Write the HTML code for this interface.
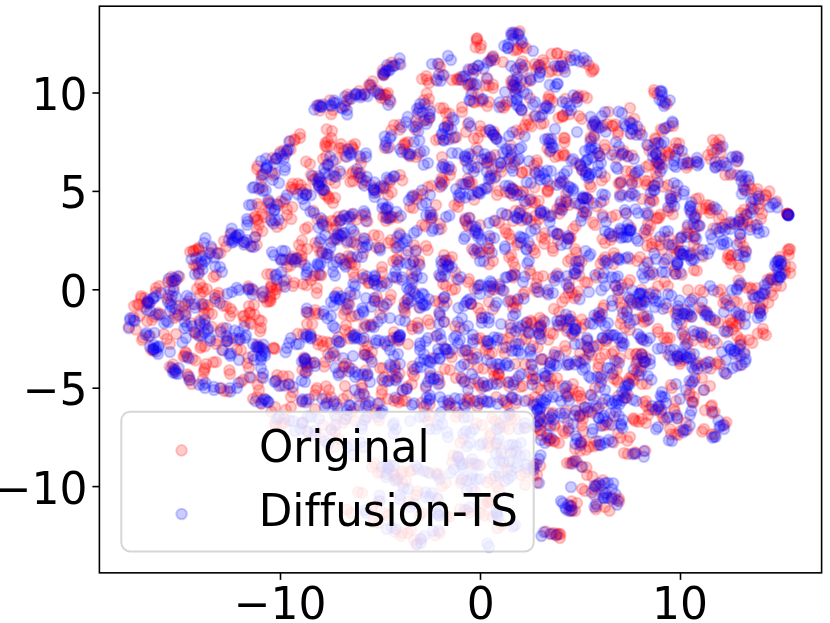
<!DOCTYPE html><html><head><meta charset="utf-8"><style>text{font-variant-ligatures:none}html,body{margin:0;padding:0;background:#fff;overflow:hidden}svg{display:block}</style></head><body><svg width="830" height="623" viewBox="0 0 830 623"><rect width="830" height="623" fill="#fff"/><g fill="#f00" fill-opacity="0.2" stroke="#f00" stroke-opacity="0.2" stroke-width="2"><circle cx="318.5" cy="105.3" r="5.3"/><circle cx="319.6" cy="104.9" r="5.3"/><circle cx="319.8" cy="110.6" r="5.3"/><circle cx="329.9" cy="100.2" r="5.3"/><circle cx="333.0" cy="110.0" r="5.3"/><circle cx="331.2" cy="114.2" r="5.3"/><circle cx="349.8" cy="97.1" r="5.3"/><circle cx="349.3" cy="99.0" r="5.3"/><circle cx="347.5" cy="94.5" r="5.3"/><circle cx="344.0" cy="105.9" r="5.3"/><circle cx="345.1" cy="106.6" r="5.3"/><circle cx="300.0" cy="134.0" r="5.3"/><circle cx="300.1" cy="137.9" r="5.3"/><circle cx="332.0" cy="131.0" r="5.3"/><circle cx="326.7" cy="129.3" r="5.3"/><circle cx="327.8" cy="141.0" r="5.3"/><circle cx="325.7" cy="142.8" r="5.3"/><circle cx="331.4" cy="138.1" r="5.3"/><circle cx="341.0" cy="144.0" r="5.3"/><circle cx="341.4" cy="148.2" r="5.3"/><circle cx="355.0" cy="144.0" r="5.3"/><circle cx="351.7" cy="145.8" r="5.3"/><circle cx="290.3" cy="141.2" r="5.3"/><circle cx="294.5" cy="140.4" r="5.3"/><circle cx="294.7" cy="139.2" r="5.3"/><circle cx="383.8" cy="74.4" r="5.3"/><circle cx="383.2" cy="74.9" r="5.3"/><circle cx="384.4" cy="73.8" r="5.3"/><circle cx="389.2" cy="66.7" r="5.3"/><circle cx="391.6" cy="62.6" r="5.3"/><circle cx="382.9" cy="69.9" r="5.3"/><circle cx="392.4" cy="65.8" r="5.3"/><circle cx="398.9" cy="63.5" r="5.3"/><circle cx="476.7" cy="38.7" r="5.3"/><circle cx="476.7" cy="40.7" r="5.3"/><circle cx="477.1" cy="38.4" r="5.3"/><circle cx="475.6" cy="47.3" r="5.3"/><circle cx="481.0" cy="45.0" r="5.3"/><circle cx="480.4" cy="48.3" r="5.3"/><circle cx="439.0" cy="64.0" r="5.3"/><circle cx="440.1" cy="67.0" r="5.3"/><circle cx="442.4" cy="74.8" r="5.3"/><circle cx="435.9" cy="79.4" r="5.3"/><circle cx="422.0" cy="79.0" r="5.3"/><circle cx="426.4" cy="76.0" r="5.3"/><circle cx="429.0" cy="83.0" r="5.3"/><circle cx="426.9" cy="79.9" r="5.3"/><circle cx="452.0" cy="80.0" r="5.3"/><circle cx="456.7" cy="79.1" r="5.3"/><circle cx="457.7" cy="79.9" r="5.3"/><circle cx="460.3" cy="77.0" r="5.3"/><circle cx="459.4" cy="79.4" r="5.3"/><circle cx="473.0" cy="68.6" r="5.3"/><circle cx="469.5" cy="70.6" r="5.3"/><circle cx="476.3" cy="70.1" r="5.3"/><circle cx="472.4" cy="83.3" r="5.3"/><circle cx="468.4" cy="84.5" r="5.3"/><circle cx="471.0" cy="83.4" r="5.3"/><circle cx="467.9" cy="85.1" r="5.3"/><circle cx="478.0" cy="94.0" r="5.3"/><circle cx="472.6" cy="91.9" r="5.3"/><circle cx="473.3" cy="101.6" r="5.3"/><circle cx="479.5" cy="101.2" r="5.3"/><circle cx="482.4" cy="101.3" r="5.3"/><circle cx="474.1" cy="102.5" r="5.3"/><circle cx="361.2" cy="95.3" r="5.3"/><circle cx="364.2" cy="94.3" r="5.3"/><circle cx="358.9" cy="91.0" r="5.3"/><circle cx="369.0" cy="84.8" r="5.3"/><circle cx="369.8" cy="85.9" r="5.3"/><circle cx="372.6" cy="81.2" r="5.3"/><circle cx="377.6" cy="90.5" r="5.3"/><circle cx="380.3" cy="94.6" r="5.3"/><circle cx="371.5" cy="88.0" r="5.3"/><circle cx="383.1" cy="94.7" r="5.3"/><circle cx="380.9" cy="97.7" r="5.3"/><circle cx="385.1" cy="94.5" r="5.3"/><circle cx="385.0" cy="99.2" r="5.3"/><circle cx="390.6" cy="102.1" r="5.3"/><circle cx="388.0" cy="93.0" r="5.3"/><circle cx="386.5" cy="95.1" r="5.3"/><circle cx="423.8" cy="100.0" r="5.3"/><circle cx="428.2" cy="105.3" r="5.3"/><circle cx="429.0" cy="99.0" r="5.3"/><circle cx="426.7" cy="93.5" r="5.3"/><circle cx="419.2" cy="110.4" r="5.3"/><circle cx="428.4" cy="120.1" r="5.3"/><circle cx="429.1" cy="117.5" r="5.3"/><circle cx="425.4" cy="120.0" r="5.3"/><circle cx="440.0" cy="108.0" r="5.3"/><circle cx="443.4" cy="108.1" r="5.3"/><circle cx="446.0" cy="113.0" r="5.3"/><circle cx="449.5" cy="113.5" r="5.3"/><circle cx="462.0" cy="112.0" r="5.3"/><circle cx="462.0" cy="107.2" r="5.3"/><circle cx="394.0" cy="125.0" r="5.3"/><circle cx="391.3" cy="130.3" r="5.3"/><circle cx="399.7" cy="129.6" r="5.3"/><circle cx="399.5" cy="124.7" r="5.3"/><circle cx="415.6" cy="129.8" r="5.3"/><circle cx="418.0" cy="124.0" r="5.3"/><circle cx="416.2" cy="120.2" r="5.3"/><circle cx="448.0" cy="125.3" r="5.3"/><circle cx="447.8" cy="126.3" r="5.3"/><circle cx="447.6" cy="122.1" r="5.3"/><circle cx="445.8" cy="138.7" r="5.3"/><circle cx="453.2" cy="138.2" r="5.3"/><circle cx="456.4" cy="137.0" r="5.3"/><circle cx="467.9" cy="124.1" r="5.3"/><circle cx="466.0" cy="132.0" r="5.3"/><circle cx="480.0" cy="126.0" r="5.3"/><circle cx="480.7" cy="131.6" r="5.3"/><circle cx="478.0" cy="138.0" r="5.3"/><circle cx="473.9" cy="138.2" r="5.3"/><circle cx="404.9" cy="143.1" r="5.3"/><circle cx="408.1" cy="142.0" r="5.3"/><circle cx="403.4" cy="145.1" r="5.3"/><circle cx="405.6" cy="144.6" r="5.3"/><circle cx="436.0" cy="140.0" r="5.3"/><circle cx="439.1" cy="138.7" r="5.3"/><circle cx="519.7" cy="31.2" r="5.3"/><circle cx="516.2" cy="33.4" r="5.3"/><circle cx="512.7" cy="34.4" r="5.3"/><circle cx="518.0" cy="48.6" r="5.3"/><circle cx="516.9" cy="50.1" r="5.3"/><circle cx="520.9" cy="44.7" r="5.3"/><circle cx="513.6" cy="50.1" r="5.3"/><circle cx="523.0" cy="47.0" r="5.3"/><circle cx="526.2" cy="48.3" r="5.3"/><circle cx="557.3" cy="53.2" r="5.3"/><circle cx="557.0" cy="53.6" r="5.3"/><circle cx="551.5" cy="53.9" r="5.3"/><circle cx="565.0" cy="56.0" r="5.3"/><circle cx="569.9" cy="57.0" r="5.3"/><circle cx="584.0" cy="62.8" r="5.3"/><circle cx="593.7" cy="68.7" r="5.3"/><circle cx="591.4" cy="71.6" r="5.3"/><circle cx="588.8" cy="65.2" r="5.3"/><circle cx="593.3" cy="70.4" r="5.3"/><circle cx="557.5" cy="66.4" r="5.3"/><circle cx="557.8" cy="70.5" r="5.3"/><circle cx="562.1" cy="62.2" r="5.3"/><circle cx="564.1" cy="68.4" r="5.3"/><circle cx="549.0" cy="72.0" r="5.3"/><circle cx="551.9" cy="70.5" r="5.3"/><circle cx="535.9" cy="69.7" r="5.3"/><circle cx="541.1" cy="67.6" r="5.3"/><circle cx="540.4" cy="65.0" r="5.3"/><circle cx="543.0" cy="60.0" r="5.3"/><circle cx="544.3" cy="63.0" r="5.3"/><circle cx="535.0" cy="64.0" r="5.3"/><circle cx="537.3" cy="67.1" r="5.3"/><circle cx="489.5" cy="60.6" r="5.3"/><circle cx="494.8" cy="59.9" r="5.3"/><circle cx="503.0" cy="62.0" r="5.3"/><circle cx="493.0" cy="56.0" r="5.3"/><circle cx="491.5" cy="58.7" r="5.3"/><circle cx="522.3" cy="61.3" r="5.3"/><circle cx="517.0" cy="68.1" r="5.3"/><circle cx="523.0" cy="70.0" r="5.3"/><circle cx="525.0" cy="65.2" r="5.3"/><circle cx="516.3" cy="79.4" r="5.3"/><circle cx="511.2" cy="80.9" r="5.3"/><circle cx="526.3" cy="81.7" r="5.3"/><circle cx="530.3" cy="80.5" r="5.3"/><circle cx="488.7" cy="85.8" r="5.3"/><circle cx="486.7" cy="77.7" r="5.3"/><circle cx="485.4" cy="85.4" r="5.3"/><circle cx="493.0" cy="88.0" r="5.3"/><circle cx="493.1" cy="84.6" r="5.3"/><circle cx="513.1" cy="87.3" r="5.3"/><circle cx="519.7" cy="87.4" r="5.3"/><circle cx="514.3" cy="85.4" r="5.3"/><circle cx="515.4" cy="91.9" r="5.3"/><circle cx="511.5" cy="84.7" r="5.3"/><circle cx="530.0" cy="98.3" r="5.3"/><circle cx="549.0" cy="96.0" r="5.3"/><circle cx="548.2" cy="98.8" r="5.3"/><circle cx="521.5" cy="109.8" r="5.3"/><circle cx="507.0" cy="102.0" r="5.3"/><circle cx="505.8" cy="105.0" r="5.3"/><circle cx="501.7" cy="106.3" r="5.3"/><circle cx="503.6" cy="107.7" r="5.3"/><circle cx="489.0" cy="102.0" r="5.3"/><circle cx="487.3" cy="106.1" r="5.3"/><circle cx="543.6" cy="108.4" r="5.3"/><circle cx="553.0" cy="102.0" r="5.3"/><circle cx="550.3" cy="99.4" r="5.3"/><circle cx="534.5" cy="116.3" r="5.3"/><circle cx="563.1" cy="116.5" r="5.3"/><circle cx="558.5" cy="118.1" r="5.3"/><circle cx="562.4" cy="116.3" r="5.3"/><circle cx="562.9" cy="115.4" r="5.3"/><circle cx="565.3" cy="98.9" r="5.3"/><circle cx="576.1" cy="98.8" r="5.3"/><circle cx="577.0" cy="97.3" r="5.3"/><circle cx="578.5" cy="95.5" r="5.3"/><circle cx="587.0" cy="98.0" r="5.3"/><circle cx="583.5" cy="96.0" r="5.3"/><circle cx="569.4" cy="114.2" r="5.3"/><circle cx="579.0" cy="116.0" r="5.3"/><circle cx="581.8" cy="118.9" r="5.3"/><circle cx="525.2" cy="124.7" r="5.3"/><circle cx="529.2" cy="124.6" r="5.3"/><circle cx="531.4" cy="126.5" r="5.3"/><circle cx="527.7" cy="119.8" r="5.3"/><circle cx="541.0" cy="124.0" r="5.3"/><circle cx="543.8" cy="123.1" r="5.3"/><circle cx="522.7" cy="129.1" r="5.3"/><circle cx="592.3" cy="126.2" r="5.3"/><circle cx="594.5" cy="122.4" r="5.3"/><circle cx="596.1" cy="126.9" r="5.3"/><circle cx="603.2" cy="125.7" r="5.3"/><circle cx="608.3" cy="111.8" r="5.3"/><circle cx="607.0" cy="124.0" r="5.3"/><circle cx="612.1" cy="125.6" r="5.3"/><circle cx="494.0" cy="131.7" r="5.3"/><circle cx="485.7" cy="131.6" r="5.3"/><circle cx="493.2" cy="134.4" r="5.3"/><circle cx="495.6" cy="137.1" r="5.3"/><circle cx="519.0" cy="134.0" r="5.3"/><circle cx="516.3" cy="130.5" r="5.3"/><circle cx="549.6" cy="139.6" r="5.3"/><circle cx="565.0" cy="138.2" r="5.3"/><circle cx="563.8" cy="137.7" r="5.3"/><circle cx="564.4" cy="142.4" r="5.3"/><circle cx="591.4" cy="139.1" r="5.3"/><circle cx="594.4" cy="137.2" r="5.3"/><circle cx="590.5" cy="137.5" r="5.3"/><circle cx="654.0" cy="90.0" r="5.3"/><circle cx="654.4" cy="92.8" r="5.3"/><circle cx="657.5" cy="94.1" r="5.3"/><circle cx="665.2" cy="101.8" r="5.3"/><circle cx="667.0" cy="104.1" r="5.3"/><circle cx="630.0" cy="108.0" r="5.3"/><circle cx="613.0" cy="126.0" r="5.3"/><circle cx="615.5" cy="124.4" r="5.3"/><circle cx="629.6" cy="121.4" r="5.3"/><circle cx="634.4" cy="118.9" r="5.3"/><circle cx="631.2" cy="134.0" r="5.3"/><circle cx="618.0" cy="135.0" r="5.3"/><circle cx="618.1" cy="131.8" r="5.3"/><circle cx="640.0" cy="130.0" r="5.3"/><circle cx="639.9" cy="133.5" r="5.3"/><circle cx="662.5" cy="130.9" r="5.3"/><circle cx="660.8" cy="129.2" r="5.3"/><circle cx="673.1" cy="126.0" r="5.3"/><circle cx="669.1" cy="126.2" r="5.3"/><circle cx="654.9" cy="138.4" r="5.3"/><circle cx="655.8" cy="139.4" r="5.3"/><circle cx="657.6" cy="143.0" r="5.3"/><circle cx="676.0" cy="143.0" r="5.3"/><circle cx="679.2" cy="143.5" r="5.3"/><circle cx="719.5" cy="139.9" r="5.3"/><circle cx="715.6" cy="143.3" r="5.3"/><circle cx="718.4" cy="145.1" r="5.3"/><circle cx="713.0" cy="140.0" r="5.3"/><circle cx="230.6" cy="234.4" r="5.3"/><circle cx="224.0" cy="241.0" r="5.3"/><circle cx="226.2" cy="246.5" r="5.3"/><circle cx="198.6" cy="247.8" r="5.3"/><circle cx="198.8" cy="250.2" r="5.3"/><circle cx="198.9" cy="248.7" r="5.3"/><circle cx="196.0" cy="249.7" r="5.3"/><circle cx="193.8" cy="251.1" r="5.3"/><circle cx="193.0" cy="251.0" r="5.3"/><circle cx="190.1" cy="251.7" r="5.3"/><circle cx="211.8" cy="248.5" r="5.3"/><circle cx="209.1" cy="253.6" r="5.3"/><circle cx="220.4" cy="253.1" r="5.3"/><circle cx="217.0" cy="252.9" r="5.3"/><circle cx="194.0" cy="265.0" r="5.3"/><circle cx="198.0" cy="263.4" r="5.3"/><circle cx="198.7" cy="269.1" r="5.3"/><circle cx="290.7" cy="149.6" r="5.3"/><circle cx="285.6" cy="154.0" r="5.3"/><circle cx="283.8" cy="150.5" r="5.3"/><circle cx="280.2" cy="151.9" r="5.3"/><circle cx="272.3" cy="157.7" r="5.3"/><circle cx="276.2" cy="159.0" r="5.3"/><circle cx="257.0" cy="169.0" r="5.3"/><circle cx="257.6" cy="166.1" r="5.3"/><circle cx="261.2" cy="175.0" r="5.3"/><circle cx="262.1" cy="175.8" r="5.3"/><circle cx="273.3" cy="175.4" r="5.3"/><circle cx="271.9" cy="172.3" r="5.3"/><circle cx="259.4" cy="187.9" r="5.3"/><circle cx="262.4" cy="187.2" r="5.3"/><circle cx="326.7" cy="146.7" r="5.3"/><circle cx="325.1" cy="145.5" r="5.3"/><circle cx="330.3" cy="145.5" r="5.3"/><circle cx="339.0" cy="148.0" r="5.3"/><circle cx="352.4" cy="147.8" r="5.3"/><circle cx="353.2" cy="149.3" r="5.3"/><circle cx="345.4" cy="156.1" r="5.3"/><circle cx="344.0" cy="150.6" r="5.3"/><circle cx="310.0" cy="164.0" r="5.3"/><circle cx="306.0" cy="161.6" r="5.3"/><circle cx="323.0" cy="159.0" r="5.3"/><circle cx="326.3" cy="156.1" r="5.3"/><circle cx="336.0" cy="159.4" r="5.3"/><circle cx="326.6" cy="164.8" r="5.3"/><circle cx="340.9" cy="173.9" r="5.3"/><circle cx="333.9" cy="171.7" r="5.3"/><circle cx="318.1" cy="176.2" r="5.3"/><circle cx="313.1" cy="179.6" r="5.3"/><circle cx="311.0" cy="175.0" r="5.3"/><circle cx="315.2" cy="179.1" r="5.3"/><circle cx="319.3" cy="187.3" r="5.3"/><circle cx="319.6" cy="183.1" r="5.3"/><circle cx="322.1" cy="183.0" r="5.3"/><circle cx="300.3" cy="189.3" r="5.3"/><circle cx="295.0" cy="189.0" r="5.3"/><circle cx="292.3" cy="189.2" r="5.3"/><circle cx="306.8" cy="193.9" r="5.3"/><circle cx="306.1" cy="189.3" r="5.3"/><circle cx="301.0" cy="185.0" r="5.3"/><circle cx="297.8" cy="183.6" r="5.3"/><circle cx="291.0" cy="187.0" r="5.3"/><circle cx="292.7" cy="183.8" r="5.3"/><circle cx="335.0" cy="183.0" r="5.3"/><circle cx="330.5" cy="179.6" r="5.3"/><circle cx="329.0" cy="197.1" r="5.3"/><circle cx="328.9" cy="198.7" r="5.3"/><circle cx="324.4" cy="194.2" r="5.3"/><circle cx="333.0" cy="203.0" r="5.3"/><circle cx="335.1" cy="197.9" r="5.3"/><circle cx="324.7" cy="190.7" r="5.3"/><circle cx="326.8" cy="195.3" r="5.3"/><circle cx="356.1" cy="172.5" r="5.3"/><circle cx="353.1" cy="171.5" r="5.3"/><circle cx="351.9" cy="173.7" r="5.3"/><circle cx="353.0" cy="181.0" r="5.3"/><circle cx="350.3" cy="181.7" r="5.3"/><circle cx="313.3" cy="210.7" r="5.3"/><circle cx="278.6" cy="205.2" r="5.3"/><circle cx="269.1" cy="201.7" r="5.3"/><circle cx="268.4" cy="202.7" r="5.3"/><circle cx="269.4" cy="210.3" r="5.3"/><circle cx="281.0" cy="201.0" r="5.3"/><circle cx="283.3" cy="202.3" r="5.3"/><circle cx="287.0" cy="209.0" r="5.3"/><circle cx="292.4" cy="207.1" r="5.3"/><circle cx="287.0" cy="215.0" r="5.3"/><circle cx="291.3" cy="219.0" r="5.3"/><circle cx="271.6" cy="221.5" r="5.3"/><circle cx="277.0" cy="227.0" r="5.3"/><circle cx="281.5" cy="223.9" r="5.3"/><circle cx="259.0" cy="207.0" r="5.3"/><circle cx="257.4" cy="203.8" r="5.3"/><circle cx="255.0" cy="216.2" r="5.3"/><circle cx="254.4" cy="218.1" r="5.3"/><circle cx="258.0" cy="219.9" r="5.3"/><circle cx="256.6" cy="219.9" r="5.3"/><circle cx="259.0" cy="225.0" r="5.3"/><circle cx="265.0" cy="217.0" r="5.3"/><circle cx="262.2" cy="214.1" r="5.3"/><circle cx="235.7" cy="236.5" r="5.3"/><circle cx="244.0" cy="242.3" r="5.3"/><circle cx="250.7" cy="246.2" r="5.3"/><circle cx="256.7" cy="244.9" r="5.3"/><circle cx="255.4" cy="236.9" r="5.3"/><circle cx="257.0" cy="231.0" r="5.3"/><circle cx="262.4" cy="231.1" r="5.3"/><circle cx="305.0" cy="229.0" r="5.3"/><circle cx="307.8" cy="227.3" r="5.3"/><circle cx="322.2" cy="221.5" r="5.3"/><circle cx="323.9" cy="220.8" r="5.3"/><circle cx="317.5" cy="219.1" r="5.3"/><circle cx="326.7" cy="226.6" r="5.3"/><circle cx="299.0" cy="245.0" r="5.3"/><circle cx="302.0" cy="240.4" r="5.3"/><circle cx="307.0" cy="249.0" r="5.3"/><circle cx="301.5" cy="249.8" r="5.3"/><circle cx="282.3" cy="259.5" r="5.3"/><circle cx="290.7" cy="258.9" r="5.3"/><circle cx="292.5" cy="260.1" r="5.3"/><circle cx="292.1" cy="256.6" r="5.3"/><circle cx="297.3" cy="257.8" r="5.3"/><circle cx="301.7" cy="256.1" r="5.3"/><circle cx="301.8" cy="259.8" r="5.3"/><circle cx="300.8" cy="262.3" r="5.3"/><circle cx="287.0" cy="267.0" r="5.3"/><circle cx="290.6" cy="265.5" r="5.3"/><circle cx="315.4" cy="242.7" r="5.3"/><circle cx="317.2" cy="246.7" r="5.3"/><circle cx="322.0" cy="251.9" r="5.3"/><circle cx="320.4" cy="252.9" r="5.3"/><circle cx="340.7" cy="220.4" r="5.3"/><circle cx="338.4" cy="216.7" r="5.3"/><circle cx="344.3" cy="215.9" r="5.3"/><circle cx="335.0" cy="221.0" r="5.3"/><circle cx="331.6" cy="220.7" r="5.3"/><circle cx="350.4" cy="218.5" r="5.3"/><circle cx="352.1" cy="214.1" r="5.3"/><circle cx="356.5" cy="219.8" r="5.3"/><circle cx="340.4" cy="234.6" r="5.3"/><circle cx="341.2" cy="236.2" r="5.3"/><circle cx="333.0" cy="229.0" r="5.3"/><circle cx="335.8" cy="226.1" r="5.3"/><circle cx="355.0" cy="235.0" r="5.3"/><circle cx="333.6" cy="240.2" r="5.3"/><circle cx="335.3" cy="238.8" r="5.3"/><circle cx="347.1" cy="242.9" r="5.3"/><circle cx="357.0" cy="245.0" r="5.3"/><circle cx="354.0" cy="242.6" r="5.3"/><circle cx="327.4" cy="254.5" r="5.3"/><circle cx="339.5" cy="258.2" r="5.3"/><circle cx="343.9" cy="260.0" r="5.3"/><circle cx="351.5" cy="258.6" r="5.3"/><circle cx="348.3" cy="255.8" r="5.3"/><circle cx="346.4" cy="263.5" r="5.3"/><circle cx="351.6" cy="263.4" r="5.3"/><circle cx="355.0" cy="265.0" r="5.3"/><circle cx="350.0" cy="262.5" r="5.3"/><circle cx="361.0" cy="158.2" r="5.3"/><circle cx="361.1" cy="163.3" r="5.3"/><circle cx="360.4" cy="173.0" r="5.3"/><circle cx="359.0" cy="176.8" r="5.3"/><circle cx="363.2" cy="179.9" r="5.3"/><circle cx="362.3" cy="183.3" r="5.3"/><circle cx="389.2" cy="147.2" r="5.3"/><circle cx="384.8" cy="147.9" r="5.3"/><circle cx="407.0" cy="153.6" r="5.3"/><circle cx="410.1" cy="156.2" r="5.3"/><circle cx="404.0" cy="149.5" r="5.3"/><circle cx="416.0" cy="157.0" r="5.3"/><circle cx="418.2" cy="154.2" r="5.3"/><circle cx="391.0" cy="179.9" r="5.3"/><circle cx="390.1" cy="181.8" r="5.3"/><circle cx="400.0" cy="175.0" r="5.3"/><circle cx="402.3" cy="180.4" r="5.3"/><circle cx="383.5" cy="186.3" r="5.3"/><circle cx="385.3" cy="188.3" r="5.3"/><circle cx="380.0" cy="187.7" r="5.3"/><circle cx="370.9" cy="185.2" r="5.3"/><circle cx="374.8" cy="189.9" r="5.3"/><circle cx="376.8" cy="192.1" r="5.3"/><circle cx="388.0" cy="195.0" r="5.3"/><circle cx="391.7" cy="192.3" r="5.3"/><circle cx="385.5" cy="209.3" r="5.3"/><circle cx="390.0" cy="219.0" r="5.3"/><circle cx="385.9" cy="215.0" r="5.3"/><circle cx="391.3" cy="216.4" r="5.3"/><circle cx="393.1" cy="217.0" r="5.3"/><circle cx="398.3" cy="217.6" r="5.3"/><circle cx="386.0" cy="221.0" r="5.3"/><circle cx="383.3" cy="216.8" r="5.3"/><circle cx="367.4" cy="221.4" r="5.3"/><circle cx="362.0" cy="215.0" r="5.3"/><circle cx="365.5" cy="215.9" r="5.3"/><circle cx="413.6" cy="196.5" r="5.3"/><circle cx="416.7" cy="199.0" r="5.3"/><circle cx="410.0" cy="207.0" r="5.3"/><circle cx="413.2" cy="208.0" r="5.3"/><circle cx="422.9" cy="194.4" r="5.3"/><circle cx="418.0" cy="194.2" r="5.3"/><circle cx="428.0" cy="187.0" r="5.3"/><circle cx="431.8" cy="185.7" r="5.3"/><circle cx="436.0" cy="205.0" r="5.3"/><circle cx="432.6" cy="215.3" r="5.3"/><circle cx="430.6" cy="217.9" r="5.3"/><circle cx="430.9" cy="219.8" r="5.3"/><circle cx="441.3" cy="228.6" r="5.3"/><circle cx="440.2" cy="223.9" r="5.3"/><circle cx="422.0" cy="225.0" r="5.3"/><circle cx="425.2" cy="226.3" r="5.3"/><circle cx="444.3" cy="167.2" r="5.3"/><circle cx="442.0" cy="157.0" r="5.3"/><circle cx="442.1" cy="180.1" r="5.3"/><circle cx="444.2" cy="181.7" r="5.3"/><circle cx="441.9" cy="178.0" r="5.3"/><circle cx="450.0" cy="175.0" r="5.3"/><circle cx="451.2" cy="169.7" r="5.3"/><circle cx="440.0" cy="187.0" r="5.3"/><circle cx="441.7" cy="183.8" r="5.3"/><circle cx="465.0" cy="160.2" r="5.3"/><circle cx="472.0" cy="155.6" r="5.3"/><circle cx="474.6" cy="167.7" r="5.3"/><circle cx="476.4" cy="148.4" r="5.3"/><circle cx="461.2" cy="184.0" r="5.3"/><circle cx="469.4" cy="182.0" r="5.3"/><circle cx="467.9" cy="178.6" r="5.3"/><circle cx="459.1" cy="201.3" r="5.3"/><circle cx="458.0" cy="207.0" r="5.3"/><circle cx="454.5" cy="205.1" r="5.3"/><circle cx="474.2" cy="199.8" r="5.3"/><circle cx="478.3" cy="192.4" r="5.3"/><circle cx="472.0" cy="183.0" r="5.3"/><circle cx="469.7" cy="184.5" r="5.3"/><circle cx="468.5" cy="225.9" r="5.3"/><circle cx="475.0" cy="232.6" r="5.3"/><circle cx="467.2" cy="225.0" r="5.3"/><circle cx="465.8" cy="221.2" r="5.3"/><circle cx="465.3" cy="218.5" r="5.3"/><circle cx="469.6" cy="218.0" r="5.3"/><circle cx="480.0" cy="225.0" r="5.3"/><circle cx="478.0" cy="250.5" r="5.3"/><circle cx="481.5" cy="251.9" r="5.3"/><circle cx="472.0" cy="249.0" r="5.3"/><circle cx="475.4" cy="253.4" r="5.3"/><circle cx="443.8" cy="262.8" r="5.3"/><circle cx="444.0" cy="255.0" r="5.3"/><circle cx="445.2" cy="260.5" r="5.3"/><circle cx="452.0" cy="257.0" r="5.3"/><circle cx="449.3" cy="260.2" r="5.3"/><circle cx="446.0" cy="265.9" r="5.3"/><circle cx="365.5" cy="238.9" r="5.3"/><circle cx="374.0" cy="235.0" r="5.3"/><circle cx="378.4" cy="235.9" r="5.3"/><circle cx="363.1" cy="253.4" r="5.3"/><circle cx="379.5" cy="247.3" r="5.3"/><circle cx="376.2" cy="247.4" r="5.3"/><circle cx="388.0" cy="243.0" r="5.3"/><circle cx="390.8" cy="240.0" r="5.3"/><circle cx="395.7" cy="247.9" r="5.3"/><circle cx="395.4" cy="242.6" r="5.3"/><circle cx="399.5" cy="233.3" r="5.3"/><circle cx="414.0" cy="245.0" r="5.3"/><circle cx="415.7" cy="249.8" r="5.3"/><circle cx="426.0" cy="246.0" r="5.3"/><circle cx="427.7" cy="250.1" r="5.3"/><circle cx="406.1" cy="254.7" r="5.3"/><circle cx="397.4" cy="259.7" r="5.3"/><circle cx="396.4" cy="259.4" r="5.3"/><circle cx="393.4" cy="261.2" r="5.3"/><circle cx="418.8" cy="263.5" r="5.3"/><circle cx="419.0" cy="260.6" r="5.3"/><circle cx="413.6" cy="261.9" r="5.3"/><circle cx="382.0" cy="267.0" r="5.3"/><circle cx="381.8" cy="272.0" r="5.3"/><circle cx="549.6" cy="151.7" r="5.3"/><circle cx="547.4" cy="148.6" r="5.3"/><circle cx="563.4" cy="155.7" r="5.3"/><circle cx="563.3" cy="153.2" r="5.3"/><circle cx="564.8" cy="155.0" r="5.3"/><circle cx="555.0" cy="157.0" r="5.3"/><circle cx="558.5" cy="155.6" r="5.3"/><circle cx="510.7" cy="145.4" r="5.3"/><circle cx="511.3" cy="154.9" r="5.3"/><circle cx="495.0" cy="155.0" r="5.3"/><circle cx="490.5" cy="158.2" r="5.3"/><circle cx="486.8" cy="163.4" r="5.3"/><circle cx="488.7" cy="160.9" r="5.3"/><circle cx="484.2" cy="159.7" r="5.3"/><circle cx="507.6" cy="161.5" r="5.3"/><circle cx="515.0" cy="161.6" r="5.3"/><circle cx="513.7" cy="165.0" r="5.3"/><circle cx="534.2" cy="165.4" r="5.3"/><circle cx="537.0" cy="163.0" r="5.3"/><circle cx="536.8" cy="160.2" r="5.3"/><circle cx="597.3" cy="153.2" r="5.3"/><circle cx="600.1" cy="155.9" r="5.3"/><circle cx="605.0" cy="149.0" r="5.3"/><circle cx="604.7" cy="144.8" r="5.3"/><circle cx="575.8" cy="163.1" r="5.3"/><circle cx="580.6" cy="166.1" r="5.3"/><circle cx="491.2" cy="175.0" r="5.3"/><circle cx="494.6" cy="178.2" r="5.3"/><circle cx="492.2" cy="169.4" r="5.3"/><circle cx="501.1" cy="167.0" r="5.3"/><circle cx="501.5" cy="171.7" r="5.3"/><circle cx="521.9" cy="172.7" r="5.3"/><circle cx="522.0" cy="172.2" r="5.3"/><circle cx="526.5" cy="170.7" r="5.3"/><circle cx="534.6" cy="187.5" r="5.3"/><circle cx="536.0" cy="173.4" r="5.3"/><circle cx="560.2" cy="182.3" r="5.3"/><circle cx="563.9" cy="182.1" r="5.3"/><circle cx="585.5" cy="172.1" r="5.3"/><circle cx="582.2" cy="170.4" r="5.3"/><circle cx="605.0" cy="177.0" r="5.3"/><circle cx="601.6" cy="180.5" r="5.3"/><circle cx="488.4" cy="186.8" r="5.3"/><circle cx="497.0" cy="195.0" r="5.3"/><circle cx="499.2" cy="190.7" r="5.3"/><circle cx="512.4" cy="187.9" r="5.3"/><circle cx="513.1" cy="189.1" r="5.3"/><circle cx="513.3" cy="195.8" r="5.3"/><circle cx="510.1" cy="192.6" r="5.3"/><circle cx="505.8" cy="192.0" r="5.3"/><circle cx="517.0" cy="191.0" r="5.3"/><circle cx="523.0" cy="191.2" r="5.3"/><circle cx="523.0" cy="192.5" r="5.3"/><circle cx="530.9" cy="198.9" r="5.3"/><circle cx="531.9" cy="202.0" r="5.3"/><circle cx="526.1" cy="203.9" r="5.3"/><circle cx="535.0" cy="203.0" r="5.3"/><circle cx="538.9" cy="200.8" r="5.3"/><circle cx="548.2" cy="190.8" r="5.3"/><circle cx="547.3" cy="190.1" r="5.3"/><circle cx="547.5" cy="192.1" r="5.3"/><circle cx="550.0" cy="185.6" r="5.3"/><circle cx="565.7" cy="202.0" r="5.3"/><circle cx="565.9" cy="199.7" r="5.3"/><circle cx="566.2" cy="193.3" r="5.3"/><circle cx="578.6" cy="204.3" r="5.3"/><circle cx="583.2" cy="198.0" r="5.3"/><circle cx="587.5" cy="198.7" r="5.3"/><circle cx="588.7" cy="199.8" r="5.3"/><circle cx="591.0" cy="187.0" r="5.3"/><circle cx="589.7" cy="184.4" r="5.3"/><circle cx="603.7" cy="200.5" r="5.3"/><circle cx="596.6" cy="206.4" r="5.3"/><circle cx="520.5" cy="210.2" r="5.3"/><circle cx="515.5" cy="210.8" r="5.3"/><circle cx="506.0" cy="214.6" r="5.3"/><circle cx="526.9" cy="217.4" r="5.3"/><circle cx="522.9" cy="215.9" r="5.3"/><circle cx="521.6" cy="220.4" r="5.3"/><circle cx="513.0" cy="221.0" r="5.3"/><circle cx="531.0" cy="221.0" r="5.3"/><circle cx="535.6" cy="224.1" r="5.3"/><circle cx="540.1" cy="210.3" r="5.3"/><circle cx="550.9" cy="215.0" r="5.3"/><circle cx="544.6" cy="214.9" r="5.3"/><circle cx="561.3" cy="209.4" r="5.3"/><circle cx="557.1" cy="208.8" r="5.3"/><circle cx="559.5" cy="213.6" r="5.3"/><circle cx="560.1" cy="204.1" r="5.3"/><circle cx="539.0" cy="219.0" r="5.3"/><circle cx="535.4" cy="215.7" r="5.3"/><circle cx="569.0" cy="205.0" r="5.3"/><circle cx="563.4" cy="206.4" r="5.3"/><circle cx="583.0" cy="212.2" r="5.3"/><circle cx="584.2" cy="212.1" r="5.3"/><circle cx="586.0" cy="214.1" r="5.3"/><circle cx="595.0" cy="225.0" r="5.3"/><circle cx="592.9" cy="222.6" r="5.3"/><circle cx="602.5" cy="214.7" r="5.3"/><circle cx="499.0" cy="223.0" r="5.3"/><circle cx="495.6" cy="220.8" r="5.3"/><circle cx="490.2" cy="238.6" r="5.3"/><circle cx="505.0" cy="229.0" r="5.3"/><circle cx="506.3" cy="232.9" r="5.3"/><circle cx="511.0" cy="239.0" r="5.3"/><circle cx="509.0" cy="234.4" r="5.3"/><circle cx="517.0" cy="245.0" r="5.3"/><circle cx="517.7" cy="242.6" r="5.3"/><circle cx="545.0" cy="233.0" r="5.3"/><circle cx="541.7" cy="237.3" r="5.3"/><circle cx="545.0" cy="239.0" r="5.3"/><circle cx="544.3" cy="243.9" r="5.3"/><circle cx="557.4" cy="233.9" r="5.3"/><circle cx="559.3" cy="234.4" r="5.3"/><circle cx="557.9" cy="240.5" r="5.3"/><circle cx="569.6" cy="238.3" r="5.3"/><circle cx="568.6" cy="239.0" r="5.3"/><circle cx="570.8" cy="237.6" r="5.3"/><circle cx="573.0" cy="229.0" r="5.3"/><circle cx="575.8" cy="225.7" r="5.3"/><circle cx="605.0" cy="243.0" r="5.3"/><circle cx="602.5" cy="239.0" r="5.3"/><circle cx="488.8" cy="248.5" r="5.3"/><circle cx="488.8" cy="253.0" r="5.3"/><circle cx="489.2" cy="248.9" r="5.3"/><circle cx="509.0" cy="257.0" r="5.3"/><circle cx="511.3" cy="255.1" r="5.3"/><circle cx="493.0" cy="261.0" r="5.3"/><circle cx="489.0" cy="264.2" r="5.3"/><circle cx="530.6" cy="246.5" r="5.3"/><circle cx="535.0" cy="253.0" r="5.3"/><circle cx="533.7" cy="249.8" r="5.3"/><circle cx="553.0" cy="251.0" r="5.3"/><circle cx="552.8" cy="247.9" r="5.3"/><circle cx="575.0" cy="249.0" r="5.3"/><circle cx="576.2" cy="252.4" r="5.3"/><circle cx="571.0" cy="259.0" r="5.3"/><circle cx="568.0" cy="261.4" r="5.3"/><circle cx="579.1" cy="260.4" r="5.3"/><circle cx="581.7" cy="261.5" r="5.3"/><circle cx="577.9" cy="267.6" r="5.3"/><circle cx="603.0" cy="260.1" r="5.3"/><circle cx="605.1" cy="257.2" r="5.3"/><circle cx="600.5" cy="263.8" r="5.3"/><circle cx="515.0" cy="267.0" r="5.3"/><circle cx="513.1" cy="262.1" r="5.3"/><circle cx="613.9" cy="151.5" r="5.3"/><circle cx="616.2" cy="158.1" r="5.3"/><circle cx="623.6" cy="150.7" r="5.3"/><circle cx="627.4" cy="156.6" r="5.3"/><circle cx="622.5" cy="153.2" r="5.3"/><circle cx="632.0" cy="155.3" r="5.3"/><circle cx="648.1" cy="145.4" r="5.3"/><circle cx="649.4" cy="150.6" r="5.3"/><circle cx="655.9" cy="153.8" r="5.3"/><circle cx="660.4" cy="152.3" r="5.3"/><circle cx="666.7" cy="151.8" r="5.3"/><circle cx="668.3" cy="153.0" r="5.3"/><circle cx="668.2" cy="155.7" r="5.3"/><circle cx="669.8" cy="154.5" r="5.3"/><circle cx="662.2" cy="164.1" r="5.3"/><circle cx="656.4" cy="162.3" r="5.3"/><circle cx="658.9" cy="159.9" r="5.3"/><circle cx="674.0" cy="149.0" r="5.3"/><circle cx="678.2" cy="149.8" r="5.3"/><circle cx="686.7" cy="167.6" r="5.3"/><circle cx="690.2" cy="162.9" r="5.3"/><circle cx="687.8" cy="165.0" r="5.3"/><circle cx="684.0" cy="158.5" r="5.3"/><circle cx="696.5" cy="161.6" r="5.3"/><circle cx="708.0" cy="155.0" r="5.3"/><circle cx="713.4" cy="153.2" r="5.3"/><circle cx="717.4" cy="165.6" r="5.3"/><circle cx="710.8" cy="159.3" r="5.3"/><circle cx="720.3" cy="147.3" r="5.3"/><circle cx="720.5" cy="152.6" r="5.3"/><circle cx="712.1" cy="150.1" r="5.3"/><circle cx="723.3" cy="161.8" r="5.3"/><circle cx="626.0" cy="171.0" r="5.3"/><circle cx="631.4" cy="171.3" r="5.3"/><circle cx="634.4" cy="176.1" r="5.3"/><circle cx="646.0" cy="167.0" r="5.3"/><circle cx="649.2" cy="164.9" r="5.3"/><circle cx="656.0" cy="173.0" r="5.3"/><circle cx="657.3" cy="176.9" r="5.3"/><circle cx="659.5" cy="165.3" r="5.3"/><circle cx="657.5" cy="167.5" r="5.3"/><circle cx="657.7" cy="162.6" r="5.3"/><circle cx="618.7" cy="183.2" r="5.3"/><circle cx="619.8" cy="183.6" r="5.3"/><circle cx="621.0" cy="181.6" r="5.3"/><circle cx="629.7" cy="180.3" r="5.3"/><circle cx="632.1" cy="181.8" r="5.3"/><circle cx="636.9" cy="182.2" r="5.3"/><circle cx="648.0" cy="181.0" r="5.3"/><circle cx="645.1" cy="180.8" r="5.3"/><circle cx="730.1" cy="174.9" r="5.3"/><circle cx="725.3" cy="174.9" r="5.3"/><circle cx="620.0" cy="194.4" r="5.3"/><circle cx="631.0" cy="193.6" r="5.3"/><circle cx="642.0" cy="199.0" r="5.3"/><circle cx="654.6" cy="185.4" r="5.3"/><circle cx="646.6" cy="184.7" r="5.3"/><circle cx="652.3" cy="186.5" r="5.3"/><circle cx="649.6" cy="198.9" r="5.3"/><circle cx="653.7" cy="200.7" r="5.3"/><circle cx="652.4" cy="199.8" r="5.3"/><circle cx="668.0" cy="185.0" r="5.3"/><circle cx="663.4" cy="186.8" r="5.3"/><circle cx="676.0" cy="191.0" r="5.3"/><circle cx="670.6" cy="207.8" r="5.3"/><circle cx="671.2" cy="198.8" r="5.3"/><circle cx="672.4" cy="196.3" r="5.3"/><circle cx="696.0" cy="199.0" r="5.3"/><circle cx="698.8" cy="198.4" r="5.3"/><circle cx="706.0" cy="205.0" r="5.3"/><circle cx="709.4" cy="205.3" r="5.3"/><circle cx="616.0" cy="215.0" r="5.3"/><circle cx="611.5" cy="216.9" r="5.3"/><circle cx="626.0" cy="213.6" r="5.3"/><circle cx="648.4" cy="213.2" r="5.3"/><circle cx="660.4" cy="214.5" r="5.3"/><circle cx="657.6" cy="217.7" r="5.3"/><circle cx="659.2" cy="217.6" r="5.3"/><circle cx="656.7" cy="218.7" r="5.3"/><circle cx="668.0" cy="211.0" r="5.3"/><circle cx="672.8" cy="214.2" r="5.3"/><circle cx="695.8" cy="217.8" r="5.3"/><circle cx="696.4" cy="214.7" r="5.3"/><circle cx="691.4" cy="211.3" r="5.3"/><circle cx="702.0" cy="209.0" r="5.3"/><circle cx="705.7" cy="208.1" r="5.3"/><circle cx="712.0" cy="209.3" r="5.3"/><circle cx="710.0" cy="213.0" r="5.3"/><circle cx="710.3" cy="209.7" r="5.3"/><circle cx="722.0" cy="215.0" r="5.3"/><circle cx="718.9" cy="218.6" r="5.3"/><circle cx="732.2" cy="223.7" r="5.3"/><circle cx="728.9" cy="223.5" r="5.3"/><circle cx="725.2" cy="224.2" r="5.3"/><circle cx="630.9" cy="227.8" r="5.3"/><circle cx="618.1" cy="232.5" r="5.3"/><circle cx="613.6" cy="236.2" r="5.3"/><circle cx="610.7" cy="239.9" r="5.3"/><circle cx="647.8" cy="223.8" r="5.3"/><circle cx="648.5" cy="230.3" r="5.3"/><circle cx="650.3" cy="225.4" r="5.3"/><circle cx="644.0" cy="233.0" r="5.3"/><circle cx="646.0" cy="235.4" r="5.3"/><circle cx="656.0" cy="241.0" r="5.3"/><circle cx="652.0" cy="243.8" r="5.3"/><circle cx="664.2" cy="238.8" r="5.3"/><circle cx="668.7" cy="236.8" r="5.3"/><circle cx="680.2" cy="238.2" r="5.3"/><circle cx="688.6" cy="233.6" r="5.3"/><circle cx="693.1" cy="236.3" r="5.3"/><circle cx="694.0" cy="237.3" r="5.3"/><circle cx="687.1" cy="232.3" r="5.3"/><circle cx="694.4" cy="227.5" r="5.3"/><circle cx="699.3" cy="226.1" r="5.3"/><circle cx="687.5" cy="227.0" r="5.3"/><circle cx="720.4" cy="227.6" r="5.3"/><circle cx="713.5" cy="228.3" r="5.3"/><circle cx="614.0" cy="253.0" r="5.3"/><circle cx="614.4" cy="257.0" r="5.3"/><circle cx="613.1" cy="264.2" r="5.3"/><circle cx="629.7" cy="258.9" r="5.3"/><circle cx="640.0" cy="257.0" r="5.3"/><circle cx="636.9" cy="260.9" r="5.3"/><circle cx="647.3" cy="261.7" r="5.3"/><circle cx="665.5" cy="259.9" r="5.3"/><circle cx="652.0" cy="247.0" r="5.3"/><circle cx="647.1" cy="245.9" r="5.3"/><circle cx="660.0" cy="245.0" r="5.3"/><circle cx="662.3" cy="249.4" r="5.3"/><circle cx="671.8" cy="247.5" r="5.3"/><circle cx="678.1" cy="242.4" r="5.3"/><circle cx="674.2" cy="248.0" r="5.3"/><circle cx="680.0" cy="253.8" r="5.3"/><circle cx="679.7" cy="250.7" r="5.3"/><circle cx="676.8" cy="253.2" r="5.3"/><circle cx="689.7" cy="255.4" r="5.3"/><circle cx="690.5" cy="255.2" r="5.3"/><circle cx="675.3" cy="266.4" r="5.3"/><circle cx="698.0" cy="249.0" r="5.3"/><circle cx="693.8" cy="245.3" r="5.3"/><circle cx="703.0" cy="256.5" r="5.3"/><circle cx="727.5" cy="258.6" r="5.3"/><circle cx="729.8" cy="259.6" r="5.3"/><circle cx="731.3" cy="263.7" r="5.3"/><circle cx="731.0" cy="256.1" r="5.3"/><circle cx="732.0" cy="255.0" r="5.3"/><circle cx="728.3" cy="254.5" r="5.3"/><circle cx="737.1" cy="156.3" r="5.3"/><circle cx="736.9" cy="161.8" r="5.3"/><circle cx="745.2" cy="180.7" r="5.3"/><circle cx="737.0" cy="175.0" r="5.3"/><circle cx="746.5" cy="190.6" r="5.3"/><circle cx="743.8" cy="188.8" r="5.3"/><circle cx="749.0" cy="185.0" r="5.3"/><circle cx="751.2" cy="188.7" r="5.3"/><circle cx="757.0" cy="193.0" r="5.3"/><circle cx="757.4" cy="189.0" r="5.3"/><circle cx="765.9" cy="195.8" r="5.3"/><circle cx="765.8" cy="194.9" r="5.3"/><circle cx="764.7" cy="200.1" r="5.3"/><circle cx="769.4" cy="191.4" r="5.3"/><circle cx="755.1" cy="199.9" r="5.3"/><circle cx="776.3" cy="201.3" r="5.3"/><circle cx="787.7" cy="214.0" r="5.3"/><circle cx="787.1" cy="213.7" r="5.3"/><circle cx="787.6" cy="213.9" r="5.3"/><circle cx="787.6" cy="213.7" r="5.3"/><circle cx="787.4" cy="214.2" r="5.3"/><circle cx="787.3" cy="214.1" r="5.3"/><circle cx="759.0" cy="209.0" r="5.3"/><circle cx="759.2" cy="203.7" r="5.3"/><circle cx="745.8" cy="214.0" r="5.3"/><circle cx="751.7" cy="207.0" r="5.3"/><circle cx="751.2" cy="208.9" r="5.3"/><circle cx="741.0" cy="213.0" r="5.3"/><circle cx="744.0" cy="209.8" r="5.3"/><circle cx="761.0" cy="219.0" r="5.3"/><circle cx="762.1" cy="213.6" r="5.3"/><circle cx="739.0" cy="222.1" r="5.3"/><circle cx="742.7" cy="222.7" r="5.3"/><circle cx="740.3" cy="224.9" r="5.3"/><circle cx="754.8" cy="225.0" r="5.3"/><circle cx="750.8" cy="226.5" r="5.3"/><circle cx="747.0" cy="221.0" r="5.3"/><circle cx="743.6" cy="218.8" r="5.3"/><circle cx="740.6" cy="238.1" r="5.3"/><circle cx="739.9" cy="242.0" r="5.3"/><circle cx="745.6" cy="250.9" r="5.3"/><circle cx="743.2" cy="252.3" r="5.3"/><circle cx="743.5" cy="246.4" r="5.3"/><circle cx="739.0" cy="265.0" r="5.3"/><circle cx="739.7" cy="267.5" r="5.3"/><circle cx="788.8" cy="249.0" r="5.3"/><circle cx="787.8" cy="250.5" r="5.3"/><circle cx="790.1" cy="249.2" r="5.3"/><circle cx="788.9" cy="254.7" r="5.3"/><circle cx="779.6" cy="259.9" r="5.3"/><circle cx="780.1" cy="256.9" r="5.3"/><circle cx="785.0" cy="265.0" r="5.3"/><circle cx="790.5" cy="266.9" r="5.3"/><circle cx="175.7" cy="279.7" r="5.3"/><circle cx="171.4" cy="276.9" r="5.3"/><circle cx="172.1" cy="281.2" r="5.3"/><circle cx="179.4" cy="276.8" r="5.3"/><circle cx="168.0" cy="282.0" r="5.3"/><circle cx="172.1" cy="281.3" r="5.3"/><circle cx="198.7" cy="274.0" r="5.3"/><circle cx="196.0" cy="265.8" r="5.3"/><circle cx="216.0" cy="275.0" r="5.3"/><circle cx="213.6" cy="276.9" r="5.3"/><circle cx="156.0" cy="288.0" r="5.3"/><circle cx="159.4" cy="286.1" r="5.3"/><circle cx="203.4" cy="291.9" r="5.3"/><circle cx="202.6" cy="287.8" r="5.3"/><circle cx="206.9" cy="289.1" r="5.3"/><circle cx="200.4" cy="294.1" r="5.3"/><circle cx="200.0" cy="284.0" r="5.3"/><circle cx="196.9" cy="288.9" r="5.3"/><circle cx="173.6" cy="287.3" r="5.3"/><circle cx="146.8" cy="303.7" r="5.3"/><circle cx="149.8" cy="302.4" r="5.3"/><circle cx="147.1" cy="302.4" r="5.3"/><circle cx="141.3" cy="298.1" r="5.3"/><circle cx="141.0" cy="296.1" r="5.3"/><circle cx="145.0" cy="297.9" r="5.3"/><circle cx="155.6" cy="292.0" r="5.3"/><circle cx="134.0" cy="306.0" r="5.3"/><circle cx="137.6" cy="304.2" r="5.3"/><circle cx="145.0" cy="306.8" r="5.3"/><circle cx="139.1" cy="304.6" r="5.3"/><circle cx="167.1" cy="298.6" r="5.3"/><circle cx="171.2" cy="300.6" r="5.3"/><circle cx="174.7" cy="312.7" r="5.3"/><circle cx="179.0" cy="305.8" r="5.3"/><circle cx="168.3" cy="295.3" r="5.3"/><circle cx="188.3" cy="301.3" r="5.3"/><circle cx="183.2" cy="306.6" r="5.3"/><circle cx="191.3" cy="304.2" r="5.3"/><circle cx="202.1" cy="306.1" r="5.3"/><circle cx="204.0" cy="304.4" r="5.3"/><circle cx="204.0" cy="308.0" r="5.3"/><circle cx="208.3" cy="305.0" r="5.3"/><circle cx="218.4" cy="295.9" r="5.3"/><circle cx="214.9" cy="295.1" r="5.3"/><circle cx="218.6" cy="292.7" r="5.3"/><circle cx="223.2" cy="305.8" r="5.3"/><circle cx="214.9" cy="301.5" r="5.3"/><circle cx="226.0" cy="306.0" r="5.3"/><circle cx="230.5" cy="308.7" r="5.3"/><circle cx="133.4" cy="317.2" r="5.3"/><circle cx="139.6" cy="315.9" r="5.3"/><circle cx="128.9" cy="326.9" r="5.3"/><circle cx="135.8" cy="329.5" r="5.3"/><circle cx="160.5" cy="314.3" r="5.3"/><circle cx="154.0" cy="316.6" r="5.3"/><circle cx="158.1" cy="312.9" r="5.3"/><circle cx="152.0" cy="320.0" r="5.3"/><circle cx="147.1" cy="321.0" r="5.3"/><circle cx="174.0" cy="318.0" r="5.3"/><circle cx="177.8" cy="316.2" r="5.3"/><circle cx="185.0" cy="315.4" r="5.3"/><circle cx="184.6" cy="311.3" r="5.3"/><circle cx="190.7" cy="323.1" r="5.3"/><circle cx="203.7" cy="324.0" r="5.3"/><circle cx="199.4" cy="320.4" r="5.3"/><circle cx="204.0" cy="314.0" r="5.3"/><circle cx="212.0" cy="314.0" r="5.3"/><circle cx="208.6" cy="312.9" r="5.3"/><circle cx="211.6" cy="326.8" r="5.3"/><circle cx="220.6" cy="329.7" r="5.3"/><circle cx="222.9" cy="327.8" r="5.3"/><circle cx="230.0" cy="316.0" r="5.3"/><circle cx="232.5" cy="311.9" r="5.3"/><circle cx="150.1" cy="335.6" r="5.3"/><circle cx="142.0" cy="340.0" r="5.3"/><circle cx="143.1" cy="337.7" r="5.3"/><circle cx="151.1" cy="349.8" r="5.3"/><circle cx="164.0" cy="334.0" r="5.3"/><circle cx="170.0" cy="344.0" r="5.3"/><circle cx="166.9" cy="339.0" r="5.3"/><circle cx="176.0" cy="334.0" r="5.3"/><circle cx="198.7" cy="335.1" r="5.3"/><circle cx="195.6" cy="333.0" r="5.3"/><circle cx="195.5" cy="333.3" r="5.3"/><circle cx="216.0" cy="344.0" r="5.3"/><circle cx="216.3" cy="340.7" r="5.3"/><circle cx="204.9" cy="346.5" r="5.3"/><circle cx="200.4" cy="347.9" r="5.3"/><circle cx="201.5" cy="346.1" r="5.3"/><circle cx="227.5" cy="338.9" r="5.3"/><circle cx="228.1" cy="341.0" r="5.3"/><circle cx="223.2" cy="350.4" r="5.3"/><circle cx="153.4" cy="351.0" r="5.3"/><circle cx="186.1" cy="353.3" r="5.3"/><circle cx="185.4" cy="351.9" r="5.3"/><circle cx="183.5" cy="356.8" r="5.3"/><circle cx="184.7" cy="355.8" r="5.3"/><circle cx="192.3" cy="358.5" r="5.3"/><circle cx="195.4" cy="360.5" r="5.3"/><circle cx="206.0" cy="364.0" r="5.3"/><circle cx="204.5" cy="369.6" r="5.3"/><circle cx="216.0" cy="362.0" r="5.3"/><circle cx="213.1" cy="362.3" r="5.3"/><circle cx="230.0" cy="374.0" r="5.3"/><circle cx="229.4" cy="370.3" r="5.3"/><circle cx="169.7" cy="366.7" r="5.3"/><circle cx="173.4" cy="370.2" r="5.3"/><circle cx="173.1" cy="364.4" r="5.3"/><circle cx="175.5" cy="370.3" r="5.3"/><circle cx="188.2" cy="375.8" r="5.3"/><circle cx="187.2" cy="374.3" r="5.3"/><circle cx="190.0" cy="380.0" r="5.3"/><circle cx="191.7" cy="384.0" r="5.3"/><circle cx="204.0" cy="372.0" r="5.3"/><circle cx="204.8" cy="367.8" r="5.3"/><circle cx="202.8" cy="379.5" r="5.3"/><circle cx="220.6" cy="388.0" r="5.3"/><circle cx="224.2" cy="390.9" r="5.3"/><circle cx="227.7" cy="391.2" r="5.3"/><circle cx="271.0" cy="274.0" r="5.3"/><circle cx="267.2" cy="274.3" r="5.3"/><circle cx="282.3" cy="285.5" r="5.3"/><circle cx="286.1" cy="279.5" r="5.3"/><circle cx="276.6" cy="289.4" r="5.3"/><circle cx="270.8" cy="286.9" r="5.3"/><circle cx="271.5" cy="285.0" r="5.3"/><circle cx="276.8" cy="286.5" r="5.3"/><circle cx="271.2" cy="287.7" r="5.3"/><circle cx="249.5" cy="288.8" r="5.3"/><circle cx="253.2" cy="290.5" r="5.3"/><circle cx="248.2" cy="286.4" r="5.3"/><circle cx="261.7" cy="292.8" r="5.3"/><circle cx="263.3" cy="297.5" r="5.3"/><circle cx="293.0" cy="286.0" r="5.3"/><circle cx="294.3" cy="282.8" r="5.3"/><circle cx="303.0" cy="284.0" r="5.3"/><circle cx="306.6" cy="285.3" r="5.3"/><circle cx="311.0" cy="280.0" r="5.3"/><circle cx="313.4" cy="276.3" r="5.3"/><circle cx="317.0" cy="288.0" r="5.3"/><circle cx="316.7" cy="293.1" r="5.3"/><circle cx="320.5" cy="275.0" r="5.3"/><circle cx="321.0" cy="275.3" r="5.3"/><circle cx="315.1" cy="275.8" r="5.3"/><circle cx="353.0" cy="272.0" r="5.3"/><circle cx="354.4" cy="277.4" r="5.3"/><circle cx="270.5" cy="298.6" r="5.3"/><circle cx="269.9" cy="296.4" r="5.3"/><circle cx="269.3" cy="301.2" r="5.3"/><circle cx="267.0" cy="302.0" r="5.3"/><circle cx="270.6" cy="301.0" r="5.3"/><circle cx="275.0" cy="294.0" r="5.3"/><circle cx="272.9" cy="290.5" r="5.3"/><circle cx="337.5" cy="292.6" r="5.3"/><circle cx="346.2" cy="303.9" r="5.3"/><circle cx="349.4" cy="304.7" r="5.3"/><circle cx="350.6" cy="295.7" r="5.3"/><circle cx="249.0" cy="306.0" r="5.3"/><circle cx="254.0" cy="305.1" r="5.3"/><circle cx="249.6" cy="313.2" r="5.3"/><circle cx="249.9" cy="312.3" r="5.3"/><circle cx="254.6" cy="314.6" r="5.3"/><circle cx="244.0" cy="316.0" r="5.3"/><circle cx="243.0" cy="316.0" r="5.3"/><circle cx="244.6" cy="321.4" r="5.3"/><circle cx="259.0" cy="320.0" r="5.3"/><circle cx="261.5" cy="321.1" r="5.3"/><circle cx="261.0" cy="328.0" r="5.3"/><circle cx="260.1" cy="331.4" r="5.3"/><circle cx="250.3" cy="322.5" r="5.3"/><circle cx="251.1" cy="324.0" r="5.3"/><circle cx="306.4" cy="312.3" r="5.3"/><circle cx="309.0" cy="313.4" r="5.3"/><circle cx="315.0" cy="310.0" r="5.3"/><circle cx="315.5" cy="313.2" r="5.3"/><circle cx="319.1" cy="313.9" r="5.3"/><circle cx="345.1" cy="310.3" r="5.3"/><circle cx="343.8" cy="314.3" r="5.3"/><circle cx="355.0" cy="316.0" r="5.3"/><circle cx="351.2" cy="316.4" r="5.3"/><circle cx="307.0" cy="324.0" r="5.3"/><circle cx="312.3" cy="324.1" r="5.3"/><circle cx="345.0" cy="330.0" r="5.3"/><circle cx="346.1" cy="325.3" r="5.3"/><circle cx="310.7" cy="334.2" r="5.3"/><circle cx="303.0" cy="334.0" r="5.3"/><circle cx="297.6" cy="333.9" r="5.3"/><circle cx="317.0" cy="340.0" r="5.3"/><circle cx="322.0" cy="341.2" r="5.3"/><circle cx="323.0" cy="346.0" r="5.3"/><circle cx="318.2" cy="344.4" r="5.3"/><circle cx="327.0" cy="342.0" r="5.3"/><circle cx="330.2" cy="343.1" r="5.3"/><circle cx="341.3" cy="341.4" r="5.3"/><circle cx="338.5" cy="337.1" r="5.3"/><circle cx="349.7" cy="332.2" r="5.3"/><circle cx="353.3" cy="335.0" r="5.3"/><circle cx="349.9" cy="338.5" r="5.3"/><circle cx="258.2" cy="349.9" r="5.3"/><circle cx="261.4" cy="347.9" r="5.3"/><circle cx="257.7" cy="344.6" r="5.3"/><circle cx="274.9" cy="348.9" r="5.3"/><circle cx="273.5" cy="348.2" r="5.3"/><circle cx="273.6" cy="347.8" r="5.3"/><circle cx="238.1" cy="340.3" r="5.3"/><circle cx="248.2" cy="357.6" r="5.3"/><circle cx="241.0" cy="350.0" r="5.3"/><circle cx="237.0" cy="349.5" r="5.3"/><circle cx="304.0" cy="357.5" r="5.3"/><circle cx="304.0" cy="359.4" r="5.3"/><circle cx="305.9" cy="364.6" r="5.3"/><circle cx="306.9" cy="362.9" r="5.3"/><circle cx="310.7" cy="362.7" r="5.3"/><circle cx="313.8" cy="362.9" r="5.3"/><circle cx="325.0" cy="362.0" r="5.3"/><circle cx="324.1" cy="366.5" r="5.3"/><circle cx="332.6" cy="353.5" r="5.3"/><circle cx="335.2" cy="356.0" r="5.3"/><circle cx="328.0" cy="353.9" r="5.3"/><circle cx="341.4" cy="372.4" r="5.3"/><circle cx="344.5" cy="366.6" r="5.3"/><circle cx="343.4" cy="366.6" r="5.3"/><circle cx="346.0" cy="363.6" r="5.3"/><circle cx="249.0" cy="368.0" r="5.3"/><circle cx="247.3" cy="363.2" r="5.3"/><circle cx="250.8" cy="377.9" r="5.3"/><circle cx="241.0" cy="382.0" r="5.3"/><circle cx="243.5" cy="379.6" r="5.3"/><circle cx="261.4" cy="377.3" r="5.3"/><circle cx="276.4" cy="380.1" r="5.3"/><circle cx="277.1" cy="375.1" r="5.3"/><circle cx="283.0" cy="376.0" r="5.3"/><circle cx="288.5" cy="376.4" r="5.3"/><circle cx="289.0" cy="384.6" r="5.3"/><circle cx="281.4" cy="385.5" r="5.3"/><circle cx="259.0" cy="390.0" r="5.3"/><circle cx="257.7" cy="384.8" r="5.3"/><circle cx="307.5" cy="370.8" r="5.3"/><circle cx="305.2" cy="371.6" r="5.3"/><circle cx="302.3" cy="369.7" r="5.3"/><circle cx="317.0" cy="388.0" r="5.3"/><circle cx="329.0" cy="390.0" r="5.3"/><circle cx="326.1" cy="386.2" r="5.3"/><circle cx="345.0" cy="386.0" r="5.3"/><circle cx="351.7" cy="368.9" r="5.3"/><circle cx="376.5" cy="279.9" r="5.3"/><circle cx="368.7" cy="283.3" r="5.3"/><circle cx="369.3" cy="282.8" r="5.3"/><circle cx="362.8" cy="274.5" r="5.3"/><circle cx="365.1" cy="279.5" r="5.3"/><circle cx="385.3" cy="281.9" r="5.3"/><circle cx="381.8" cy="282.8" r="5.3"/><circle cx="397.2" cy="278.4" r="5.3"/><circle cx="413.4" cy="277.5" r="5.3"/><circle cx="411.8" cy="272.9" r="5.3"/><circle cx="440.5" cy="276.5" r="5.3"/><circle cx="456.6" cy="279.0" r="5.3"/><circle cx="455.3" cy="272.4" r="5.3"/><circle cx="446.0" cy="286.0" r="5.3"/><circle cx="443.1" cy="283.8" r="5.3"/><circle cx="452.0" cy="290.0" r="5.3"/><circle cx="455.2" cy="289.0" r="5.3"/><circle cx="468.0" cy="282.0" r="5.3"/><circle cx="469.0" cy="279.1" r="5.3"/><circle cx="478.4" cy="285.8" r="5.3"/><circle cx="474.5" cy="288.7" r="5.3"/><circle cx="413.2" cy="291.1" r="5.3"/><circle cx="374.6" cy="300.5" r="5.3"/><circle cx="378.6" cy="302.0" r="5.3"/><circle cx="376.9" cy="296.8" r="5.3"/><circle cx="383.8" cy="307.2" r="5.3"/><circle cx="390.0" cy="300.0" r="5.3"/><circle cx="390.9" cy="294.9" r="5.3"/><circle cx="408.0" cy="299.0" r="5.3"/><circle cx="404.6" cy="302.2" r="5.3"/><circle cx="405.4" cy="305.3" r="5.3"/><circle cx="404.4" cy="309.4" r="5.3"/><circle cx="405.0" cy="313.0" r="5.3"/><circle cx="419.0" cy="307.1" r="5.3"/><circle cx="439.4" cy="302.4" r="5.3"/><circle cx="435.0" cy="301.0" r="5.3"/><circle cx="442.9" cy="299.3" r="5.3"/><circle cx="446.7" cy="302.2" r="5.3"/><circle cx="470.9" cy="303.7" r="5.3"/><circle cx="470.7" cy="303.8" r="5.3"/><circle cx="478.0" cy="308.0" r="5.3"/><circle cx="480.7" cy="313.1" r="5.3"/><circle cx="370.4" cy="324.8" r="5.3"/><circle cx="372.2" cy="324.8" r="5.3"/><circle cx="364.0" cy="328.0" r="5.3"/><circle cx="364.8" cy="324.0" r="5.3"/><circle cx="380.1" cy="314.7" r="5.3"/><circle cx="412.0" cy="326.0" r="5.3"/><circle cx="412.3" cy="329.1" r="5.3"/><circle cx="417.6" cy="326.7" r="5.3"/><circle cx="417.8" cy="322.8" r="5.3"/><circle cx="430.0" cy="324.0" r="5.3"/><circle cx="428.0" cy="320.1" r="5.3"/><circle cx="444.2" cy="321.7" r="5.3"/><circle cx="439.4" cy="314.0" r="5.3"/><circle cx="460.0" cy="328.0" r="5.3"/><circle cx="455.1" cy="326.4" r="5.3"/><circle cx="481.9" cy="318.0" r="5.3"/><circle cx="396.5" cy="339.3" r="5.3"/><circle cx="397.7" cy="341.3" r="5.3"/><circle cx="398.6" cy="337.3" r="5.3"/><circle cx="394.0" cy="332.0" r="5.3"/><circle cx="393.3" cy="337.5" r="5.3"/><circle cx="408.0" cy="344.0" r="5.3"/><circle cx="384.9" cy="343.9" r="5.3"/><circle cx="364.0" cy="341.3" r="5.3"/><circle cx="368.0" cy="346.0" r="5.3"/><circle cx="364.8" cy="350.8" r="5.3"/><circle cx="436.0" cy="336.3" r="5.3"/><circle cx="443.8" cy="347.2" r="5.3"/><circle cx="476.7" cy="339.0" r="5.3"/><circle cx="480.0" cy="338.0" r="5.3"/><circle cx="484.2" cy="341.1" r="5.3"/><circle cx="364.6" cy="354.3" r="5.3"/><circle cx="372.0" cy="352.0" r="5.3"/><circle cx="366.7" cy="354.7" r="5.3"/><circle cx="395.1" cy="365.0" r="5.3"/><circle cx="394.8" cy="367.1" r="5.3"/><circle cx="380.0" cy="368.0" r="5.3"/><circle cx="382.9" cy="368.0" r="5.3"/><circle cx="371.0" cy="359.3" r="5.3"/><circle cx="432.3" cy="358.1" r="5.3"/><circle cx="449.9" cy="352.9" r="5.3"/><circle cx="451.8" cy="357.2" r="5.3"/><circle cx="468.3" cy="355.1" r="5.3"/><circle cx="467.4" cy="350.2" r="5.3"/><circle cx="462.7" cy="351.8" r="5.3"/><circle cx="476.1" cy="353.9" r="5.3"/><circle cx="471.9" cy="357.8" r="5.3"/><circle cx="468.0" cy="364.4" r="5.3"/><circle cx="478.0" cy="368.0" r="5.3"/><circle cx="483.5" cy="368.5" r="5.3"/><circle cx="412.6" cy="366.3" r="5.3"/><circle cx="366.3" cy="376.0" r="5.3"/><circle cx="365.3" cy="370.6" r="5.3"/><circle cx="362.0" cy="388.0" r="5.3"/><circle cx="361.6" cy="385.1" r="5.3"/><circle cx="384.2" cy="377.1" r="5.3"/><circle cx="391.8" cy="375.9" r="5.3"/><circle cx="383.8" cy="382.1" r="5.3"/><circle cx="395.8" cy="376.4" r="5.3"/><circle cx="394.8" cy="379.3" r="5.3"/><circle cx="399.5" cy="373.5" r="5.3"/><circle cx="382.0" cy="390.0" r="5.3"/><circle cx="381.7" cy="394.0" r="5.3"/><circle cx="402.7" cy="390.6" r="5.3"/><circle cx="412.0" cy="384.0" r="5.3"/><circle cx="406.9" cy="386.6" r="5.3"/><circle cx="414.0" cy="376.0" r="5.3"/><circle cx="412.4" cy="372.5" r="5.3"/><circle cx="430.3" cy="375.7" r="5.3"/><circle cx="425.9" cy="387.7" r="5.3"/><circle cx="439.7" cy="383.3" r="5.3"/><circle cx="438.2" cy="376.7" r="5.3"/><circle cx="450.0" cy="370.0" r="5.3"/><circle cx="444.7" cy="369.0" r="5.3"/><circle cx="456.0" cy="378.0" r="5.3"/><circle cx="461.1" cy="377.4" r="5.3"/><circle cx="464.7" cy="381.0" r="5.3"/><circle cx="470.4" cy="383.5" r="5.3"/><circle cx="479.7" cy="385.3" r="5.3"/><circle cx="478.2" cy="382.5" r="5.3"/><circle cx="481.6" cy="387.7" r="5.3"/><circle cx="491.1" cy="288.8" r="5.3"/><circle cx="493.2" cy="286.3" r="5.3"/><circle cx="493.9" cy="289.6" r="5.3"/><circle cx="499.4" cy="284.2" r="5.3"/><circle cx="502.3" cy="290.2" r="5.3"/><circle cx="511.6" cy="276.0" r="5.3"/><circle cx="514.3" cy="273.6" r="5.3"/><circle cx="513.3" cy="277.5" r="5.3"/><circle cx="531.0" cy="274.0" r="5.3"/><circle cx="529.7" cy="270.4" r="5.3"/><circle cx="543.0" cy="276.0" r="5.3"/><circle cx="537.8" cy="277.3" r="5.3"/><circle cx="553.2" cy="277.7" r="5.3"/><circle cx="557.3" cy="273.6" r="5.3"/><circle cx="569.2" cy="282.1" r="5.3"/><circle cx="574.1" cy="273.5" r="5.3"/><circle cx="579.4" cy="275.8" r="5.3"/><circle cx="585.0" cy="282.0" r="5.3"/><circle cx="587.4" cy="282.8" r="5.3"/><circle cx="596.1" cy="277.6" r="5.3"/><circle cx="599.2" cy="273.0" r="5.3"/><circle cx="535.0" cy="288.0" r="5.3"/><circle cx="536.5" cy="283.9" r="5.3"/><circle cx="489.0" cy="302.0" r="5.3"/><circle cx="492.9" cy="309.4" r="5.3"/><circle cx="510.1" cy="300.3" r="5.3"/><circle cx="511.7" cy="301.4" r="5.3"/><circle cx="514.0" cy="302.7" r="5.3"/><circle cx="517.7" cy="300.5" r="5.3"/><circle cx="525.0" cy="292.0" r="5.3"/><circle cx="523.3" cy="294.4" r="5.3"/><circle cx="513.0" cy="308.0" r="5.3"/><circle cx="516.2" cy="307.2" r="5.3"/><circle cx="536.9" cy="291.6" r="5.3"/><circle cx="547.0" cy="292.5" r="5.3"/><circle cx="569.1" cy="287.5" r="5.3"/><circle cx="568.6" cy="293.1" r="5.3"/><circle cx="565.0" cy="298.0" r="5.3"/><circle cx="562.3" cy="301.7" r="5.3"/><circle cx="574.4" cy="298.3" r="5.3"/><circle cx="576.1" cy="295.7" r="5.3"/><circle cx="578.2" cy="291.6" r="5.3"/><circle cx="572.1" cy="292.7" r="5.3"/><circle cx="510.1" cy="324.5" r="5.3"/><circle cx="520.3" cy="329.0" r="5.3"/><circle cx="526.6" cy="326.9" r="5.3"/><circle cx="530.6" cy="320.6" r="5.3"/><circle cx="532.3" cy="322.0" r="5.3"/><circle cx="531.4" cy="323.6" r="5.3"/><circle cx="526.6" cy="323.0" r="5.3"/><circle cx="539.6" cy="326.5" r="5.3"/><circle cx="540.7" cy="324.7" r="5.3"/><circle cx="540.8" cy="331.3" r="5.3"/><circle cx="543.0" cy="320.0" r="5.3"/><circle cx="539.9" cy="317.8" r="5.3"/><circle cx="559.0" cy="312.0" r="5.3"/><circle cx="554.0" cy="308.9" r="5.3"/><circle cx="565.9" cy="320.6" r="5.3"/><circle cx="562.8" cy="325.3" r="5.3"/><circle cx="560.9" cy="320.3" r="5.3"/><circle cx="559.0" cy="326.1" r="5.3"/><circle cx="575.8" cy="325.1" r="5.3"/><circle cx="581.4" cy="327.9" r="5.3"/><circle cx="573.0" cy="322.0" r="5.3"/><circle cx="570.8" cy="316.4" r="5.3"/><circle cx="585.0" cy="324.0" r="5.3"/><circle cx="581.8" cy="319.5" r="5.3"/><circle cx="599.8" cy="315.9" r="5.3"/><circle cx="599.6" cy="316.3" r="5.3"/><circle cx="596.6" cy="317.1" r="5.3"/><circle cx="603.0" cy="308.0" r="5.3"/><circle cx="604.0" cy="305.3" r="5.3"/><circle cx="487.3" cy="346.3" r="5.3"/><circle cx="485.7" cy="349.2" r="5.3"/><circle cx="502.3" cy="339.3" r="5.3"/><circle cx="509.0" cy="338.0" r="5.3"/><circle cx="510.9" cy="333.1" r="5.3"/><circle cx="521.6" cy="340.1" r="5.3"/><circle cx="511.6" cy="345.5" r="5.3"/><circle cx="529.6" cy="333.8" r="5.3"/><circle cx="525.8" cy="339.0" r="5.3"/><circle cx="548.5" cy="339.7" r="5.3"/><circle cx="539.5" cy="336.1" r="5.3"/><circle cx="541.4" cy="328.6" r="5.3"/><circle cx="553.0" cy="334.0" r="5.3"/><circle cx="550.5" cy="332.9" r="5.3"/><circle cx="533.0" cy="346.0" r="5.3"/><circle cx="537.8" cy="347.5" r="5.3"/><circle cx="573.7" cy="335.7" r="5.3"/><circle cx="573.0" cy="332.8" r="5.3"/><circle cx="566.9" cy="331.0" r="5.3"/><circle cx="565.0" cy="346.0" r="5.3"/><circle cx="565.8" cy="350.7" r="5.3"/><circle cx="586.9" cy="340.4" r="5.3"/><circle cx="587.9" cy="348.1" r="5.3"/><circle cx="586.5" cy="346.1" r="5.3"/><circle cx="597.0" cy="346.0" r="5.3"/><circle cx="599.3" cy="344.2" r="5.3"/><circle cx="606.5" cy="341.4" r="5.3"/><circle cx="605.4" cy="340.2" r="5.3"/><circle cx="607.9" cy="335.3" r="5.3"/><circle cx="503.0" cy="348.0" r="5.3"/><circle cx="504.7" cy="353.2" r="5.3"/><circle cx="489.0" cy="354.0" r="5.3"/><circle cx="492.1" cy="352.7" r="5.3"/><circle cx="541.5" cy="359.9" r="5.3"/><circle cx="543.1" cy="359.1" r="5.3"/><circle cx="555.0" cy="352.0" r="5.3"/><circle cx="555.9" cy="356.5" r="5.3"/><circle cx="550.4" cy="362.4" r="5.3"/><circle cx="569.3" cy="364.3" r="5.3"/><circle cx="579.9" cy="353.1" r="5.3"/><circle cx="583.5" cy="359.0" r="5.3"/><circle cx="579.4" cy="362.0" r="5.3"/><circle cx="589.0" cy="354.0" r="5.3"/><circle cx="591.8" cy="355.3" r="5.3"/><circle cx="599.0" cy="364.0" r="5.3"/><circle cx="598.3" cy="367.7" r="5.3"/><circle cx="605.0" cy="354.0" r="5.3"/><circle cx="600.6" cy="357.9" r="5.3"/><circle cx="515.0" cy="364.0" r="5.3"/><circle cx="531.0" cy="364.0" r="5.3"/><circle cx="525.1" cy="364.5" r="5.3"/><circle cx="529.2" cy="372.2" r="5.3"/><circle cx="498.7" cy="374.6" r="5.3"/><circle cx="498.0" cy="373.6" r="5.3"/><circle cx="499.0" cy="374.3" r="5.3"/><circle cx="496.9" cy="379.0" r="5.3"/><circle cx="494.3" cy="376.1" r="5.3"/><circle cx="493.0" cy="370.0" r="5.3"/><circle cx="495.0" cy="367.7" r="5.3"/><circle cx="500.5" cy="382.1" r="5.3"/><circle cx="488.0" cy="384.9" r="5.3"/><circle cx="508.0" cy="381.8" r="5.3"/><circle cx="509.3" cy="386.4" r="5.3"/><circle cx="516.3" cy="379.9" r="5.3"/><circle cx="523.0" cy="386.0" r="5.3"/><circle cx="520.3" cy="386.9" r="5.3"/><circle cx="533.2" cy="379.0" r="5.3"/><circle cx="532.1" cy="379.3" r="5.3"/><circle cx="533.0" cy="376.0" r="5.3"/><circle cx="547.3" cy="375.6" r="5.3"/><circle cx="541.0" cy="390.0" r="5.3"/><circle cx="537.4" cy="388.0" r="5.3"/><circle cx="548.7" cy="385.2" r="5.3"/><circle cx="544.7" cy="381.0" r="5.3"/><circle cx="554.4" cy="384.9" r="5.3"/><circle cx="557.0" cy="378.0" r="5.3"/><circle cx="551.1" cy="379.0" r="5.3"/><circle cx="562.3" cy="385.8" r="5.3"/><circle cx="573.0" cy="384.0" r="5.3"/><circle cx="572.5" cy="389.5" r="5.3"/><circle cx="601.4" cy="375.2" r="5.3"/><circle cx="601.0" cy="382.5" r="5.3"/><circle cx="595.0" cy="388.0" r="5.3"/><circle cx="579.0" cy="392.0" r="5.3"/><circle cx="577.2" cy="395.7" r="5.3"/><circle cx="615.2" cy="285.8" r="5.3"/><circle cx="618.7" cy="289.9" r="5.3"/><circle cx="621.1" cy="284.7" r="5.3"/><circle cx="630.0" cy="280.0" r="5.3"/><circle cx="627.9" cy="283.5" r="5.3"/><circle cx="654.0" cy="274.4" r="5.3"/><circle cx="648.6" cy="272.1" r="5.3"/><circle cx="676.2" cy="273.9" r="5.3"/><circle cx="681.8" cy="274.7" r="5.3"/><circle cx="674.1" cy="271.3" r="5.3"/><circle cx="694.0" cy="270.0" r="5.3"/><circle cx="696.8" cy="270.8" r="5.3"/><circle cx="658.0" cy="286.0" r="5.3"/><circle cx="668.0" cy="286.0" r="5.3"/><circle cx="664.7" cy="281.8" r="5.3"/><circle cx="641.5" cy="289.6" r="5.3"/><circle cx="641.6" cy="300.6" r="5.3"/><circle cx="640.1" cy="302.5" r="5.3"/><circle cx="637.6" cy="304.4" r="5.3"/><circle cx="631.8" cy="301.7" r="5.3"/><circle cx="630.5" cy="299.4" r="5.3"/><circle cx="618.0" cy="298.0" r="5.3"/><circle cx="620.0" cy="302.5" r="5.3"/><circle cx="653.2" cy="292.3" r="5.3"/><circle cx="648.7" cy="297.0" r="5.3"/><circle cx="622.0" cy="308.0" r="5.3"/><circle cx="626.9" cy="310.6" r="5.3"/><circle cx="666.6" cy="307.7" r="5.3"/><circle cx="688.0" cy="290.0" r="5.3"/><circle cx="700.0" cy="290.0" r="5.3"/><circle cx="703.8" cy="291.9" r="5.3"/><circle cx="694.0" cy="298.0" r="5.3"/><circle cx="718.0" cy="292.0" r="5.3"/><circle cx="720.9" cy="289.8" r="5.3"/><circle cx="724.6" cy="298.1" r="5.3"/><circle cx="723.3" cy="303.1" r="5.3"/><circle cx="726.2" cy="304.5" r="5.3"/><circle cx="622.0" cy="318.0" r="5.3"/><circle cx="620.5" cy="323.8" r="5.3"/><circle cx="636.2" cy="319.3" r="5.3"/><circle cx="644.3" cy="316.7" r="5.3"/><circle cx="643.0" cy="316.4" r="5.3"/><circle cx="644.0" cy="322.0" r="5.3"/><circle cx="646.7" cy="320.8" r="5.3"/><circle cx="677.2" cy="311.0" r="5.3"/><circle cx="675.5" cy="313.7" r="5.3"/><circle cx="684.9" cy="309.9" r="5.3"/><circle cx="691.2" cy="316.6" r="5.3"/><circle cx="687.3" cy="316.2" r="5.3"/><circle cx="681.5" cy="323.4" r="5.3"/><circle cx="706.8" cy="311.6" r="5.3"/><circle cx="702.0" cy="310.0" r="5.3"/><circle cx="700.2" cy="307.8" r="5.3"/><circle cx="714.9" cy="321.1" r="5.3"/><circle cx="718.6" cy="322.8" r="5.3"/><circle cx="710.2" cy="319.7" r="5.3"/><circle cx="728.0" cy="326.0" r="5.3"/><circle cx="731.3" cy="322.7" r="5.3"/><circle cx="730.0" cy="320.0" r="5.3"/><circle cx="732.7" cy="323.5" r="5.3"/><circle cx="630.0" cy="330.0" r="5.3"/><circle cx="625.0" cy="327.5" r="5.3"/><circle cx="620.5" cy="342.2" r="5.3"/><circle cx="642.4" cy="339.4" r="5.3"/><circle cx="658.0" cy="332.0" r="5.3"/><circle cx="657.7" cy="328.9" r="5.3"/><circle cx="664.0" cy="338.0" r="5.3"/><circle cx="666.5" cy="342.1" r="5.3"/><circle cx="670.0" cy="338.0" r="5.3"/><circle cx="667.5" cy="337.6" r="5.3"/><circle cx="683.4" cy="331.6" r="5.3"/><circle cx="687.9" cy="343.0" r="5.3"/><circle cx="684.7" cy="338.8" r="5.3"/><circle cx="684.6" cy="336.3" r="5.3"/><circle cx="697.8" cy="332.5" r="5.3"/><circle cx="693.2" cy="340.6" r="5.3"/><circle cx="701.7" cy="337.7" r="5.3"/><circle cx="706.5" cy="336.5" r="5.3"/><circle cx="716.8" cy="343.1" r="5.3"/><circle cx="710.0" cy="344.0" r="5.3"/><circle cx="704.5" cy="342.1" r="5.3"/><circle cx="726.4" cy="332.4" r="5.3"/><circle cx="732.7" cy="329.8" r="5.3"/><circle cx="612.0" cy="354.0" r="5.3"/><circle cx="614.0" cy="351.5" r="5.3"/><circle cx="619.7" cy="358.3" r="5.3"/><circle cx="617.1" cy="361.6" r="5.3"/><circle cx="630.0" cy="354.0" r="5.3"/><circle cx="635.9" cy="354.4" r="5.3"/><circle cx="641.5" cy="353.6" r="5.3"/><circle cx="641.9" cy="354.5" r="5.3"/><circle cx="636.9" cy="353.8" r="5.3"/><circle cx="645.4" cy="361.5" r="5.3"/><circle cx="643.9" cy="361.4" r="5.3"/><circle cx="645.8" cy="357.3" r="5.3"/><circle cx="636.0" cy="364.0" r="5.3"/><circle cx="637.0" cy="361.5" r="5.3"/><circle cx="668.1" cy="354.5" r="5.3"/><circle cx="677.5" cy="355.6" r="5.3"/><circle cx="678.4" cy="357.4" r="5.3"/><circle cx="690.2" cy="353.6" r="5.3"/><circle cx="684.1" cy="359.8" r="5.3"/><circle cx="680.0" cy="364.0" r="5.3"/><circle cx="680.0" cy="361.4" r="5.3"/><circle cx="697.7" cy="362.6" r="5.3"/><circle cx="701.8" cy="365.9" r="5.3"/><circle cx="710.6" cy="368.8" r="5.3"/><circle cx="715.8" cy="364.3" r="5.3"/><circle cx="708.0" cy="361.9" r="5.3"/><circle cx="720.0" cy="364.0" r="5.3"/><circle cx="718.0" cy="362.1" r="5.3"/><circle cx="613.2" cy="372.6" r="5.3"/><circle cx="613.7" cy="378.8" r="5.3"/><circle cx="616.8" cy="369.9" r="5.3"/><circle cx="618.0" cy="382.0" r="5.3"/><circle cx="616.7" cy="379.8" r="5.3"/><circle cx="627.4" cy="381.7" r="5.3"/><circle cx="638.8" cy="370.4" r="5.3"/><circle cx="637.0" cy="371.8" r="5.3"/><circle cx="640.6" cy="367.4" r="5.3"/><circle cx="633.0" cy="379.0" r="5.3"/><circle cx="631.9" cy="375.9" r="5.3"/><circle cx="634.2" cy="380.5" r="5.3"/><circle cx="629.5" cy="378.4" r="5.3"/><circle cx="642.0" cy="384.0" r="5.3"/><circle cx="646.7" cy="383.8" r="5.3"/><circle cx="672.0" cy="388.0" r="5.3"/><circle cx="670.8" cy="385.1" r="5.3"/><circle cx="694.9" cy="378.1" r="5.3"/><circle cx="690.7" cy="384.5" r="5.3"/><circle cx="689.7" cy="393.2" r="5.3"/><circle cx="702.0" cy="378.0" r="5.3"/><circle cx="710.0" cy="386.0" r="5.3"/><circle cx="703.6" cy="390.0" r="5.3"/><circle cx="725.6" cy="373.6" r="5.3"/><circle cx="695.6" cy="365.5" r="5.3"/><circle cx="784.5" cy="273.6" r="5.3"/><circle cx="777.1" cy="268.8" r="5.3"/><circle cx="785.0" cy="271.0" r="5.3"/><circle cx="790.2" cy="273.1" r="5.3"/><circle cx="781.0" cy="286.0" r="5.3"/><circle cx="775.9" cy="286.2" r="5.3"/><circle cx="773.4" cy="279.8" r="5.3"/><circle cx="771.7" cy="279.8" r="5.3"/><circle cx="771.4" cy="278.0" r="5.3"/><circle cx="767.5" cy="279.6" r="5.3"/><circle cx="763.3" cy="293.4" r="5.3"/><circle cx="757.0" cy="288.0" r="5.3"/><circle cx="752.1" cy="289.1" r="5.3"/><circle cx="771.0" cy="292.0" r="5.3"/><circle cx="772.7" cy="295.4" r="5.3"/><circle cx="753.7" cy="298.2" r="5.3"/><circle cx="763.0" cy="302.0" r="5.3"/><circle cx="768.4" cy="302.8" r="5.3"/><circle cx="740.7" cy="285.2" r="5.3"/><circle cx="738.5" cy="280.4" r="5.3"/><circle cx="747.0" cy="288.0" r="5.3"/><circle cx="750.0" cy="287.6" r="5.3"/><circle cx="737.0" cy="302.0" r="5.3"/><circle cx="734.4" cy="301.1" r="5.3"/><circle cx="762.6" cy="310.0" r="5.3"/><circle cx="759.4" cy="310.9" r="5.3"/><circle cx="760.1" cy="307.7" r="5.3"/><circle cx="753.0" cy="308.0" r="5.3"/><circle cx="747.8" cy="307.8" r="5.3"/><circle cx="737.8" cy="316.3" r="5.3"/><circle cx="739.9" cy="318.5" r="5.3"/><circle cx="739.0" cy="324.0" r="5.3"/><circle cx="735.9" cy="325.9" r="5.3"/><circle cx="763.2" cy="333.4" r="5.3"/><circle cx="762.9" cy="328.7" r="5.3"/><circle cx="757.7" cy="333.5" r="5.3"/><circle cx="766.0" cy="335.1" r="5.3"/><circle cx="737.0" cy="336.0" r="5.3"/><circle cx="739.9" cy="341.1" r="5.3"/><circle cx="749.0" cy="340.0" r="5.3"/><circle cx="752.4" cy="342.9" r="5.3"/><circle cx="741.0" cy="344.0" r="5.3"/><circle cx="741.2" cy="339.5" r="5.3"/><circle cx="744.3" cy="352.1" r="5.3"/><circle cx="737.1" cy="353.6" r="5.3"/><circle cx="740.4" cy="364.9" r="5.3"/><circle cx="264.4" cy="398.9" r="5.3"/><circle cx="261.4" cy="403.9" r="5.3"/><circle cx="275.0" cy="407.0" r="5.3"/><circle cx="271.3" cy="411.6" r="5.3"/><circle cx="257.0" cy="397.0" r="5.3"/><circle cx="253.0" cy="398.7" r="5.3"/><circle cx="291.0" cy="407.0" r="5.3"/><circle cx="285.8" cy="409.8" r="5.3"/><circle cx="291.0" cy="397.0" r="5.3"/><circle cx="292.9" cy="392.3" r="5.3"/><circle cx="302.0" cy="402.0" r="5.3"/><circle cx="306.5" cy="399.7" r="5.3"/><circle cx="315.0" cy="395.0" r="5.3"/><circle cx="315.9" cy="390.3" r="5.3"/><circle cx="327.4" cy="402.4" r="5.3"/><circle cx="336.8" cy="403.9" r="5.3"/><circle cx="343.0" cy="399.0" r="5.3"/><circle cx="347.5" cy="395.6" r="5.3"/><circle cx="354.1" cy="408.4" r="5.3"/><circle cx="351.3" cy="411.6" r="5.3"/><circle cx="331.0" cy="397.0" r="5.3"/><circle cx="325.9" cy="397.5" r="5.3"/><circle cx="315.0" cy="409.0" r="5.3"/><circle cx="282.0" cy="423.4" r="5.3"/><circle cx="275.0" cy="423.0" r="5.3"/><circle cx="275.4" cy="426.2" r="5.3"/><circle cx="285.0" cy="423.0" r="5.3"/><circle cx="284.0" cy="418.6" r="5.3"/><circle cx="302.7" cy="422.6" r="5.3"/><circle cx="323.0" cy="425.0" r="5.3"/><circle cx="331.3" cy="428.9" r="5.3"/><circle cx="334.9" cy="431.9" r="5.3"/><circle cx="308.3" cy="432.3" r="5.3"/><circle cx="320.2" cy="437.3" r="5.3"/><circle cx="336.3" cy="418.3" r="5.3"/><circle cx="355.0" cy="421.0" r="5.3"/><circle cx="343.0" cy="423.0" r="5.3"/><circle cx="345.6" cy="418.9" r="5.3"/><circle cx="339.0" cy="439.0" r="5.3"/><circle cx="335.0" cy="447.0" r="5.3"/><circle cx="351.0" cy="513.0" r="5.3"/><circle cx="347.2" cy="509.5" r="5.3"/><circle cx="365.7" cy="403.7" r="5.3"/><circle cx="375.5" cy="409.6" r="5.3"/><circle cx="379.7" cy="402.5" r="5.3"/><circle cx="388.0" cy="399.0" r="5.3"/><circle cx="394.1" cy="400.7" r="5.3"/><circle cx="399.0" cy="402.2" r="5.3"/><circle cx="397.6" cy="399.0" r="5.3"/><circle cx="406.0" cy="401.0" r="5.3"/><circle cx="402.7" cy="400.5" r="5.3"/><circle cx="359.0" cy="396.3" r="5.3"/><circle cx="364.5" cy="395.5" r="5.3"/><circle cx="429.8" cy="404.2" r="5.3"/><circle cx="423.8" cy="406.8" r="5.3"/><circle cx="421.4" cy="402.9" r="5.3"/><circle cx="449.5" cy="403.3" r="5.3"/><circle cx="449.4" cy="403.2" r="5.3"/><circle cx="450.1" cy="406.7" r="5.3"/><circle cx="466.5" cy="400.8" r="5.3"/><circle cx="468.3" cy="397.6" r="5.3"/><circle cx="467.8" cy="402.8" r="5.3"/><circle cx="469.8" cy="399.4" r="5.3"/><circle cx="477.2" cy="400.9" r="5.3"/><circle cx="477.3" cy="406.5" r="5.3"/><circle cx="483.3" cy="401.4" r="5.3"/><circle cx="367.2" cy="417.2" r="5.3"/><circle cx="375.4" cy="412.9" r="5.3"/><circle cx="379.1" cy="420.4" r="5.3"/><circle cx="428.0" cy="421.0" r="5.3"/><circle cx="429.9" cy="415.4" r="5.3"/><circle cx="456.0" cy="417.0" r="5.3"/><circle cx="458.5" cy="412.5" r="5.3"/><circle cx="482.0" cy="425.0" r="5.3"/><circle cx="476.5" cy="423.4" r="5.3"/><circle cx="460.0" cy="443.0" r="5.3"/><circle cx="463.4" cy="438.6" r="5.3"/><circle cx="458.2" cy="457.3" r="5.3"/><circle cx="453.4" cy="455.6" r="5.3"/><circle cx="452.1" cy="462.2" r="5.3"/><circle cx="468.4" cy="462.7" r="5.3"/><circle cx="472.0" cy="463.9" r="5.3"/><circle cx="480.3" cy="465.1" r="5.3"/><circle cx="372.0" cy="467.0" r="5.3"/><circle cx="374.4" cy="463.3" r="5.3"/><circle cx="390.2" cy="465.2" r="5.3"/><circle cx="402.0" cy="471.0" r="5.3"/><circle cx="402.0" cy="473.6" r="5.3"/><circle cx="410.0" cy="471.0" r="5.3"/><circle cx="412.9" cy="469.9" r="5.3"/><circle cx="427.5" cy="472.1" r="5.3"/><circle cx="436.0" cy="473.0" r="5.3"/><circle cx="438.6" cy="474.0" r="5.3"/><circle cx="446.0" cy="483.0" r="5.3"/><circle cx="441.7" cy="486.3" r="5.3"/><circle cx="378.0" cy="473.0" r="5.3"/><circle cx="381.6" cy="472.2" r="5.3"/><circle cx="393.6" cy="475.7" r="5.3"/><circle cx="393.7" cy="474.0" r="5.3"/><circle cx="396.6" cy="480.3" r="5.3"/><circle cx="406.0" cy="481.0" r="5.3"/><circle cx="402.8" cy="483.5" r="5.3"/><circle cx="462.7" cy="478.8" r="5.3"/><circle cx="460.7" cy="483.0" r="5.3"/><circle cx="475.1" cy="491.2" r="5.3"/><circle cx="416.0" cy="495.0" r="5.3"/><circle cx="417.6" cy="491.2" r="5.3"/><circle cx="436.8" cy="497.7" r="5.3"/><circle cx="362.0" cy="493.0" r="5.3"/><circle cx="358.0" cy="492.0" r="5.3"/><circle cx="372.0" cy="507.0" r="5.3"/><circle cx="371.9" cy="509.8" r="5.3"/><circle cx="378.5" cy="501.3" r="5.3"/><circle cx="384.0" cy="513.0" r="5.3"/><circle cx="388.1" cy="515.4" r="5.3"/><circle cx="409.0" cy="501.6" r="5.3"/><circle cx="422.0" cy="513.0" r="5.3"/><circle cx="419.5" cy="515.3" r="5.3"/><circle cx="460.0" cy="509.0" r="5.3"/><circle cx="480.0" cy="513.0" r="5.3"/><circle cx="484.7" cy="515.4" r="5.3"/><circle cx="496.4" cy="397.0" r="5.3"/><circle cx="505.4" cy="401.4" r="5.3"/><circle cx="505.9" cy="402.3" r="5.3"/><circle cx="507.3" cy="404.4" r="5.3"/><circle cx="516.0" cy="403.2" r="5.3"/><circle cx="513.1" cy="397.7" r="5.3"/><circle cx="528.5" cy="399.8" r="5.3"/><circle cx="533.5" cy="402.5" r="5.3"/><circle cx="535.0" cy="397.0" r="5.3"/><circle cx="568.5" cy="396.2" r="5.3"/><circle cx="568.7" cy="393.6" r="5.3"/><circle cx="565.9" cy="393.4" r="5.3"/><circle cx="581.0" cy="399.0" r="5.3"/><circle cx="580.5" cy="395.8" r="5.3"/><circle cx="591.4" cy="395.3" r="5.3"/><circle cx="602.4" cy="403.4" r="5.3"/><circle cx="540.1" cy="419.0" r="5.3"/><circle cx="543.1" cy="421.3" r="5.3"/><circle cx="539.2" cy="415.8" r="5.3"/><circle cx="537.0" cy="427.1" r="5.3"/><circle cx="539.9" cy="429.8" r="5.3"/><circle cx="549.0" cy="413.0" r="5.3"/><circle cx="552.9" cy="412.9" r="5.3"/><circle cx="554.5" cy="424.4" r="5.3"/><circle cx="547.6" cy="424.3" r="5.3"/><circle cx="554.7" cy="426.3" r="5.3"/><circle cx="565.4" cy="411.1" r="5.3"/><circle cx="567.9" cy="422.3" r="5.3"/><circle cx="563.0" cy="431.0" r="5.3"/><circle cx="575.4" cy="410.8" r="5.3"/><circle cx="580.0" cy="414.8" r="5.3"/><circle cx="583.3" cy="414.3" r="5.3"/><circle cx="584.8" cy="407.5" r="5.3"/><circle cx="590.5" cy="411.4" r="5.3"/><circle cx="597.2" cy="408.7" r="5.3"/><circle cx="592.4" cy="412.6" r="5.3"/><circle cx="583.0" cy="419.0" r="5.3"/><circle cx="579.7" cy="416.8" r="5.3"/><circle cx="603.0" cy="425.2" r="5.3"/><circle cx="605.1" cy="425.1" r="5.3"/><circle cx="541.0" cy="435.0" r="5.3"/><circle cx="540.9" cy="430.7" r="5.3"/><circle cx="549.5" cy="438.3" r="5.3"/><circle cx="548.8" cy="440.9" r="5.3"/><circle cx="550.0" cy="440.1" r="5.3"/><circle cx="554.7" cy="441.5" r="5.3"/><circle cx="547.2" cy="437.9" r="5.3"/><circle cx="559.0" cy="443.0" r="5.3"/><circle cx="553.8" cy="440.6" r="5.3"/><circle cx="565.0" cy="433.0" r="5.3"/><circle cx="568.4" cy="430.7" r="5.3"/><circle cx="583.0" cy="431.0" r="5.3"/><circle cx="581.7" cy="425.5" r="5.3"/><circle cx="581.6" cy="443.3" r="5.3"/><circle cx="581.0" cy="442.2" r="5.3"/><circle cx="584.9" cy="441.4" r="5.3"/><circle cx="575.0" cy="449.0" r="5.3"/><circle cx="580.2" cy="450.8" r="5.3"/><circle cx="589.0" cy="447.0" r="5.3"/><circle cx="586.0" cy="449.8" r="5.3"/><circle cx="595.9" cy="441.1" r="5.3"/><circle cx="597.3" cy="445.0" r="5.3"/><circle cx="594.2" cy="446.2" r="5.3"/><circle cx="540.2" cy="465.8" r="5.3"/><circle cx="534.7" cy="464.6" r="5.3"/><circle cx="533.3" cy="463.7" r="5.3"/><circle cx="537.0" cy="475.0" r="5.3"/><circle cx="533.3" cy="475.8" r="5.3"/><circle cx="537.1" cy="482.5" r="5.3"/><circle cx="567.0" cy="463.0" r="5.3"/><circle cx="570.0" cy="463.3" r="5.3"/><circle cx="573.5" cy="461.0" r="5.3"/><circle cx="576.8" cy="461.9" r="5.3"/><circle cx="572.9" cy="462.1" r="5.3"/><circle cx="581.3" cy="466.6" r="5.3"/><circle cx="586.4" cy="467.4" r="5.3"/><circle cx="587.0" cy="475.0" r="5.3"/><circle cx="592.4" cy="476.6" r="5.3"/><circle cx="585.0" cy="491.0" r="5.3"/><circle cx="582.1" cy="488.7" r="5.3"/><circle cx="596.0" cy="485.6" r="5.3"/><circle cx="597.1" cy="485.1" r="5.3"/><circle cx="602.8" cy="480.2" r="5.3"/><circle cx="604.7" cy="492.9" r="5.3"/><circle cx="593.9" cy="489.2" r="5.3"/><circle cx="594.9" cy="495.5" r="5.3"/><circle cx="597.1" cy="506.2" r="5.3"/><circle cx="595.8" cy="509.2" r="5.3"/><circle cx="605.0" cy="507.0" r="5.3"/><circle cx="609.5" cy="510.8" r="5.3"/><circle cx="570.5" cy="510.4" r="5.3"/><circle cx="570.8" cy="505.6" r="5.3"/><circle cx="570.1" cy="506.1" r="5.3"/><circle cx="577.0" cy="503.0" r="5.3"/><circle cx="571.5" cy="501.3" r="5.3"/><circle cx="575.0" cy="511.0" r="5.3"/><circle cx="571.5" cy="510.8" r="5.3"/><circle cx="495.0" cy="421.0" r="5.3"/><circle cx="492.1" cy="417.8" r="5.3"/><circle cx="509.0" cy="415.7" r="5.3"/><circle cx="515.0" cy="419.0" r="5.3"/><circle cx="511.2" cy="419.2" r="5.3"/><circle cx="524.0" cy="427.6" r="5.3"/><circle cx="499.6" cy="423.7" r="5.3"/><circle cx="509.0" cy="429.0" r="5.3"/><circle cx="503.4" cy="427.3" r="5.3"/><circle cx="491.0" cy="433.0" r="5.3"/><circle cx="489.7" cy="435.9" r="5.3"/><circle cx="495.4" cy="443.8" r="5.3"/><circle cx="489.0" cy="447.0" r="5.3"/><circle cx="487.7" cy="443.3" r="5.3"/><circle cx="501.4" cy="450.0" r="5.3"/><circle cx="513.0" cy="450.8" r="5.3"/><circle cx="503.9" cy="462.6" r="5.3"/><circle cx="499.4" cy="476.5" r="5.3"/><circle cx="508.2" cy="468.7" r="5.3"/><circle cx="521.0" cy="475.0" r="5.3"/><circle cx="525.3" cy="472.7" r="5.3"/><circle cx="491.0" cy="479.0" r="5.3"/><circle cx="487.4" cy="482.4" r="5.3"/><circle cx="525.0" cy="485.0" r="5.3"/><circle cx="497.0" cy="487.0" r="5.3"/><circle cx="499.1" cy="489.6" r="5.3"/><circle cx="489.0" cy="503.0" r="5.3"/><circle cx="491.5" cy="500.2" r="5.3"/><circle cx="618.3" cy="396.0" r="5.3"/><circle cx="625.7" cy="397.9" r="5.3"/><circle cx="626.3" cy="397.4" r="5.3"/><circle cx="627.6" cy="394.1" r="5.3"/><circle cx="646.0" cy="401.0" r="5.3"/><circle cx="643.2" cy="402.2" r="5.3"/><circle cx="614.2" cy="416.3" r="5.3"/><circle cx="608.9" cy="424.3" r="5.3"/><circle cx="618.0" cy="433.0" r="5.3"/><circle cx="620.4" cy="437.6" r="5.3"/><circle cx="613.4" cy="442.5" r="5.3"/><circle cx="630.0" cy="437.0" r="5.3"/><circle cx="627.3" cy="440.7" r="5.3"/><circle cx="633.9" cy="419.5" r="5.3"/><circle cx="635.3" cy="421.1" r="5.3"/><circle cx="633.4" cy="418.3" r="5.3"/><circle cx="638.9" cy="421.7" r="5.3"/><circle cx="646.0" cy="423.0" r="5.3"/><circle cx="642.0" cy="419.0" r="5.3"/><circle cx="652.4" cy="409.2" r="5.3"/><circle cx="646.2" cy="405.8" r="5.3"/><circle cx="648.0" cy="415.0" r="5.3"/><circle cx="649.5" cy="409.6" r="5.3"/><circle cx="657.7" cy="409.3" r="5.3"/><circle cx="659.9" cy="406.4" r="5.3"/><circle cx="660.8" cy="412.3" r="5.3"/><circle cx="674.0" cy="409.0" r="5.3"/><circle cx="674.8" cy="411.5" r="5.3"/><circle cx="664.7" cy="420.0" r="5.3"/><circle cx="662.8" cy="417.6" r="5.3"/><circle cx="675.8" cy="401.1" r="5.3"/><circle cx="692.9" cy="402.9" r="5.3"/><circle cx="689.0" cy="395.4" r="5.3"/><circle cx="694.0" cy="397.0" r="5.3"/><circle cx="693.2" cy="402.1" r="5.3"/><circle cx="677.9" cy="418.7" r="5.3"/><circle cx="687.2" cy="429.9" r="5.3"/><circle cx="680.3" cy="431.0" r="5.3"/><circle cx="686.1" cy="422.6" r="5.3"/><circle cx="670.0" cy="429.0" r="5.3"/><circle cx="671.2" cy="434.4" r="5.3"/><circle cx="678.0" cy="435.0" r="5.3"/><circle cx="675.5" cy="434.2" r="5.3"/><circle cx="710.9" cy="406.5" r="5.3"/><circle cx="711.9" cy="405.2" r="5.3"/><circle cx="705.0" cy="410.3" r="5.3"/><circle cx="714.6" cy="412.0" r="5.3"/><circle cx="712.7" cy="413.2" r="5.3"/><circle cx="724.3" cy="424.6" r="5.3"/><circle cx="726.4" cy="422.2" r="5.3"/><circle cx="714.7" cy="434.5" r="5.3"/><circle cx="711.6" cy="434.3" r="5.3"/><circle cx="704.0" cy="429.0" r="5.3"/><circle cx="702.1" cy="431.5" r="5.3"/><circle cx="624.0" cy="453.0" r="5.3"/><circle cx="627.8" cy="454.0" r="5.3"/><circle cx="636.1" cy="453.2" r="5.3"/><circle cx="634.7" cy="452.4" r="5.3"/><circle cx="645.3" cy="450.9" r="5.3"/><circle cx="612.0" cy="497.2" r="5.3"/><circle cx="614.8" cy="499.0" r="5.3"/><circle cx="619.1" cy="501.4" r="5.3"/><circle cx="619.0" cy="498.7" r="5.3"/><circle cx="550.0" cy="534.0" r="5.3"/><circle cx="545.9" cy="531.5" r="5.3"/><circle cx="553.9" cy="533.1" r="5.3"/><circle cx="560.3" cy="534.1" r="5.3"/><circle cx="559.0" cy="534.0" r="5.3"/><circle cx="555.9" cy="535.4" r="5.3"/><circle cx="560.0" cy="538.0" r="5.3"/><circle cx="557.3" cy="533.8" r="5.3"/><circle cx="492.3" cy="516.7" r="5.3"/><circle cx="502.0" cy="525.0" r="5.3"/><circle cx="497.5" cy="528.3" r="5.3"/><circle cx="373.0" cy="522.0" r="5.3"/><circle cx="378.7" cy="522.9" r="5.3"/><circle cx="394.8" cy="532.1" r="5.3"/><circle cx="408.0" cy="533.0" r="5.3"/><circle cx="411.2" cy="529.4" r="5.3"/><circle cx="414.0" cy="540.0" r="5.3"/><circle cx="416.9" cy="543.7" r="5.3"/><circle cx="440.0" cy="533.0" r="5.3"/><circle cx="434.8" cy="535.4" r="5.3"/><circle cx="449.0" cy="517.0" r="5.3"/><circle cx="446.1" cy="516.6" r="5.3"/><circle cx="469.0" cy="513.0" r="5.3"/><circle cx="467.2" cy="510.2" r="5.3"/><circle cx="483.0" cy="504.0" r="5.3"/><circle cx="487.8" cy="501.8" r="5.3"/><circle cx="401.0" cy="536.0" r="5.3"/><circle cx="402.1" cy="532.9" r="5.3"/><circle cx="420.8" cy="539.3" r="5.3"/></g><g fill="#00f" fill-opacity="0.2" stroke="#00f" stroke-opacity="0.2" stroke-width="2"><circle cx="316.9" cy="105.5" r="5.3"/><circle cx="321.6" cy="107.0" r="5.3"/><circle cx="321.4" cy="106.6" r="5.3"/><circle cx="319.9" cy="106.4" r="5.3"/><circle cx="323.3" cy="104.5" r="5.3"/><circle cx="314.3" cy="109.6" r="5.3"/><circle cx="334.2" cy="100.5" r="5.3"/><circle cx="333.7" cy="102.9" r="5.3"/><circle cx="331.5" cy="106.0" r="5.3"/><circle cx="329.9" cy="105.2" r="5.3"/><circle cx="335.5" cy="103.0" r="5.3"/><circle cx="347.0" cy="110.0" r="5.3"/><circle cx="347.2" cy="114.5" r="5.3"/><circle cx="351.1" cy="98.9" r="5.3"/><circle cx="346.6" cy="100.9" r="5.3"/><circle cx="345.0" cy="96.5" r="5.3"/><circle cx="356.3" cy="94.0" r="5.3"/><circle cx="355.5" cy="95.2" r="5.3"/><circle cx="360.9" cy="94.6" r="5.3"/><circle cx="355.6" cy="93.7" r="5.3"/><circle cx="340.7" cy="107.5" r="5.3"/><circle cx="342.4" cy="108.5" r="5.3"/><circle cx="289.2" cy="141.4" r="5.3"/><circle cx="382.6" cy="73.2" r="5.3"/><circle cx="383.7" cy="75.3" r="5.3"/><circle cx="388.0" cy="70.4" r="5.3"/><circle cx="385.7" cy="70.8" r="5.3"/><circle cx="389.5" cy="70.5" r="5.3"/><circle cx="385.1" cy="71.9" r="5.3"/><circle cx="393.2" cy="66.3" r="5.3"/><circle cx="394.9" cy="65.4" r="5.3"/><circle cx="387.2" cy="65.0" r="5.3"/><circle cx="400.4" cy="64.4" r="5.3"/><circle cx="399.7" cy="58.4" r="5.3"/><circle cx="432.0" cy="64.0" r="5.3"/><circle cx="437.8" cy="63.6" r="5.3"/><circle cx="451.0" cy="60.0" r="5.3"/><circle cx="448.0" cy="55.7" r="5.3"/><circle cx="439.0" cy="74.4" r="5.3"/><circle cx="440.8" cy="80.7" r="5.3"/><circle cx="437.0" cy="80.6" r="5.3"/><circle cx="443.8" cy="75.3" r="5.3"/><circle cx="462.7" cy="76.6" r="5.3"/><circle cx="462.0" cy="79.9" r="5.3"/><circle cx="465.2" cy="76.0" r="5.3"/><circle cx="473.4" cy="68.7" r="5.3"/><circle cx="468.3" cy="69.4" r="5.3"/><circle cx="472.9" cy="73.7" r="5.3"/><circle cx="478.7" cy="65.5" r="5.3"/><circle cx="478.0" cy="65.8" r="5.3"/><circle cx="483.5" cy="68.8" r="5.3"/><circle cx="474.1" cy="84.7" r="5.3"/><circle cx="469.9" cy="84.2" r="5.3"/><circle cx="476.6" cy="84.2" r="5.3"/><circle cx="470.5" cy="100.6" r="5.3"/><circle cx="469.4" cy="100.2" r="5.3"/><circle cx="471.2" cy="94.5" r="5.3"/><circle cx="483.1" cy="99.2" r="5.3"/><circle cx="481.5" cy="99.3" r="5.3"/><circle cx="360.5" cy="97.3" r="5.3"/><circle cx="364.9" cy="94.4" r="5.3"/><circle cx="367.5" cy="96.3" r="5.3"/><circle cx="370.7" cy="84.7" r="5.3"/><circle cx="374.7" cy="91.1" r="5.3"/><circle cx="378.3" cy="93.2" r="5.3"/><circle cx="379.8" cy="94.8" r="5.3"/><circle cx="390.0" cy="100.0" r="5.3"/><circle cx="388.3" cy="104.9" r="5.3"/><circle cx="424.7" cy="103.7" r="5.3"/><circle cx="420.1" cy="103.7" r="5.3"/><circle cx="419.2" cy="107.8" r="5.3"/><circle cx="416.9" cy="108.8" r="5.3"/><circle cx="422.6" cy="112.2" r="5.3"/><circle cx="417.9" cy="113.1" r="5.3"/><circle cx="430.0" cy="111.0" r="5.3"/><circle cx="429.3" cy="114.3" r="5.3"/><circle cx="426.5" cy="123.9" r="5.3"/><circle cx="429.9" cy="117.5" r="5.3"/><circle cx="423.9" cy="120.8" r="5.3"/><circle cx="401.7" cy="127.1" r="5.3"/><circle cx="406.0" cy="122.0" r="5.3"/><circle cx="407.8" cy="116.9" r="5.3"/><circle cx="415.9" cy="126.5" r="5.3"/><circle cx="413.6" cy="126.9" r="5.3"/><circle cx="418.3" cy="131.3" r="5.3"/><circle cx="444.7" cy="127.3" r="5.3"/><circle cx="451.4" cy="129.5" r="5.3"/><circle cx="448.0" cy="128.9" r="5.3"/><circle cx="444.2" cy="128.1" r="5.3"/><circle cx="454.0" cy="120.0" r="5.3"/><circle cx="452.3" cy="117.8" r="5.3"/><circle cx="443.9" cy="140.6" r="5.3"/><circle cx="443.3" cy="140.0" r="5.3"/><circle cx="441.7" cy="133.7" r="5.3"/><circle cx="442.4" cy="134.9" r="5.3"/><circle cx="454.8" cy="137.3" r="5.3"/><circle cx="448.8" cy="139.4" r="5.3"/><circle cx="469.0" cy="122.6" r="5.3"/><circle cx="470.7" cy="126.4" r="5.3"/><circle cx="390.0" cy="138.0" r="5.3"/><circle cx="391.3" cy="135.9" r="5.3"/><circle cx="386.0" cy="142.0" r="5.3"/><circle cx="384.7" cy="136.5" r="5.3"/><circle cx="414.0" cy="142.0" r="5.3"/><circle cx="419.4" cy="140.5" r="5.3"/><circle cx="511.5" cy="32.9" r="5.3"/><circle cx="518.6" cy="35.1" r="5.3"/><circle cx="511.3" cy="35.2" r="5.3"/><circle cx="513.8" cy="32.5" r="5.3"/><circle cx="513.5" cy="38.9" r="5.3"/><circle cx="518.4" cy="33.5" r="5.3"/><circle cx="521.0" cy="40.0" r="5.3"/><circle cx="522.5" cy="42.7" r="5.3"/><circle cx="508.6" cy="44.0" r="5.3"/><circle cx="507.7" cy="48.4" r="5.3"/><circle cx="504.2" cy="45.9" r="5.3"/><circle cx="508.0" cy="47.6" r="5.3"/><circle cx="533.0" cy="51.0" r="5.3"/><circle cx="570.9" cy="60.4" r="5.3"/><circle cx="574.6" cy="60.0" r="5.3"/><circle cx="575.5" cy="55.1" r="5.3"/><circle cx="579.6" cy="61.5" r="5.3"/><circle cx="586.4" cy="60.7" r="5.3"/><circle cx="583.4" cy="57.9" r="5.3"/><circle cx="554.9" cy="65.7" r="5.3"/><circle cx="560.5" cy="66.2" r="5.3"/><circle cx="563.3" cy="66.3" r="5.3"/><circle cx="565.1" cy="71.8" r="5.3"/><circle cx="560.1" cy="66.1" r="5.3"/><circle cx="540.3" cy="71.9" r="5.3"/><circle cx="538.8" cy="65.3" r="5.3"/><circle cx="539.9" cy="73.1" r="5.3"/><circle cx="491.1" cy="60.8" r="5.3"/><circle cx="492.8" cy="57.2" r="5.3"/><circle cx="487.5" cy="62.8" r="5.3"/><circle cx="511.0" cy="66.0" r="5.3"/><circle cx="515.2" cy="70.1" r="5.3"/><circle cx="520.5" cy="64.2" r="5.3"/><circle cx="522.3" cy="67.5" r="5.3"/><circle cx="512.9" cy="80.7" r="5.3"/><circle cx="517.5" cy="76.8" r="5.3"/><circle cx="530.9" cy="80.1" r="5.3"/><circle cx="529.8" cy="78.4" r="5.3"/><circle cx="521.2" cy="80.9" r="5.3"/><circle cx="539.0" cy="77.0" r="5.3"/><circle cx="487.4" cy="78.9" r="5.3"/><circle cx="516.8" cy="87.9" r="5.3"/><circle cx="515.9" cy="88.5" r="5.3"/><circle cx="514.9" cy="82.5" r="5.3"/><circle cx="513.5" cy="85.5" r="5.3"/><circle cx="505.0" cy="92.0" r="5.3"/><circle cx="527.0" cy="94.0" r="5.3"/><circle cx="523.8" cy="92.3" r="5.3"/><circle cx="556.9" cy="83.9" r="5.3"/><circle cx="555.3" cy="86.9" r="5.3"/><circle cx="557.9" cy="83.8" r="5.3"/><circle cx="549.7" cy="84.8" r="5.3"/><circle cx="517.1" cy="99.6" r="5.3"/><circle cx="516.4" cy="99.3" r="5.3"/><circle cx="511.8" cy="101.1" r="5.3"/><circle cx="516.0" cy="94.3" r="5.3"/><circle cx="519.2" cy="106.7" r="5.3"/><circle cx="521.3" cy="109.5" r="5.3"/><circle cx="517.1" cy="105.2" r="5.3"/><circle cx="521.7" cy="110.4" r="5.3"/><circle cx="499.4" cy="107.2" r="5.3"/><circle cx="499.7" cy="102.3" r="5.3"/><circle cx="535.0" cy="102.0" r="5.3"/><circle cx="532.9" cy="104.4" r="5.3"/><circle cx="545.1" cy="108.2" r="5.3"/><circle cx="547.0" cy="106.6" r="5.3"/><circle cx="546.0" cy="105.9" r="5.3"/><circle cx="549.4" cy="108.4" r="5.3"/><circle cx="539.8" cy="117.0" r="5.3"/><circle cx="535.4" cy="115.5" r="5.3"/><circle cx="542.1" cy="115.3" r="5.3"/><circle cx="562.4" cy="101.7" r="5.3"/><circle cx="566.3" cy="103.0" r="5.3"/><circle cx="577.1" cy="101.7" r="5.3"/><circle cx="577.5" cy="97.6" r="5.3"/><circle cx="573.4" cy="95.4" r="5.3"/><circle cx="567.4" cy="110.6" r="5.3"/><circle cx="571.2" cy="110.3" r="5.3"/><circle cx="569.8" cy="106.0" r="5.3"/><circle cx="524.6" cy="136.2" r="5.3"/><circle cx="555.0" cy="129.0" r="5.3"/><circle cx="577.0" cy="132.0" r="5.3"/><circle cx="594.7" cy="124.1" r="5.3"/><circle cx="594.4" cy="121.2" r="5.3"/><circle cx="592.8" cy="124.7" r="5.3"/><circle cx="590.6" cy="116.9" r="5.3"/><circle cx="601.2" cy="127.2" r="5.3"/><circle cx="598.8" cy="127.6" r="5.3"/><circle cx="596.1" cy="125.3" r="5.3"/><circle cx="605.7" cy="131.7" r="5.3"/><circle cx="605.0" cy="112.0" r="5.3"/><circle cx="601.7" cy="116.0" r="5.3"/><circle cx="490.0" cy="130.3" r="5.3"/><circle cx="491.6" cy="132.0" r="5.3"/><circle cx="492.9" cy="134.6" r="5.3"/><circle cx="489.5" cy="129.9" r="5.3"/><circle cx="496.5" cy="138.6" r="5.3"/><circle cx="496.3" cy="138.9" r="5.3"/><circle cx="494.0" cy="135.1" r="5.3"/><circle cx="500.8" cy="142.3" r="5.3"/><circle cx="509.0" cy="136.0" r="5.3"/><circle cx="512.6" cy="132.2" r="5.3"/><circle cx="547.9" cy="138.6" r="5.3"/><circle cx="551.4" cy="139.0" r="5.3"/><circle cx="545.2" cy="139.2" r="5.3"/><circle cx="549.2" cy="142.7" r="5.3"/><circle cx="590.5" cy="141.3" r="5.3"/><circle cx="593.9" cy="135.8" r="5.3"/><circle cx="662.0" cy="95.5" r="5.3"/><circle cx="660.0" cy="91.5" r="5.3"/><circle cx="662.0" cy="92.0" r="5.3"/><circle cx="661.0" cy="90.8" r="5.3"/><circle cx="659.5" cy="99.7" r="5.3"/><circle cx="664.9" cy="103.2" r="5.3"/><circle cx="669.8" cy="100.3" r="5.3"/><circle cx="664.0" cy="106.0" r="5.3"/><circle cx="662.3" cy="101.5" r="5.3"/><circle cx="622.0" cy="113.0" r="5.3"/><circle cx="618.8" cy="111.5" r="5.3"/><circle cx="624.0" cy="124.0" r="5.3"/><circle cx="625.6" cy="126.0" r="5.3"/><circle cx="631.9" cy="123.2" r="5.3"/><circle cx="630.2" cy="122.8" r="5.3"/><circle cx="637.1" cy="126.2" r="5.3"/><circle cx="630.5" cy="133.4" r="5.3"/><circle cx="632.4" cy="129.6" r="5.3"/><circle cx="632.1" cy="128.8" r="5.3"/><circle cx="642.0" cy="135.0" r="5.3"/><circle cx="636.5" cy="134.9" r="5.3"/><circle cx="664.2" cy="128.5" r="5.3"/><circle cx="665.8" cy="127.9" r="5.3"/><circle cx="672.3" cy="121.6" r="5.3"/><circle cx="672.9" cy="123.0" r="5.3"/><circle cx="654.8" cy="143.5" r="5.3"/><circle cx="658.6" cy="142.6" r="5.3"/><circle cx="664.0" cy="142.0" r="5.3"/><circle cx="660.8" cy="144.3" r="5.3"/><circle cx="616.0" cy="142.0" r="5.3"/><circle cx="619.1" cy="146.5" r="5.3"/><circle cx="231.0" cy="233.0" r="5.3"/><circle cx="231.7" cy="228.5" r="5.3"/><circle cx="228.8" cy="239.8" r="5.3"/><circle cx="232.1" cy="240.0" r="5.3"/><circle cx="233.7" cy="241.5" r="5.3"/><circle cx="232.1" cy="242.6" r="5.3"/><circle cx="204.0" cy="243.0" r="5.3"/><circle cx="205.4" cy="238.1" r="5.3"/><circle cx="210.1" cy="252.9" r="5.3"/><circle cx="211.0" cy="246.5" r="5.3"/><circle cx="217.9" cy="253.6" r="5.3"/><circle cx="214.4" cy="257.5" r="5.3"/><circle cx="196.0" cy="258.0" r="5.3"/><circle cx="191.5" cy="259.3" r="5.3"/><circle cx="202.3" cy="255.7" r="5.3"/><circle cx="205.0" cy="261.1" r="5.3"/><circle cx="200.8" cy="261.7" r="5.3"/><circle cx="206.6" cy="258.6" r="5.3"/><circle cx="220.0" cy="267.0" r="5.3"/><circle cx="215.3" cy="266.6" r="5.3"/><circle cx="202.6" cy="269.4" r="5.3"/><circle cx="202.2" cy="264.1" r="5.3"/><circle cx="288.7" cy="149.2" r="5.3"/><circle cx="286.9" cy="150.2" r="5.3"/><circle cx="286.9" cy="151.7" r="5.3"/><circle cx="283.8" cy="159.1" r="5.3"/><circle cx="281.8" cy="156.0" r="5.3"/><circle cx="280.0" cy="153.7" r="5.3"/><circle cx="276.0" cy="158.6" r="5.3"/><circle cx="274.2" cy="163.8" r="5.3"/><circle cx="277.0" cy="158.2" r="5.3"/><circle cx="267.0" cy="166.7" r="5.3"/><circle cx="267.0" cy="165.1" r="5.3"/><circle cx="266.3" cy="168.3" r="5.3"/><circle cx="265.7" cy="169.0" r="5.3"/><circle cx="261.0" cy="161.0" r="5.3"/><circle cx="265.9" cy="158.6" r="5.3"/><circle cx="263.2" cy="174.3" r="5.3"/><circle cx="261.5" cy="180.2" r="5.3"/><circle cx="272.7" cy="179.9" r="5.3"/><circle cx="275.1" cy="173.7" r="5.3"/><circle cx="279.0" cy="183.0" r="5.3"/><circle cx="285.0" cy="167.0" r="5.3"/><circle cx="284.7" cy="170.3" r="5.3"/><circle cx="258.6" cy="189.1" r="5.3"/><circle cx="254.1" cy="187.0" r="5.3"/><circle cx="252.6" cy="187.9" r="5.3"/><circle cx="263.0" cy="191.0" r="5.3"/><circle cx="265.7" cy="190.3" r="5.3"/><circle cx="350.6" cy="154.9" r="5.3"/><circle cx="351.3" cy="152.9" r="5.3"/><circle cx="349.3" cy="152.6" r="5.3"/><circle cx="347.9" cy="149.2" r="5.3"/><circle cx="346.7" cy="156.9" r="5.3"/><circle cx="333.0" cy="161.0" r="5.3"/><circle cx="330.1" cy="156.6" r="5.3"/><circle cx="328.0" cy="164.1" r="5.3"/><circle cx="328.3" cy="165.6" r="5.3"/><circle cx="324.0" cy="168.4" r="5.3"/><circle cx="339.9" cy="171.3" r="5.3"/><circle cx="334.1" cy="176.1" r="5.3"/><circle cx="335.7" cy="176.8" r="5.3"/><circle cx="325.0" cy="173.0" r="5.3"/><circle cx="329.2" cy="174.5" r="5.3"/><circle cx="319.2" cy="177.8" r="5.3"/><circle cx="319.3" cy="179.2" r="5.3"/><circle cx="312.5" cy="176.0" r="5.3"/><circle cx="320.8" cy="181.8" r="5.3"/><circle cx="317.7" cy="181.9" r="5.3"/><circle cx="318.7" cy="185.3" r="5.3"/><circle cx="318.8" cy="185.5" r="5.3"/><circle cx="323.1" cy="189.4" r="5.3"/><circle cx="297.8" cy="194.3" r="5.3"/><circle cx="302.8" cy="198.9" r="5.3"/><circle cx="302.9" cy="192.7" r="5.3"/><circle cx="306.1" cy="194.7" r="5.3"/><circle cx="310.8" cy="195.3" r="5.3"/><circle cx="305.7" cy="194.9" r="5.3"/><circle cx="287.0" cy="195.0" r="5.3"/><circle cx="285.6" cy="198.7" r="5.3"/><circle cx="321.6" cy="189.8" r="5.3"/><circle cx="323.9" cy="189.9" r="5.3"/><circle cx="357.0" cy="169.0" r="5.3"/><circle cx="305.0" cy="205.0" r="5.3"/><circle cx="314.0" cy="213.0" r="5.3"/><circle cx="310.4" cy="211.5" r="5.3"/><circle cx="270.2" cy="203.8" r="5.3"/><circle cx="268.3" cy="200.0" r="5.3"/><circle cx="276.8" cy="204.2" r="5.3"/><circle cx="271.4" cy="208.6" r="5.3"/><circle cx="274.7" cy="209.7" r="5.3"/><circle cx="274.3" cy="210.2" r="5.3"/><circle cx="270.9" cy="220.1" r="5.3"/><circle cx="275.3" cy="220.4" r="5.3"/><circle cx="278.8" cy="219.7" r="5.3"/><circle cx="273.5" cy="223.6" r="5.3"/><circle cx="249.0" cy="205.0" r="5.3"/><circle cx="251.7" cy="204.8" r="5.3"/><circle cx="247.0" cy="219.0" r="5.3"/><circle cx="247.9" cy="221.5" r="5.3"/><circle cx="247.0" cy="225.0" r="5.3"/><circle cx="238.2" cy="234.7" r="5.3"/><circle cx="236.1" cy="236.1" r="5.3"/><circle cx="237.1" cy="237.8" r="5.3"/><circle cx="239.4" cy="234.5" r="5.3"/><circle cx="234.4" cy="238.6" r="5.3"/><circle cx="243.8" cy="241.8" r="5.3"/><circle cx="243.9" cy="244.6" r="5.3"/><circle cx="245.7" cy="242.6" r="5.3"/><circle cx="246.8" cy="240.0" r="5.3"/><circle cx="251.5" cy="246.5" r="5.3"/><circle cx="253.9" cy="247.0" r="5.3"/><circle cx="255.0" cy="237.0" r="5.3"/><circle cx="320.7" cy="218.0" r="5.3"/><circle cx="322.3" cy="223.5" r="5.3"/><circle cx="323.0" cy="225.0" r="5.3"/><circle cx="318.8" cy="227.7" r="5.3"/><circle cx="272.0" cy="252.0" r="5.3"/><circle cx="274.0" cy="255.3" r="5.3"/><circle cx="285.0" cy="251.0" r="5.3"/><circle cx="282.1" cy="250.7" r="5.3"/><circle cx="280.5" cy="258.8" r="5.3"/><circle cx="281.0" cy="260.2" r="5.3"/><circle cx="285.1" cy="259.8" r="5.3"/><circle cx="292.1" cy="258.8" r="5.3"/><circle cx="295.1" cy="261.8" r="5.3"/><circle cx="296.5" cy="258.6" r="5.3"/><circle cx="294.8" cy="259.2" r="5.3"/><circle cx="305.0" cy="265.0" r="5.3"/><circle cx="307.7" cy="268.6" r="5.3"/><circle cx="319.6" cy="242.0" r="5.3"/><circle cx="317.9" cy="264.7" r="5.3"/><circle cx="317.5" cy="263.5" r="5.3"/><circle cx="319.1" cy="266.4" r="5.3"/><circle cx="320.6" cy="263.5" r="5.3"/><circle cx="322.4" cy="252.9" r="5.3"/><circle cx="326.8" cy="257.5" r="5.3"/><circle cx="321.0" cy="239.0" r="5.3"/><circle cx="325.2" cy="235.3" r="5.3"/><circle cx="340.6" cy="219.8" r="5.3"/><circle cx="343.9" cy="215.5" r="5.3"/><circle cx="339.4" cy="221.5" r="5.3"/><circle cx="349.0" cy="217.0" r="5.3"/><circle cx="346.1" cy="218.9" r="5.3"/><circle cx="353.4" cy="213.7" r="5.3"/><circle cx="350.7" cy="216.1" r="5.3"/><circle cx="341.5" cy="235.7" r="5.3"/><circle cx="338.7" cy="235.0" r="5.3"/><circle cx="343.1" cy="233.2" r="5.3"/><circle cx="337.5" cy="233.2" r="5.3"/><circle cx="344.5" cy="232.7" r="5.3"/><circle cx="351.0" cy="229.0" r="5.3"/><circle cx="353.5" cy="231.1" r="5.3"/><circle cx="337.5" cy="239.5" r="5.3"/><circle cx="331.3" cy="242.6" r="5.3"/><circle cx="336.1" cy="238.1" r="5.3"/><circle cx="347.2" cy="240.9" r="5.3"/><circle cx="351.4" cy="242.0" r="5.3"/><circle cx="326.5" cy="253.7" r="5.3"/><circle cx="328.6" cy="254.5" r="5.3"/><circle cx="330.3" cy="247.7" r="5.3"/><circle cx="340.3" cy="258.7" r="5.3"/><circle cx="336.6" cy="261.9" r="5.3"/><circle cx="351.2" cy="256.9" r="5.3"/><circle cx="333.0" cy="265.0" r="5.3"/><circle cx="345.7" cy="266.7" r="5.3"/><circle cx="344.2" cy="264.6" r="5.3"/><circle cx="366.1" cy="156.9" r="5.3"/><circle cx="359.8" cy="156.2" r="5.3"/><circle cx="366.0" cy="153.2" r="5.3"/><circle cx="366.8" cy="176.7" r="5.3"/><circle cx="360.8" cy="177.6" r="5.3"/><circle cx="358.8" cy="173.6" r="5.3"/><circle cx="366.0" cy="181.0" r="5.3"/><circle cx="364.3" cy="185.6" r="5.3"/><circle cx="387.5" cy="148.1" r="5.3"/><circle cx="385.4" cy="145.5" r="5.3"/><circle cx="408.8" cy="153.7" r="5.3"/><circle cx="409.3" cy="155.5" r="5.3"/><circle cx="410.4" cy="154.0" r="5.3"/><circle cx="400.0" cy="149.0" r="5.3"/><circle cx="401.7" cy="152.0" r="5.3"/><circle cx="424.0" cy="151.0" r="5.3"/><circle cx="420.3" cy="152.2" r="5.3"/><circle cx="428.0" cy="163.0" r="5.3"/><circle cx="423.7" cy="164.7" r="5.3"/><circle cx="394.6" cy="176.3" r="5.3"/><circle cx="393.6" cy="176.5" r="5.3"/><circle cx="389.2" cy="179.3" r="5.3"/><circle cx="386.8" cy="177.5" r="5.3"/><circle cx="380.8" cy="186.1" r="5.3"/><circle cx="383.3" cy="188.3" r="5.3"/><circle cx="374.0" cy="190.0" r="5.3"/><circle cx="373.5" cy="188.0" r="5.3"/><circle cx="374.7" cy="182.4" r="5.3"/><circle cx="374.0" cy="190.1" r="5.3"/><circle cx="374.0" cy="193.0" r="5.3"/><circle cx="374.6" cy="197.0" r="5.3"/><circle cx="386.1" cy="208.1" r="5.3"/><circle cx="387.1" cy="209.5" r="5.3"/><circle cx="388.0" cy="206.9" r="5.3"/><circle cx="382.4" cy="208.2" r="5.3"/><circle cx="382.7" cy="203.5" r="5.3"/><circle cx="386.5" cy="218.1" r="5.3"/><circle cx="390.3" cy="216.9" r="5.3"/><circle cx="388.4" cy="217.9" r="5.3"/><circle cx="396.5" cy="211.7" r="5.3"/><circle cx="400.8" cy="215.9" r="5.3"/><circle cx="364.0" cy="211.0" r="5.3"/><circle cx="365.2" cy="213.6" r="5.3"/><circle cx="366.0" cy="221.0" r="5.3"/><circle cx="411.6" cy="197.3" r="5.3"/><circle cx="408.8" cy="200.4" r="5.3"/><circle cx="412.6" cy="195.5" r="5.3"/><circle cx="422.0" cy="190.3" r="5.3"/><circle cx="430.0" cy="195.0" r="5.3"/><circle cx="426.0" cy="203.0" r="5.3"/><circle cx="422.1" cy="204.9" r="5.3"/><circle cx="426.2" cy="215.3" r="5.3"/><circle cx="430.1" cy="214.8" r="5.3"/><circle cx="432.0" cy="217.8" r="5.3"/><circle cx="430.7" cy="212.3" r="5.3"/><circle cx="446.0" cy="217.0" r="5.3"/><circle cx="449.4" cy="215.5" r="5.3"/><circle cx="438.5" cy="229.5" r="5.3"/><circle cx="432.0" cy="231.0" r="5.3"/><circle cx="433.4" cy="228.5" r="5.3"/><circle cx="443.2" cy="164.6" r="5.3"/><circle cx="445.5" cy="168.3" r="5.3"/><circle cx="441.9" cy="167.4" r="5.3"/><circle cx="449.1" cy="166.7" r="5.3"/><circle cx="448.3" cy="169.5" r="5.3"/><circle cx="452.0" cy="153.0" r="5.3"/><circle cx="457.7" cy="153.3" r="5.3"/><circle cx="440.0" cy="182.2" r="5.3"/><circle cx="441.9" cy="185.4" r="5.3"/><circle cx="468.0" cy="157.7" r="5.3"/><circle cx="465.0" cy="155.7" r="5.3"/><circle cx="469.5" cy="153.7" r="5.3"/><circle cx="464.9" cy="157.0" r="5.3"/><circle cx="466.6" cy="161.3" r="5.3"/><circle cx="471.6" cy="166.1" r="5.3"/><circle cx="468.0" cy="168.5" r="5.3"/><circle cx="473.8" cy="171.7" r="5.3"/><circle cx="477.4" cy="167.1" r="5.3"/><circle cx="478.0" cy="151.0" r="5.3"/><circle cx="482.0" cy="159.0" r="5.3"/><circle cx="484.6" cy="154.0" r="5.3"/><circle cx="463.1" cy="184.2" r="5.3"/><circle cx="465.8" cy="184.0" r="5.3"/><circle cx="468.5" cy="181.9" r="5.3"/><circle cx="456.0" cy="189.0" r="5.3"/><circle cx="458.4" cy="195.3" r="5.3"/><circle cx="459.7" cy="197.3" r="5.3"/><circle cx="465.1" cy="197.6" r="5.3"/><circle cx="460.2" cy="193.3" r="5.3"/><circle cx="472.0" cy="195.0" r="5.3"/><circle cx="469.2" cy="194.1" r="5.3"/><circle cx="480.0" cy="193.7" r="5.3"/><circle cx="478.8" cy="192.8" r="5.3"/><circle cx="477.4" cy="191.7" r="5.3"/><circle cx="472.0" cy="225.9" r="5.3"/><circle cx="475.7" cy="226.8" r="5.3"/><circle cx="475.5" cy="229.6" r="5.3"/><circle cx="475.4" cy="231.0" r="5.3"/><circle cx="465.1" cy="220.4" r="5.3"/><circle cx="469.1" cy="217.8" r="5.3"/><circle cx="464.0" cy="239.0" r="5.3"/><circle cx="465.3" cy="236.4" r="5.3"/><circle cx="477.7" cy="233.1" r="5.3"/><circle cx="477.9" cy="236.5" r="5.3"/><circle cx="481.6" cy="239.6" r="5.3"/><circle cx="478.9" cy="234.3" r="5.3"/><circle cx="473.9" cy="250.4" r="5.3"/><circle cx="477.0" cy="248.4" r="5.3"/><circle cx="479.8" cy="253.1" r="5.3"/><circle cx="480.0" cy="261.0" r="5.3"/><circle cx="483.7" cy="261.3" r="5.3"/><circle cx="441.3" cy="260.9" r="5.3"/><circle cx="446.2" cy="260.4" r="5.3"/><circle cx="447.8" cy="264.9" r="5.3"/><circle cx="449.0" cy="265.6" r="5.3"/><circle cx="441.6" cy="264.4" r="5.3"/><circle cx="448.0" cy="267.0" r="5.3"/><circle cx="452.1" cy="267.5" r="5.3"/><circle cx="363.8" cy="238.3" r="5.3"/><circle cx="363.7" cy="241.5" r="5.3"/><circle cx="365.9" cy="247.0" r="5.3"/><circle cx="362.5" cy="247.3" r="5.3"/><circle cx="368.0" cy="244.9" r="5.3"/><circle cx="362.0" cy="257.0" r="5.3"/><circle cx="357.3" cy="256.7" r="5.3"/><circle cx="379.3" cy="248.2" r="5.3"/><circle cx="380.1" cy="250.3" r="5.3"/><circle cx="397.2" cy="247.5" r="5.3"/><circle cx="399.4" cy="245.6" r="5.3"/><circle cx="405.4" cy="238.7" r="5.3"/><circle cx="406.9" cy="240.9" r="5.3"/><circle cx="402.8" cy="243.1" r="5.3"/><circle cx="414.0" cy="233.0" r="5.3"/><circle cx="416.8" cy="230.9" r="5.3"/><circle cx="400.0" cy="235.0" r="5.3"/><circle cx="397.4" cy="236.9" r="5.3"/><circle cx="416.0" cy="251.0" r="5.3"/><circle cx="408.0" cy="251.0" r="5.3"/><circle cx="399.5" cy="261.6" r="5.3"/><circle cx="397.8" cy="265.1" r="5.3"/><circle cx="406.0" cy="263.0" r="5.3"/><circle cx="410.4" cy="264.6" r="5.3"/><circle cx="419.7" cy="265.1" r="5.3"/><circle cx="413.5" cy="261.4" r="5.3"/><circle cx="553.5" cy="147.6" r="5.3"/><circle cx="550.5" cy="150.8" r="5.3"/><circle cx="552.1" cy="147.6" r="5.3"/><circle cx="551.6" cy="144.3" r="5.3"/><circle cx="511.2" cy="149.3" r="5.3"/><circle cx="506.3" cy="149.0" r="5.3"/><circle cx="519.0" cy="149.0" r="5.3"/><circle cx="521.4" cy="147.4" r="5.3"/><circle cx="503.0" cy="153.0" r="5.3"/><circle cx="507.4" cy="151.4" r="5.3"/><circle cx="487.2" cy="162.5" r="5.3"/><circle cx="487.2" cy="157.7" r="5.3"/><circle cx="490.6" cy="156.8" r="5.3"/><circle cx="509.0" cy="159.0" r="5.3"/><circle cx="511.4" cy="157.1" r="5.3"/><circle cx="517.8" cy="160.3" r="5.3"/><circle cx="519.1" cy="158.6" r="5.3"/><circle cx="529.0" cy="161.0" r="5.3"/><circle cx="585.0" cy="151.0" r="5.3"/><circle cx="589.4" cy="148.5" r="5.3"/><circle cx="591.4" cy="146.9" r="5.3"/><circle cx="591.3" cy="149.8" r="5.3"/><circle cx="595.1" cy="148.0" r="5.3"/><circle cx="598.4" cy="152.9" r="5.3"/><circle cx="599.6" cy="156.0" r="5.3"/><circle cx="580.1" cy="164.3" r="5.3"/><circle cx="585.7" cy="162.0" r="5.3"/><circle cx="580.7" cy="165.7" r="5.3"/><circle cx="573.0" cy="159.0" r="5.3"/><circle cx="571.4" cy="160.9" r="5.3"/><circle cx="587.9" cy="159.4" r="5.3"/><circle cx="586.7" cy="160.3" r="5.3"/><circle cx="592.5" cy="157.4" r="5.3"/><circle cx="601.0" cy="163.0" r="5.3"/><circle cx="598.1" cy="165.5" r="5.3"/><circle cx="486.9" cy="171.7" r="5.3"/><circle cx="490.9" cy="178.2" r="5.3"/><circle cx="489.8" cy="176.2" r="5.3"/><circle cx="495.7" cy="176.5" r="5.3"/><circle cx="488.9" cy="179.3" r="5.3"/><circle cx="500.9" cy="162.5" r="5.3"/><circle cx="497.9" cy="166.8" r="5.3"/><circle cx="500.8" cy="163.2" r="5.3"/><circle cx="513.0" cy="171.0" r="5.3"/><circle cx="511.4" cy="167.7" r="5.3"/><circle cx="531.0" cy="183.0" r="5.3"/><circle cx="526.7" cy="182.2" r="5.3"/><circle cx="539.5" cy="175.9" r="5.3"/><circle cx="540.4" cy="179.6" r="5.3"/><circle cx="543.4" cy="173.6" r="5.3"/><circle cx="545.0" cy="179.0" r="5.3"/><circle cx="547.2" cy="181.1" r="5.3"/><circle cx="551.0" cy="171.0" r="5.3"/><circle cx="547.0" cy="170.5" r="5.3"/><circle cx="539.0" cy="171.0" r="5.3"/><circle cx="535.0" cy="172.3" r="5.3"/><circle cx="567.0" cy="171.0" r="5.3"/><circle cx="564.1" cy="174.2" r="5.3"/><circle cx="562.1" cy="181.1" r="5.3"/><circle cx="560.3" cy="177.6" r="5.3"/><circle cx="582.0" cy="169.6" r="5.3"/><circle cx="585.7" cy="175.3" r="5.3"/><circle cx="588.9" cy="174.1" r="5.3"/><circle cx="590.7" cy="173.7" r="5.3"/><circle cx="589.1" cy="176.3" r="5.3"/><circle cx="588.7" cy="178.1" r="5.3"/><circle cx="586.0" cy="172.3" r="5.3"/><circle cx="601.0" cy="173.0" r="5.3"/><circle cx="596.8" cy="172.3" r="5.3"/><circle cx="487.0" cy="188.6" r="5.3"/><circle cx="485.5" cy="188.0" r="5.3"/><circle cx="481.5" cy="189.9" r="5.3"/><circle cx="505.3" cy="185.7" r="5.3"/><circle cx="509.1" cy="185.9" r="5.3"/><circle cx="511.3" cy="188.7" r="5.3"/><circle cx="510.6" cy="193.2" r="5.3"/><circle cx="513.3" cy="189.9" r="5.3"/><circle cx="521.0" cy="195.0" r="5.3"/><circle cx="517.0" cy="194.7" r="5.3"/><circle cx="529.8" cy="200.0" r="5.3"/><circle cx="524.5" cy="201.3" r="5.3"/><circle cx="557.0" cy="185.0" r="5.3"/><circle cx="560.7" cy="183.4" r="5.3"/><circle cx="570.6" cy="187.6" r="5.3"/><circle cx="568.7" cy="186.6" r="5.3"/><circle cx="573.1" cy="189.0" r="5.3"/><circle cx="573.0" cy="191.0" r="5.3"/><circle cx="568.1" cy="191.1" r="5.3"/><circle cx="567.2" cy="201.8" r="5.3"/><circle cx="560.9" cy="201.5" r="5.3"/><circle cx="575.0" cy="203.0" r="5.3"/><circle cx="580.2" cy="204.4" r="5.3"/><circle cx="583.8" cy="198.5" r="5.3"/><circle cx="586.7" cy="197.9" r="5.3"/><circle cx="585.7" cy="197.9" r="5.3"/><circle cx="582.9" cy="196.5" r="5.3"/><circle cx="582.3" cy="198.2" r="5.3"/><circle cx="600.8" cy="202.3" r="5.3"/><circle cx="593.2" cy="203.1" r="5.3"/><circle cx="605.0" cy="195.0" r="5.3"/><circle cx="602.3" cy="194.3" r="5.3"/><circle cx="517.7" cy="218.2" r="5.3"/><circle cx="520.0" cy="213.6" r="5.3"/><circle cx="519.1" cy="212.6" r="5.3"/><circle cx="515.0" cy="216.5" r="5.3"/><circle cx="517.1" cy="218.1" r="5.3"/><circle cx="507.0" cy="215.0" r="5.3"/><circle cx="502.0" cy="213.3" r="5.3"/><circle cx="526.9" cy="218.3" r="5.3"/><circle cx="526.6" cy="219.7" r="5.3"/><circle cx="541.0" cy="211.0" r="5.3"/><circle cx="544.3" cy="212.2" r="5.3"/><circle cx="540.9" cy="213.4" r="5.3"/><circle cx="540.4" cy="212.8" r="5.3"/><circle cx="549.3" cy="216.7" r="5.3"/><circle cx="551.5" cy="216.1" r="5.3"/><circle cx="549.7" cy="222.1" r="5.3"/><circle cx="559.7" cy="208.4" r="5.3"/><circle cx="562.1" cy="210.3" r="5.3"/><circle cx="586.5" cy="211.9" r="5.3"/><circle cx="584.6" cy="207.6" r="5.3"/><circle cx="582.1" cy="216.2" r="5.3"/><circle cx="581.0" cy="221.0" r="5.3"/><circle cx="603.0" cy="217.0" r="5.3"/><circle cx="606.1" cy="222.0" r="5.3"/><circle cx="489.0" cy="223.0" r="5.3"/><circle cx="494.2" cy="220.8" r="5.3"/><circle cx="489.7" cy="235.8" r="5.3"/><circle cx="487.8" cy="242.9" r="5.3"/><circle cx="494.2" cy="238.0" r="5.3"/><circle cx="523.6" cy="238.2" r="5.3"/><circle cx="521.4" cy="237.5" r="5.3"/><circle cx="520.7" cy="242.6" r="5.3"/><circle cx="519.9" cy="236.6" r="5.3"/><circle cx="535.0" cy="229.0" r="5.3"/><circle cx="531.0" cy="231.3" r="5.3"/><circle cx="556.7" cy="234.4" r="5.3"/><circle cx="557.6" cy="233.7" r="5.3"/><circle cx="552.7" cy="231.4" r="5.3"/><circle cx="568.5" cy="238.9" r="5.3"/><circle cx="567.7" cy="237.8" r="5.3"/><circle cx="568.2" cy="235.9" r="5.3"/><circle cx="605.0" cy="231.0" r="5.3"/><circle cx="609.2" cy="233.2" r="5.3"/><circle cx="491.8" cy="252.9" r="5.3"/><circle cx="505.0" cy="249.0" r="5.3"/><circle cx="505.0" cy="246.4" r="5.3"/><circle cx="526.5" cy="249.7" r="5.3"/><circle cx="526.5" cy="248.9" r="5.3"/><circle cx="528.6" cy="242.4" r="5.3"/><circle cx="529.0" cy="261.0" r="5.3"/><circle cx="527.3" cy="263.4" r="5.3"/><circle cx="561.0" cy="245.0" r="5.3"/><circle cx="566.7" cy="243.8" r="5.3"/><circle cx="588.9" cy="256.1" r="5.3"/><circle cx="590.5" cy="254.1" r="5.3"/><circle cx="585.6" cy="251.0" r="5.3"/><circle cx="575.8" cy="261.8" r="5.3"/><circle cx="579.0" cy="261.2" r="5.3"/><circle cx="578.7" cy="268.2" r="5.3"/><circle cx="606.7" cy="260.3" r="5.3"/><circle cx="605.0" cy="261.9" r="5.3"/><circle cx="607.7" cy="263.3" r="5.3"/><circle cx="611.7" cy="154.8" r="5.3"/><circle cx="628.2" cy="156.0" r="5.3"/><circle cx="621.5" cy="154.9" r="5.3"/><circle cx="622.9" cy="153.5" r="5.3"/><circle cx="634.0" cy="159.0" r="5.3"/><circle cx="647.0" cy="144.9" r="5.3"/><circle cx="652.6" cy="150.4" r="5.3"/><circle cx="655.8" cy="154.6" r="5.3"/><circle cx="656.2" cy="154.0" r="5.3"/><circle cx="652.9" cy="156.8" r="5.3"/><circle cx="659.3" cy="164.0" r="5.3"/><circle cx="656.6" cy="161.5" r="5.3"/><circle cx="660.8" cy="158.5" r="5.3"/><circle cx="682.0" cy="151.0" r="5.3"/><circle cx="678.6" cy="149.0" r="5.3"/><circle cx="688.0" cy="162.5" r="5.3"/><circle cx="686.9" cy="162.9" r="5.3"/><circle cx="682.5" cy="164.0" r="5.3"/><circle cx="696.9" cy="161.7" r="5.3"/><circle cx="698.9" cy="163.5" r="5.3"/><circle cx="697.1" cy="157.9" r="5.3"/><circle cx="697.6" cy="165.4" r="5.3"/><circle cx="720.6" cy="165.4" r="5.3"/><circle cx="715.4" cy="161.8" r="5.3"/><circle cx="715.8" cy="167.1" r="5.3"/><circle cx="715.1" cy="167.5" r="5.3"/><circle cx="717.3" cy="149.2" r="5.3"/><circle cx="722.5" cy="146.2" r="5.3"/><circle cx="726.0" cy="163.0" r="5.3"/><circle cx="726.9" cy="166.3" r="5.3"/><circle cx="732.0" cy="157.0" r="5.3"/><circle cx="736.0" cy="156.5" r="5.3"/><circle cx="616.0" cy="167.0" r="5.3"/><circle cx="617.7" cy="168.9" r="5.3"/><circle cx="635.5" cy="173.1" r="5.3"/><circle cx="637.5" cy="171.7" r="5.3"/><circle cx="639.2" cy="170.2" r="5.3"/><circle cx="662.3" cy="168.1" r="5.3"/><circle cx="660.3" cy="171.8" r="5.3"/><circle cx="676.0" cy="167.0" r="5.3"/><circle cx="673.8" cy="165.4" r="5.3"/><circle cx="674.0" cy="161.0" r="5.3"/><circle cx="675.3" cy="155.8" r="5.3"/><circle cx="620.9" cy="182.6" r="5.3"/><circle cx="631.9" cy="183.9" r="5.3"/><circle cx="731.2" cy="173.4" r="5.3"/><circle cx="622.0" cy="195.0" r="5.3"/><circle cx="620.0" cy="196.5" r="5.3"/><circle cx="635.0" cy="195.5" r="5.3"/><circle cx="632.7" cy="193.4" r="5.3"/><circle cx="629.4" cy="196.2" r="5.3"/><circle cx="653.8" cy="190.3" r="5.3"/><circle cx="650.7" cy="192.7" r="5.3"/><circle cx="654.6" cy="190.3" r="5.3"/><circle cx="658.0" cy="183.0" r="5.3"/><circle cx="654.1" cy="185.5" r="5.3"/><circle cx="649.9" cy="202.4" r="5.3"/><circle cx="674.0" cy="183.0" r="5.3"/><circle cx="677.4" cy="185.3" r="5.3"/><circle cx="684.0" cy="191.0" r="5.3"/><circle cx="683.5" cy="194.3" r="5.3"/><circle cx="671.8" cy="202.0" r="5.3"/><circle cx="670.5" cy="199.1" r="5.3"/><circle cx="674.3" cy="206.3" r="5.3"/><circle cx="668.2" cy="207.3" r="5.3"/><circle cx="676.0" cy="197.0" r="5.3"/><circle cx="670.4" cy="195.6" r="5.3"/><circle cx="626.0" cy="213.0" r="5.3"/><circle cx="624.8" cy="210.0" r="5.3"/><circle cx="638.0" cy="213.0" r="5.3"/><circle cx="635.4" cy="209.2" r="5.3"/><circle cx="646.0" cy="213.0" r="5.3"/><circle cx="647.8" cy="215.3" r="5.3"/><circle cx="690.2" cy="206.7" r="5.3"/><circle cx="690.5" cy="206.0" r="5.3"/><circle cx="691.6" cy="202.4" r="5.3"/><circle cx="689.6" cy="209.5" r="5.3"/><circle cx="691.1" cy="213.2" r="5.3"/><circle cx="694.5" cy="216.2" r="5.3"/><circle cx="694.5" cy="217.7" r="5.3"/><circle cx="714.0" cy="207.0" r="5.3"/><circle cx="716.6" cy="209.2" r="5.3"/><circle cx="730.6" cy="222.0" r="5.3"/><circle cx="629.9" cy="230.8" r="5.3"/><circle cx="628.8" cy="230.5" r="5.3"/><circle cx="626.9" cy="229.4" r="5.3"/><circle cx="630.0" cy="229.9" r="5.3"/><circle cx="631.0" cy="230.4" r="5.3"/><circle cx="627.8" cy="224.5" r="5.3"/><circle cx="621.1" cy="230.3" r="5.3"/><circle cx="621.0" cy="233.4" r="5.3"/><circle cx="620.1" cy="228.6" r="5.3"/><circle cx="611.9" cy="236.4" r="5.3"/><circle cx="610.0" cy="233.8" r="5.3"/><circle cx="627.8" cy="236.8" r="5.3"/><circle cx="626.1" cy="237.2" r="5.3"/><circle cx="623.4" cy="236.8" r="5.3"/><circle cx="621.0" cy="237.9" r="5.3"/><circle cx="638.0" cy="241.0" r="5.3"/><circle cx="636.2" cy="238.6" r="5.3"/><circle cx="645.7" cy="229.6" r="5.3"/><circle cx="660.1" cy="236.7" r="5.3"/><circle cx="668.0" cy="231.0" r="5.3"/><circle cx="664.8" cy="231.9" r="5.3"/><circle cx="681.8" cy="236.6" r="5.3"/><circle cx="681.0" cy="238.0" r="5.3"/><circle cx="686.6" cy="237.0" r="5.3"/><circle cx="696.2" cy="239.0" r="5.3"/><circle cx="695.1" cy="236.2" r="5.3"/><circle cx="697.8" cy="225.5" r="5.3"/><circle cx="699.7" cy="225.6" r="5.3"/><circle cx="688.0" cy="225.0" r="5.3"/><circle cx="693.4" cy="223.9" r="5.3"/><circle cx="716.4" cy="228.7" r="5.3"/><circle cx="719.3" cy="232.1" r="5.3"/><circle cx="722.7" cy="227.5" r="5.3"/><circle cx="727.0" cy="242.6" r="5.3"/><circle cx="723.1" cy="240.6" r="5.3"/><circle cx="723.9" cy="244.3" r="5.3"/><circle cx="721.1" cy="244.2" r="5.3"/><circle cx="730.0" cy="229.0" r="5.3"/><circle cx="725.2" cy="229.9" r="5.3"/><circle cx="712.0" cy="239.0" r="5.3"/><circle cx="710.8" cy="234.4" r="5.3"/><circle cx="619.4" cy="260.0" r="5.3"/><circle cx="617.8" cy="258.8" r="5.3"/><circle cx="618.3" cy="258.1" r="5.3"/><circle cx="628.0" cy="257.0" r="5.3"/><circle cx="625.6" cy="258.3" r="5.3"/><circle cx="648.0" cy="263.0" r="5.3"/><circle cx="644.0" cy="267.3" r="5.3"/><circle cx="656.0" cy="259.0" r="5.3"/><circle cx="654.4" cy="253.4" r="5.3"/><circle cx="664.0" cy="263.0" r="5.3"/><circle cx="667.3" cy="258.5" r="5.3"/><circle cx="672.3" cy="245.0" r="5.3"/><circle cx="668.4" cy="244.5" r="5.3"/><circle cx="681.2" cy="253.7" r="5.3"/><circle cx="682.7" cy="254.7" r="5.3"/><circle cx="679.4" cy="251.3" r="5.3"/><circle cx="684.0" cy="251.1" r="5.3"/><circle cx="682.9" cy="254.0" r="5.3"/><circle cx="691.2" cy="253.0" r="5.3"/><circle cx="692.5" cy="258.7" r="5.3"/><circle cx="691.3" cy="260.4" r="5.3"/><circle cx="694.0" cy="259.7" r="5.3"/><circle cx="687.3" cy="255.8" r="5.3"/><circle cx="677.3" cy="264.6" r="5.3"/><circle cx="677.2" cy="264.1" r="5.3"/><circle cx="677.6" cy="262.4" r="5.3"/><circle cx="677.5" cy="261.8" r="5.3"/><circle cx="702.0" cy="255.0" r="5.3"/><circle cx="702.7" cy="249.7" r="5.3"/><circle cx="710.0" cy="249.0" r="5.3"/><circle cx="708.0" cy="253.6" r="5.3"/><circle cx="738.4" cy="157.7" r="5.3"/><circle cx="737.6" cy="160.6" r="5.3"/><circle cx="742.1" cy="175.2" r="5.3"/><circle cx="741.3" cy="180.8" r="5.3"/><circle cx="747.8" cy="176.6" r="5.3"/><circle cx="740.7" cy="176.4" r="5.3"/><circle cx="748.8" cy="180.4" r="5.3"/><circle cx="743.3" cy="186.6" r="5.3"/><circle cx="745.0" cy="190.2" r="5.3"/><circle cx="741.8" cy="194.0" r="5.3"/><circle cx="759.0" cy="199.0" r="5.3"/><circle cx="758.7" cy="196.1" r="5.3"/><circle cx="753.0" cy="199.0" r="5.3"/><circle cx="751.2" cy="201.9" r="5.3"/><circle cx="775.0" cy="203.0" r="5.3"/><circle cx="777.4" cy="207.5" r="5.3"/><circle cx="770.0" cy="207.0" r="5.3"/><circle cx="772.9" cy="203.6" r="5.3"/><circle cx="788.2" cy="215.0" r="5.3"/><circle cx="788.4" cy="215.3" r="5.3"/><circle cx="788.1" cy="215.1" r="5.3"/><circle cx="788.6" cy="214.7" r="5.3"/><circle cx="788.3" cy="215.3" r="5.3"/><circle cx="750.9" cy="213.1" r="5.3"/><circle cx="746.8" cy="214.7" r="5.3"/><circle cx="753.7" cy="209.1" r="5.3"/><circle cx="738.8" cy="221.5" r="5.3"/><circle cx="739.5" cy="219.4" r="5.3"/><circle cx="734.7" cy="224.1" r="5.3"/><circle cx="743.0" cy="225.0" r="5.3"/><circle cx="757.1" cy="224.9" r="5.3"/><circle cx="757.4" cy="228.9" r="5.3"/><circle cx="750.2" cy="229.8" r="5.3"/><circle cx="759.0" cy="233.0" r="5.3"/><circle cx="763.8" cy="231.7" r="5.3"/><circle cx="740.2" cy="234.4" r="5.3"/><circle cx="740.0" cy="233.9" r="5.3"/><circle cx="737.0" cy="245.0" r="5.3"/><circle cx="746.1" cy="251.7" r="5.3"/><circle cx="745.1" cy="257.0" r="5.3"/><circle cx="743.3" cy="256.0" r="5.3"/><circle cx="738.1" cy="255.4" r="5.3"/><circle cx="780.6" cy="263.4" r="5.3"/><circle cx="778.4" cy="260.8" r="5.3"/><circle cx="781.2" cy="261.1" r="5.3"/><circle cx="781.3" cy="264.4" r="5.3"/><circle cx="777.9" cy="260.7" r="5.3"/><circle cx="777.9" cy="266.4" r="5.3"/><circle cx="774.8" cy="265.7" r="5.3"/><circle cx="775.8" cy="262.2" r="5.3"/><circle cx="168.8" cy="278.8" r="5.3"/><circle cx="174.1" cy="278.0" r="5.3"/><circle cx="174.1" cy="281.3" r="5.3"/><circle cx="178.0" cy="276.0" r="5.3"/><circle cx="176.3" cy="279.9" r="5.3"/><circle cx="198.6" cy="272.8" r="5.3"/><circle cx="194.9" cy="274.1" r="5.3"/><circle cx="222.0" cy="272.0" r="5.3"/><circle cx="170.0" cy="290.0" r="5.3"/><circle cx="173.6" cy="290.6" r="5.3"/><circle cx="148.3" cy="302.3" r="5.3"/><circle cx="153.0" cy="298.6" r="5.3"/><circle cx="148.0" cy="300.3" r="5.3"/><circle cx="147.6" cy="302.1" r="5.3"/><circle cx="153.7" cy="297.7" r="5.3"/><circle cx="149.4" cy="303.6" r="5.3"/><circle cx="156.0" cy="296.0" r="5.3"/><circle cx="160.9" cy="292.9" r="5.3"/><circle cx="146.7" cy="309.8" r="5.3"/><circle cx="168.0" cy="302.0" r="5.3"/><circle cx="170.3" cy="304.0" r="5.3"/><circle cx="169.9" cy="310.9" r="5.3"/><circle cx="171.9" cy="306.9" r="5.3"/><circle cx="175.4" cy="308.8" r="5.3"/><circle cx="172.0" cy="296.0" r="5.3"/><circle cx="175.9" cy="296.8" r="5.3"/><circle cx="190.0" cy="298.0" r="5.3"/><circle cx="187.0" cy="295.8" r="5.3"/><circle cx="185.2" cy="303.7" r="5.3"/><circle cx="195.1" cy="307.8" r="5.3"/><circle cx="194.6" cy="304.4" r="5.3"/><circle cx="202.2" cy="304.0" r="5.3"/><circle cx="214.9" cy="298.4" r="5.3"/><circle cx="220.0" cy="303.1" r="5.3"/><circle cx="232.0" cy="292.0" r="5.3"/><circle cx="227.3" cy="293.8" r="5.3"/><circle cx="130.3" cy="318.1" r="5.3"/><circle cx="134.7" cy="321.3" r="5.3"/><circle cx="133.6" cy="320.2" r="5.3"/><circle cx="130.0" cy="320.0" r="5.3"/><circle cx="128.8" cy="328.3" r="5.3"/><circle cx="150.3" cy="311.0" r="5.3"/><circle cx="156.2" cy="314.4" r="5.3"/><circle cx="158.7" cy="314.8" r="5.3"/><circle cx="163.9" cy="323.1" r="5.3"/><circle cx="166.3" cy="320.8" r="5.3"/><circle cx="168.3" cy="322.2" r="5.3"/><circle cx="185.8" cy="314.8" r="5.3"/><circle cx="178.6" cy="314.9" r="5.3"/><circle cx="186.9" cy="326.1" r="5.3"/><circle cx="184.8" cy="321.7" r="5.3"/><circle cx="184.5" cy="328.1" r="5.3"/><circle cx="192.0" cy="326.0" r="5.3"/><circle cx="200.2" cy="322.1" r="5.3"/><circle cx="200.0" cy="324.2" r="5.3"/><circle cx="204.9" cy="319.5" r="5.3"/><circle cx="208.2" cy="328.8" r="5.3"/><circle cx="207.5" cy="330.2" r="5.3"/><circle cx="204.2" cy="332.4" r="5.3"/><circle cx="205.1" cy="324.7" r="5.3"/><circle cx="220.7" cy="332.0" r="5.3"/><circle cx="226.4" cy="328.3" r="5.3"/><circle cx="154.4" cy="332.8" r="5.3"/><circle cx="146.4" cy="332.7" r="5.3"/><circle cx="148.7" cy="336.0" r="5.3"/><circle cx="145.7" cy="334.9" r="5.3"/><circle cx="155.9" cy="347.9" r="5.3"/><circle cx="158.3" cy="347.2" r="5.3"/><circle cx="153.5" cy="348.7" r="5.3"/><circle cx="149.9" cy="346.8" r="5.3"/><circle cx="158.9" cy="346.2" r="5.3"/><circle cx="186.0" cy="338.0" r="5.3"/><circle cx="182.4" cy="342.4" r="5.3"/><circle cx="194.5" cy="331.8" r="5.3"/><circle cx="199.5" cy="336.3" r="5.3"/><circle cx="201.7" cy="335.4" r="5.3"/><circle cx="210.0" cy="338.0" r="5.3"/><circle cx="210.2" cy="340.8" r="5.3"/><circle cx="226.6" cy="336.1" r="5.3"/><circle cx="227.0" cy="340.6" r="5.3"/><circle cx="226.8" cy="341.4" r="5.3"/><circle cx="222.0" cy="350.0" r="5.3"/><circle cx="153.4" cy="349.3" r="5.3"/><circle cx="153.6" cy="349.6" r="5.3"/><circle cx="153.8" cy="345.0" r="5.3"/><circle cx="158.0" cy="354.0" r="5.3"/><circle cx="156.5" cy="351.6" r="5.3"/><circle cx="170.0" cy="352.0" r="5.3"/><circle cx="187.3" cy="356.7" r="5.3"/><circle cx="188.8" cy="358.2" r="5.3"/><circle cx="229.3" cy="354.0" r="5.3"/><circle cx="230.5" cy="355.9" r="5.3"/><circle cx="230.9" cy="353.3" r="5.3"/><circle cx="171.7" cy="367.8" r="5.3"/><circle cx="173.1" cy="372.6" r="5.3"/><circle cx="178.7" cy="368.0" r="5.3"/><circle cx="175.2" cy="371.7" r="5.3"/><circle cx="175.6" cy="373.2" r="5.3"/><circle cx="178.0" cy="374.0" r="5.3"/><circle cx="174.4" cy="369.4" r="5.3"/><circle cx="189.2" cy="377.3" r="5.3"/><circle cx="189.3" cy="380.2" r="5.3"/><circle cx="205.7" cy="383.1" r="5.3"/><circle cx="203.1" cy="384.9" r="5.3"/><circle cx="199.0" cy="384.6" r="5.3"/><circle cx="204.9" cy="388.0" r="5.3"/><circle cx="214.0" cy="390.0" r="5.3"/><circle cx="213.7" cy="386.8" r="5.3"/><circle cx="220.4" cy="388.2" r="5.3"/><circle cx="230.0" cy="388.0" r="5.3"/><circle cx="230.5" cy="391.6" r="5.3"/><circle cx="276.5" cy="274.2" r="5.3"/><circle cx="281.5" cy="272.1" r="5.3"/><circle cx="275.3" cy="275.5" r="5.3"/><circle cx="276.7" cy="279.4" r="5.3"/><circle cx="283.9" cy="280.9" r="5.3"/><circle cx="284.8" cy="286.9" r="5.3"/><circle cx="239.0" cy="290.0" r="5.3"/><circle cx="236.8" cy="287.8" r="5.3"/><circle cx="252.4" cy="294.3" r="5.3"/><circle cx="252.4" cy="289.1" r="5.3"/><circle cx="248.4" cy="288.5" r="5.3"/><circle cx="248.1" cy="289.8" r="5.3"/><circle cx="263.6" cy="291.5" r="5.3"/><circle cx="263.2" cy="296.6" r="5.3"/><circle cx="319.0" cy="274.1" r="5.3"/><circle cx="333.0" cy="272.0" r="5.3"/><circle cx="335.1" cy="275.7" r="5.3"/><circle cx="307.0" cy="272.0" r="5.3"/><circle cx="306.4" cy="274.7" r="5.3"/><circle cx="339.4" cy="300.0" r="5.3"/><circle cx="334.8" cy="297.2" r="5.3"/><circle cx="336.4" cy="298.6" r="5.3"/><circle cx="340.6" cy="296.3" r="5.3"/><circle cx="334.8" cy="296.1" r="5.3"/><circle cx="340.0" cy="298.9" r="5.3"/><circle cx="331.0" cy="302.0" r="5.3"/><circle cx="334.0" cy="305.5" r="5.3"/><circle cx="348.2" cy="303.4" r="5.3"/><circle cx="345.1" cy="298.0" r="5.3"/><circle cx="355.0" cy="294.0" r="5.3"/><circle cx="350.3" cy="291.9" r="5.3"/><circle cx="355.0" cy="286.0" r="5.3"/><circle cx="353.4" cy="283.6" r="5.3"/><circle cx="244.3" cy="327.0" r="5.3"/><circle cx="239.0" cy="332.0" r="5.3"/><circle cx="234.6" cy="330.5" r="5.3"/><circle cx="307.4" cy="312.3" r="5.3"/><circle cx="306.8" cy="308.6" r="5.3"/><circle cx="323.6" cy="314.4" r="5.3"/><circle cx="323.7" cy="311.4" r="5.3"/><circle cx="331.0" cy="316.0" r="5.3"/><circle cx="327.4" cy="318.4" r="5.3"/><circle cx="347.2" cy="309.0" r="5.3"/><circle cx="335.0" cy="328.0" r="5.3"/><circle cx="332.9" cy="325.9" r="5.3"/><circle cx="305.8" cy="337.3" r="5.3"/><circle cx="310.4" cy="335.6" r="5.3"/><circle cx="310.9" cy="337.4" r="5.3"/><circle cx="307.7" cy="335.9" r="5.3"/><circle cx="310.9" cy="338.5" r="5.3"/><circle cx="306.2" cy="334.5" r="5.3"/><circle cx="291.0" cy="338.0" r="5.3"/><circle cx="289.2" cy="342.7" r="5.3"/><circle cx="299.0" cy="344.0" r="5.3"/><circle cx="296.3" cy="344.3" r="5.3"/><circle cx="339.0" cy="341.9" r="5.3"/><circle cx="336.8" cy="340.5" r="5.3"/><circle cx="339.4" cy="342.5" r="5.3"/><circle cx="352.6" cy="336.0" r="5.3"/><circle cx="354.8" cy="336.9" r="5.3"/><circle cx="355.1" cy="334.6" r="5.3"/><circle cx="357.0" cy="338.0" r="5.3"/><circle cx="353.9" cy="338.5" r="5.3"/><circle cx="258.6" cy="347.1" r="5.3"/><circle cx="259.5" cy="347.2" r="5.3"/><circle cx="256.7" cy="346.4" r="5.3"/><circle cx="262.9" cy="349.1" r="5.3"/><circle cx="263.3" cy="344.5" r="5.3"/><circle cx="263.4" cy="350.6" r="5.3"/><circle cx="253.0" cy="344.0" r="5.3"/><circle cx="256.4" cy="347.5" r="5.3"/><circle cx="245.0" cy="338.0" r="5.3"/><circle cx="246.0" cy="335.3" r="5.3"/><circle cx="240.4" cy="339.6" r="5.3"/><circle cx="239.5" cy="338.4" r="5.3"/><circle cx="233.0" cy="338.0" r="5.3"/><circle cx="261.1" cy="355.7" r="5.3"/><circle cx="265.2" cy="355.5" r="5.3"/><circle cx="261.5" cy="356.7" r="5.3"/><circle cx="260.9" cy="360.3" r="5.3"/><circle cx="264.9" cy="352.6" r="5.3"/><circle cx="253.0" cy="356.0" r="5.3"/><circle cx="254.2" cy="359.9" r="5.3"/><circle cx="239.0" cy="360.0" r="5.3"/><circle cx="287.0" cy="348.0" r="5.3"/><circle cx="285.5" cy="352.3" r="5.3"/><circle cx="301.8" cy="361.5" r="5.3"/><circle cx="305.2" cy="358.3" r="5.3"/><circle cx="304.8" cy="359.9" r="5.3"/><circle cx="305.5" cy="359.4" r="5.3"/><circle cx="304.5" cy="362.1" r="5.3"/><circle cx="307.2" cy="367.1" r="5.3"/><circle cx="315.0" cy="366.0" r="5.3"/><circle cx="314.4" cy="362.6" r="5.3"/><circle cx="333.6" cy="352.2" r="5.3"/><circle cx="330.2" cy="356.8" r="5.3"/><circle cx="343.0" cy="358.0" r="5.3"/><circle cx="353.0" cy="356.0" r="5.3"/><circle cx="338.6" cy="375.3" r="5.3"/><circle cx="335.3" cy="367.7" r="5.3"/><circle cx="338.5" cy="373.0" r="5.3"/><circle cx="348.9" cy="367.3" r="5.3"/><circle cx="349.1" cy="371.5" r="5.3"/><circle cx="261.0" cy="368.0" r="5.3"/><circle cx="263.2" cy="373.4" r="5.3"/><circle cx="249.6" cy="377.0" r="5.3"/><circle cx="237.0" cy="388.0" r="5.3"/><circle cx="238.6" cy="382.8" r="5.3"/><circle cx="263.0" cy="378.0" r="5.3"/><circle cx="275.5" cy="381.1" r="5.3"/><circle cx="274.6" cy="381.9" r="5.3"/><circle cx="289.0" cy="384.0" r="5.3"/><circle cx="293.0" cy="386.9" r="5.3"/><circle cx="279.0" cy="386.0" r="5.3"/><circle cx="284.6" cy="385.6" r="5.3"/><circle cx="305.8" cy="372.9" r="5.3"/><circle cx="305.0" cy="382.0" r="5.3"/><circle cx="301.7" cy="380.5" r="5.3"/><circle cx="355.0" cy="372.0" r="5.3"/><circle cx="355.1" cy="376.9" r="5.3"/><circle cx="355.0" cy="390.0" r="5.3"/><circle cx="374.9" cy="276.9" r="5.3"/><circle cx="376.8" cy="285.4" r="5.3"/><circle cx="374.4" cy="280.8" r="5.3"/><circle cx="373.6" cy="280.1" r="5.3"/><circle cx="374.8" cy="275.5" r="5.3"/><circle cx="374.3" cy="283.6" r="5.3"/><circle cx="363.0" cy="278.0" r="5.3"/><circle cx="366.8" cy="276.2" r="5.3"/><circle cx="387.0" cy="283.4" r="5.3"/><circle cx="381.5" cy="286.3" r="5.3"/><circle cx="395.8" cy="276.8" r="5.3"/><circle cx="392.7" cy="277.3" r="5.3"/><circle cx="395.4" cy="271.6" r="5.3"/><circle cx="402.0" cy="280.0" r="5.3"/><circle cx="402.1" cy="277.3" r="5.3"/><circle cx="415.6" cy="271.0" r="5.3"/><circle cx="412.5" cy="279.0" r="5.3"/><circle cx="422.0" cy="278.0" r="5.3"/><circle cx="416.8" cy="275.7" r="5.3"/><circle cx="444.6" cy="276.0" r="5.3"/><circle cx="441.2" cy="276.7" r="5.3"/><circle cx="443.1" cy="270.0" r="5.3"/><circle cx="439.1" cy="275.0" r="5.3"/><circle cx="460.6" cy="277.0" r="5.3"/><circle cx="458.3" cy="279.8" r="5.3"/><circle cx="477.7" cy="288.7" r="5.3"/><circle cx="479.3" cy="285.5" r="5.3"/><circle cx="480.5" cy="284.8" r="5.3"/><circle cx="410.5" cy="288.7" r="5.3"/><circle cx="409.2" cy="290.3" r="5.3"/><circle cx="407.0" cy="287.9" r="5.3"/><circle cx="412.3" cy="283.1" r="5.3"/><circle cx="374.5" cy="301.1" r="5.3"/><circle cx="374.4" cy="298.1" r="5.3"/><circle cx="371.5" cy="306.8" r="5.3"/><circle cx="366.0" cy="298.0" r="5.3"/><circle cx="383.2" cy="305.8" r="5.3"/><circle cx="386.6" cy="303.9" r="5.3"/><circle cx="363.1" cy="310.8" r="5.3"/><circle cx="362.2" cy="308.2" r="5.3"/><circle cx="363.5" cy="312.4" r="5.3"/><circle cx="358.7" cy="314.5" r="5.3"/><circle cx="407.5" cy="299.2" r="5.3"/><circle cx="408.1" cy="303.4" r="5.3"/><circle cx="411.6" cy="300.7" r="5.3"/><circle cx="403.6" cy="307.5" r="5.3"/><circle cx="419.1" cy="297.7" r="5.3"/><circle cx="422.2" cy="293.5" r="5.3"/><circle cx="417.8" cy="296.3" r="5.3"/><circle cx="423.8" cy="294.5" r="5.3"/><circle cx="415.0" cy="293.8" r="5.3"/><circle cx="426.0" cy="304.7" r="5.3"/><circle cx="423.3" cy="304.0" r="5.3"/><circle cx="422.2" cy="304.5" r="5.3"/><circle cx="429.0" cy="299.2" r="5.3"/><circle cx="420.0" cy="308.0" r="5.3"/><circle cx="424.3" cy="305.8" r="5.3"/><circle cx="444.4" cy="297.1" r="5.3"/><circle cx="444.2" cy="297.7" r="5.3"/><circle cx="444.0" cy="306.0" r="5.3"/><circle cx="467.7" cy="300.5" r="5.3"/><circle cx="471.4" cy="303.9" r="5.3"/><circle cx="469.9" cy="299.0" r="5.3"/><circle cx="466.1" cy="302.3" r="5.3"/><circle cx="480.0" cy="294.0" r="5.3"/><circle cx="464.0" cy="306.0" r="5.3"/><circle cx="458.4" cy="307.9" r="5.3"/><circle cx="370.9" cy="326.5" r="5.3"/><circle cx="366.0" cy="326.1" r="5.3"/><circle cx="374.0" cy="327.1" r="5.3"/><circle cx="382.0" cy="318.0" r="5.3"/><circle cx="377.8" cy="321.9" r="5.3"/><circle cx="390.0" cy="318.0" r="5.3"/><circle cx="400.0" cy="320.0" r="5.3"/><circle cx="405.0" cy="321.1" r="5.3"/><circle cx="418.3" cy="328.4" r="5.3"/><circle cx="444.0" cy="322.0" r="5.3"/><circle cx="438.8" cy="323.9" r="5.3"/><circle cx="440.0" cy="316.0" r="5.3"/><circle cx="439.4" cy="312.3" r="5.3"/><circle cx="462.0" cy="318.0" r="5.3"/><circle cx="457.7" cy="322.1" r="5.3"/><circle cx="468.0" cy="326.0" r="5.3"/><circle cx="464.0" cy="329.4" r="5.3"/><circle cx="482.0" cy="318.0" r="5.3"/><circle cx="481.7" cy="322.8" r="5.3"/><circle cx="399.2" cy="336.6" r="5.3"/><circle cx="397.0" cy="337.3" r="5.3"/><circle cx="399.8" cy="336.5" r="5.3"/><circle cx="399.2" cy="340.0" r="5.3"/><circle cx="399.7" cy="335.1" r="5.3"/><circle cx="400.0" cy="335.0" r="5.3"/><circle cx="384.9" cy="341.5" r="5.3"/><circle cx="389.8" cy="340.8" r="5.3"/><circle cx="387.3" cy="345.8" r="5.3"/><circle cx="379.0" cy="340.5" r="5.3"/><circle cx="375.9" cy="340.2" r="5.3"/><circle cx="375.5" cy="343.2" r="5.3"/><circle cx="364.0" cy="338.0" r="5.3"/><circle cx="360.6" cy="339.2" r="5.3"/><circle cx="441.2" cy="339.6" r="5.3"/><circle cx="437.2" cy="335.3" r="5.3"/><circle cx="440.0" cy="334.3" r="5.3"/><circle cx="428.0" cy="338.0" r="5.3"/><circle cx="425.5" cy="341.4" r="5.3"/><circle cx="445.1" cy="349.0" r="5.3"/><circle cx="438.2" cy="349.0" r="5.3"/><circle cx="445.4" cy="349.3" r="5.3"/><circle cx="446.6" cy="349.5" r="5.3"/><circle cx="454.0" cy="338.0" r="5.3"/><circle cx="455.9" cy="335.7" r="5.3"/><circle cx="460.0" cy="340.0" r="5.3"/><circle cx="458.0" cy="343.3" r="5.3"/><circle cx="472.9" cy="342.7" r="5.3"/><circle cx="473.1" cy="339.6" r="5.3"/><circle cx="472.8" cy="334.9" r="5.3"/><circle cx="420.0" cy="346.0" r="5.3"/><circle cx="420.0" cy="343.3" r="5.3"/><circle cx="364.5" cy="354.7" r="5.3"/><circle cx="368.2" cy="356.7" r="5.3"/><circle cx="390.0" cy="350.0" r="5.3"/><circle cx="398.0" cy="354.0" r="5.3"/><circle cx="393.8" cy="355.7" r="5.3"/><circle cx="389.9" cy="364.7" r="5.3"/><circle cx="394.9" cy="369.6" r="5.3"/><circle cx="390.8" cy="366.9" r="5.3"/><circle cx="400.0" cy="364.0" r="5.3"/><circle cx="372.0" cy="362.0" r="5.3"/><circle cx="420.0" cy="350.0" r="5.3"/><circle cx="423.8" cy="354.1" r="5.3"/><circle cx="429.9" cy="361.2" r="5.3"/><circle cx="427.8" cy="360.6" r="5.3"/><circle cx="424.1" cy="359.5" r="5.3"/><circle cx="430.6" cy="362.5" r="5.3"/><circle cx="439.7" cy="358.8" r="5.3"/><circle cx="439.6" cy="358.2" r="5.3"/><circle cx="434.5" cy="358.5" r="5.3"/><circle cx="438.4" cy="353.2" r="5.3"/><circle cx="448.0" cy="353.3" r="5.3"/><circle cx="452.4" cy="349.3" r="5.3"/><circle cx="465.6" cy="350.8" r="5.3"/><circle cx="465.1" cy="350.2" r="5.3"/><circle cx="477.2" cy="357.2" r="5.3"/><circle cx="473.5" cy="359.0" r="5.3"/><circle cx="464.0" cy="364.0" r="5.3"/><circle cx="460.8" cy="366.5" r="5.3"/><circle cx="417.2" cy="367.2" r="5.3"/><circle cx="414.2" cy="369.4" r="5.3"/><circle cx="420.0" cy="362.0" r="5.3"/><circle cx="420.5" cy="367.3" r="5.3"/><circle cx="367.6" cy="373.7" r="5.3"/><circle cx="362.8" cy="374.3" r="5.3"/><circle cx="367.5" cy="375.4" r="5.3"/><circle cx="358.5" cy="374.9" r="5.3"/><circle cx="370.0" cy="382.0" r="5.3"/><circle cx="382.1" cy="379.6" r="5.3"/><circle cx="387.5" cy="381.3" r="5.3"/><circle cx="389.0" cy="380.5" r="5.3"/><circle cx="397.5" cy="377.4" r="5.3"/><circle cx="395.9" cy="380.5" r="5.3"/><circle cx="406.5" cy="388.9" r="5.3"/><circle cx="406.8" cy="388.8" r="5.3"/><circle cx="402.6" cy="390.4" r="5.3"/><circle cx="434.2" cy="378.5" r="5.3"/><circle cx="430.4" cy="377.9" r="5.3"/><circle cx="433.6" cy="379.3" r="5.3"/><circle cx="430.2" cy="372.0" r="5.3"/><circle cx="426.0" cy="386.0" r="5.3"/><circle cx="428.0" cy="382.0" r="5.3"/><circle cx="438.4" cy="384.3" r="5.3"/><circle cx="438.4" cy="379.6" r="5.3"/><circle cx="464.0" cy="382.0" r="5.3"/><circle cx="461.9" cy="378.9" r="5.3"/><circle cx="468.0" cy="390.0" r="5.3"/><circle cx="484.0" cy="386.4" r="5.3"/><circle cx="483.1" cy="382.6" r="5.3"/><circle cx="472.0" cy="374.0" r="5.3"/><circle cx="474.4" cy="379.0" r="5.3"/><circle cx="488.1" cy="286.4" r="5.3"/><circle cx="490.3" cy="281.2" r="5.3"/><circle cx="490.3" cy="286.1" r="5.3"/><circle cx="491.6" cy="283.1" r="5.3"/><circle cx="489.5" cy="291.3" r="5.3"/><circle cx="499.9" cy="288.7" r="5.3"/><circle cx="499.9" cy="286.3" r="5.3"/><circle cx="503.7" cy="290.8" r="5.3"/><circle cx="505.5" cy="277.5" r="5.3"/><circle cx="507.2" cy="277.3" r="5.3"/><circle cx="511.6" cy="275.5" r="5.3"/><circle cx="515.0" cy="274.7" r="5.3"/><circle cx="523.0" cy="282.0" r="5.3"/><circle cx="524.6" cy="276.6" r="5.3"/><circle cx="558.6" cy="276.6" r="5.3"/><circle cx="556.2" cy="275.8" r="5.3"/><circle cx="554.8" cy="280.6" r="5.3"/><circle cx="567.0" cy="276.0" r="5.3"/><circle cx="574.7" cy="273.4" r="5.3"/><circle cx="576.1" cy="273.6" r="5.3"/><circle cx="574.8" cy="269.8" r="5.3"/><circle cx="595.1" cy="275.1" r="5.3"/><circle cx="603.0" cy="278.0" r="5.3"/><circle cx="604.0" cy="273.2" r="5.3"/><circle cx="605.0" cy="286.0" r="5.3"/><circle cx="601.3" cy="290.2" r="5.3"/><circle cx="495.0" cy="306.0" r="5.3"/><circle cx="496.7" cy="302.6" r="5.3"/><circle cx="508.2" cy="301.6" r="5.3"/><circle cx="517.8" cy="299.1" r="5.3"/><circle cx="523.9" cy="298.6" r="5.3"/><circle cx="539.0" cy="292.0" r="5.3"/><circle cx="536.9" cy="288.0" r="5.3"/><circle cx="548.2" cy="294.5" r="5.3"/><circle cx="548.1" cy="289.7" r="5.3"/><circle cx="553.0" cy="293.0" r="5.3"/><circle cx="568.8" cy="287.7" r="5.3"/><circle cx="566.5" cy="284.1" r="5.3"/><circle cx="579.7" cy="299.3" r="5.3"/><circle cx="589.0" cy="292.0" r="5.3"/><circle cx="485.1" cy="317.1" r="5.3"/><circle cx="489.0" cy="318.4" r="5.3"/><circle cx="488.6" cy="322.4" r="5.3"/><circle cx="513.0" cy="316.0" r="5.3"/><circle cx="515.4" cy="313.6" r="5.3"/><circle cx="501.0" cy="324.0" r="5.3"/><circle cx="511.0" cy="328.0" r="5.3"/><circle cx="515.7" cy="331.2" r="5.3"/><circle cx="528.1" cy="331.8" r="5.3"/><circle cx="521.8" cy="325.6" r="5.3"/><circle cx="517.6" cy="327.3" r="5.3"/><circle cx="526.8" cy="322.4" r="5.3"/><circle cx="538.4" cy="327.6" r="5.3"/><circle cx="540.8" cy="326.1" r="5.3"/><circle cx="544.6" cy="321.7" r="5.3"/><circle cx="570.2" cy="319.6" r="5.3"/><circle cx="568.3" cy="319.0" r="5.3"/><circle cx="560.8" cy="320.5" r="5.3"/><circle cx="569.0" cy="321.3" r="5.3"/><circle cx="565.9" cy="314.5" r="5.3"/><circle cx="557.6" cy="325.0" r="5.3"/><circle cx="557.1" cy="320.7" r="5.3"/><circle cx="575.7" cy="328.7" r="5.3"/><circle cx="574.2" cy="328.7" r="5.3"/><circle cx="575.4" cy="330.9" r="5.3"/><circle cx="598.1" cy="318.5" r="5.3"/><circle cx="598.9" cy="312.8" r="5.3"/><circle cx="602.1" cy="314.5" r="5.3"/><circle cx="594.3" cy="315.2" r="5.3"/><circle cx="600.6" cy="321.3" r="5.3"/><circle cx="593.0" cy="324.0" r="5.3"/><circle cx="589.7" cy="323.1" r="5.3"/><circle cx="605.0" cy="326.0" r="5.3"/><circle cx="608.1" cy="323.1" r="5.3"/><circle cx="487.5" cy="341.2" r="5.3"/><circle cx="487.5" cy="340.8" r="5.3"/><circle cx="494.0" cy="337.2" r="5.3"/><circle cx="488.2" cy="343.9" r="5.3"/><circle cx="490.8" cy="343.9" r="5.3"/><circle cx="497.0" cy="340.0" r="5.3"/><circle cx="498.0" cy="337.7" r="5.3"/><circle cx="519.0" cy="344.0" r="5.3"/><circle cx="515.7" cy="343.7" r="5.3"/><circle cx="512.0" cy="351.0" r="5.3"/><circle cx="515.6" cy="350.1" r="5.3"/><circle cx="505.8" cy="347.1" r="5.3"/><circle cx="529.0" cy="332.9" r="5.3"/><circle cx="539.4" cy="334.1" r="5.3"/><circle cx="539.1" cy="333.5" r="5.3"/><circle cx="541.0" cy="339.1" r="5.3"/><circle cx="530.2" cy="351.3" r="5.3"/><circle cx="530.5" cy="349.1" r="5.3"/><circle cx="531.6" cy="356.4" r="5.3"/><circle cx="567.4" cy="328.1" r="5.3"/><circle cx="571.8" cy="333.6" r="5.3"/><circle cx="574.8" cy="329.6" r="5.3"/><circle cx="575.0" cy="344.0" r="5.3"/><circle cx="580.9" cy="344.0" r="5.3"/><circle cx="587.0" cy="338.0" r="5.3"/><circle cx="587.7" cy="340.4" r="5.3"/><circle cx="587.7" cy="347.6" r="5.3"/><circle cx="593.4" cy="346.5" r="5.3"/><circle cx="589.6" cy="351.6" r="5.3"/><circle cx="602.5" cy="337.7" r="5.3"/><circle cx="602.8" cy="337.7" r="5.3"/><circle cx="607.3" cy="338.4" r="5.3"/><circle cx="487.0" cy="360.0" r="5.3"/><circle cx="491.3" cy="363.1" r="5.3"/><circle cx="521.0" cy="354.0" r="5.3"/><circle cx="518.2" cy="350.7" r="5.3"/><circle cx="541.6" cy="359.0" r="5.3"/><circle cx="554.0" cy="364.2" r="5.3"/><circle cx="550.1" cy="362.7" r="5.3"/><circle cx="556.5" cy="365.9" r="5.3"/><circle cx="549.9" cy="368.9" r="5.3"/><circle cx="549.8" cy="366.4" r="5.3"/><circle cx="559.0" cy="356.0" r="5.3"/><circle cx="554.1" cy="354.8" r="5.3"/><circle cx="574.9" cy="364.5" r="5.3"/><circle cx="569.1" cy="364.4" r="5.3"/><circle cx="566.8" cy="365.0" r="5.3"/><circle cx="567.9" cy="361.9" r="5.3"/><circle cx="585.1" cy="360.0" r="5.3"/><circle cx="580.7" cy="363.4" r="5.3"/><circle cx="576.7" cy="360.8" r="5.3"/><circle cx="585.0" cy="368.0" r="5.3"/><circle cx="582.7" cy="369.9" r="5.3"/><circle cx="607.0" cy="368.0" r="5.3"/><circle cx="610.0" cy="368.1" r="5.3"/><circle cx="497.3" cy="364.1" r="5.3"/><circle cx="499.6" cy="364.3" r="5.3"/><circle cx="499.7" cy="368.3" r="5.3"/><circle cx="505.2" cy="364.9" r="5.3"/><circle cx="509.0" cy="366.0" r="5.3"/><circle cx="506.8" cy="363.3" r="5.3"/><circle cx="533.0" cy="370.0" r="5.3"/><circle cx="531.8" cy="364.9" r="5.3"/><circle cx="497.0" cy="384.0" r="5.3"/><circle cx="492.4" cy="383.7" r="5.3"/><circle cx="487.0" cy="386.0" r="5.3"/><circle cx="508.5" cy="382.6" r="5.3"/><circle cx="513.3" cy="384.8" r="5.3"/><circle cx="513.7" cy="381.7" r="5.3"/><circle cx="519.0" cy="376.0" r="5.3"/><circle cx="521.5" cy="374.3" r="5.3"/><circle cx="532.1" cy="384.5" r="5.3"/><circle cx="535.9" cy="378.5" r="5.3"/><circle cx="545.1" cy="376.5" r="5.3"/><circle cx="545.5" cy="376.3" r="5.3"/><circle cx="544.5" cy="373.4" r="5.3"/><circle cx="549.4" cy="386.3" r="5.3"/><circle cx="565.0" cy="388.0" r="5.3"/><circle cx="566.6" cy="386.0" r="5.3"/><circle cx="591.0" cy="378.0" r="5.3"/><circle cx="589.0" cy="376.4" r="5.3"/><circle cx="602.2" cy="379.1" r="5.3"/><circle cx="600.5" cy="377.2" r="5.3"/><circle cx="597.4" cy="376.9" r="5.3"/><circle cx="605.0" cy="390.0" r="5.3"/><circle cx="599.7" cy="387.2" r="5.3"/><circle cx="617.9" cy="276.2" r="5.3"/><circle cx="615.2" cy="278.0" r="5.3"/><circle cx="611.4" cy="277.0" r="5.3"/><circle cx="615.8" cy="286.0" r="5.3"/><circle cx="617.9" cy="290.4" r="5.3"/><circle cx="622.2" cy="288.0" r="5.3"/><circle cx="644.0" cy="278.0" r="5.3"/><circle cx="642.1" cy="273.9" r="5.3"/><circle cx="652.7" cy="272.4" r="5.3"/><circle cx="649.8" cy="274.8" r="5.3"/><circle cx="662.0" cy="272.0" r="5.3"/><circle cx="665.7" cy="272.1" r="5.3"/><circle cx="680.4" cy="272.8" r="5.3"/><circle cx="675.4" cy="274.0" r="5.3"/><circle cx="710.0" cy="286.0" r="5.3"/><circle cx="713.4" cy="290.3" r="5.3"/><circle cx="732.0" cy="290.0" r="5.3"/><circle cx="736.5" cy="288.7" r="5.3"/><circle cx="640.4" cy="293.8" r="5.3"/><circle cx="638.9" cy="293.9" r="5.3"/><circle cx="639.5" cy="294.1" r="5.3"/><circle cx="641.2" cy="293.0" r="5.3"/><circle cx="642.9" cy="294.5" r="5.3"/><circle cx="632.4" cy="290.5" r="5.3"/><circle cx="644.8" cy="301.7" r="5.3"/><circle cx="644.2" cy="300.5" r="5.3"/><circle cx="640.4" cy="305.0" r="5.3"/><circle cx="642.4" cy="305.0" r="5.3"/><circle cx="637.2" cy="302.5" r="5.3"/><circle cx="630.3" cy="300.1" r="5.3"/><circle cx="632.3" cy="303.4" r="5.3"/><circle cx="628.7" cy="297.5" r="5.3"/><circle cx="649.5" cy="293.8" r="5.3"/><circle cx="655.7" cy="294.5" r="5.3"/><circle cx="659.5" cy="301.9" r="5.3"/><circle cx="655.5" cy="301.2" r="5.3"/><circle cx="654.9" cy="307.2" r="5.3"/><circle cx="653.3" cy="298.2" r="5.3"/><circle cx="612.0" cy="306.0" r="5.3"/><circle cx="612.2" cy="300.6" r="5.3"/><circle cx="668.0" cy="294.0" r="5.3"/><circle cx="671.4" cy="295.6" r="5.3"/><circle cx="666.0" cy="304.0" r="5.3"/><circle cx="662.9" cy="308.9" r="5.3"/><circle cx="690.0" cy="302.0" r="5.3"/><circle cx="691.7" cy="299.8" r="5.3"/><circle cx="702.0" cy="302.0" r="5.3"/><circle cx="726.6" cy="300.3" r="5.3"/><circle cx="730.0" cy="306.0" r="5.3"/><circle cx="678.0" cy="306.0" r="5.3"/><circle cx="679.5" cy="300.4" r="5.3"/><circle cx="623.1" cy="313.1" r="5.3"/><circle cx="626.8" cy="311.9" r="5.3"/><circle cx="627.6" cy="317.3" r="5.3"/><circle cx="634.0" cy="320.0" r="5.3"/><circle cx="629.8" cy="323.5" r="5.3"/><circle cx="647.2" cy="315.7" r="5.3"/><circle cx="648.6" cy="319.4" r="5.3"/><circle cx="677.8" cy="314.4" r="5.3"/><circle cx="678.1" cy="309.5" r="5.3"/><circle cx="676.9" cy="317.7" r="5.3"/><circle cx="687.4" cy="313.5" r="5.3"/><circle cx="684.5" cy="314.1" r="5.3"/><circle cx="689.2" cy="310.4" r="5.3"/><circle cx="682.7" cy="313.5" r="5.3"/><circle cx="691.7" cy="316.7" r="5.3"/><circle cx="689.7" cy="314.7" r="5.3"/><circle cx="680.0" cy="320.0" r="5.3"/><circle cx="676.9" cy="324.8" r="5.3"/><circle cx="708.0" cy="315.5" r="5.3"/><circle cx="710.1" cy="316.7" r="5.3"/><circle cx="706.5" cy="313.2" r="5.3"/><circle cx="704.3" cy="311.0" r="5.3"/><circle cx="705.4" cy="315.0" r="5.3"/><circle cx="714.8" cy="319.9" r="5.3"/><circle cx="724.0" cy="312.0" r="5.3"/><circle cx="612.9" cy="335.4" r="5.3"/><circle cx="614.5" cy="335.0" r="5.3"/><circle cx="610.6" cy="334.8" r="5.3"/><circle cx="617.7" cy="338.0" r="5.3"/><circle cx="622.0" cy="338.0" r="5.3"/><circle cx="622.5" cy="342.7" r="5.3"/><circle cx="638.0" cy="334.0" r="5.3"/><circle cx="641.2" cy="336.7" r="5.3"/><circle cx="643.5" cy="340.0" r="5.3"/><circle cx="640.7" cy="338.2" r="5.3"/><circle cx="650.0" cy="338.0" r="5.3"/><circle cx="646.7" cy="341.2" r="5.3"/><circle cx="682.0" cy="334.0" r="5.3"/><circle cx="686.5" cy="344.4" r="5.3"/><circle cx="684.6" cy="346.7" r="5.3"/><circle cx="694.6" cy="334.9" r="5.3"/><circle cx="701.1" cy="332.7" r="5.3"/><circle cx="693.6" cy="331.1" r="5.3"/><circle cx="702.9" cy="334.4" r="5.3"/><circle cx="701.2" cy="336.6" r="5.3"/><circle cx="714.0" cy="340.0" r="5.3"/><circle cx="727.7" cy="331.3" r="5.3"/><circle cx="724.4" cy="331.0" r="5.3"/><circle cx="622.0" cy="346.0" r="5.3"/><circle cx="624.1" cy="343.7" r="5.3"/><circle cx="619.0" cy="363.0" r="5.3"/><circle cx="615.1" cy="360.5" r="5.3"/><circle cx="641.4" cy="354.6" r="5.3"/><circle cx="642.6" cy="357.7" r="5.3"/><circle cx="638.0" cy="359.3" r="5.3"/><circle cx="643.7" cy="361.7" r="5.3"/><circle cx="649.9" cy="359.5" r="5.3"/><circle cx="650.0" cy="364.0" r="5.3"/><circle cx="645.3" cy="362.1" r="5.3"/><circle cx="662.0" cy="348.0" r="5.3"/><circle cx="657.7" cy="348.7" r="5.3"/><circle cx="670.0" cy="350.0" r="5.3"/><circle cx="673.8" cy="349.6" r="5.3"/><circle cx="679.8" cy="356.8" r="5.3"/><circle cx="678.0" cy="359.3" r="5.3"/><circle cx="677.2" cy="356.1" r="5.3"/><circle cx="673.1" cy="360.2" r="5.3"/><circle cx="670.1" cy="356.3" r="5.3"/><circle cx="683.4" cy="354.9" r="5.3"/><circle cx="687.0" cy="357.8" r="5.3"/><circle cx="686.3" cy="357.5" r="5.3"/><circle cx="681.2" cy="353.6" r="5.3"/><circle cx="690.7" cy="358.9" r="5.3"/><circle cx="694.0" cy="354.0" r="5.3"/><circle cx="689.8" cy="356.8" r="5.3"/><circle cx="696.2" cy="364.3" r="5.3"/><circle cx="697.7" cy="368.6" r="5.3"/><circle cx="706.9" cy="367.6" r="5.3"/><circle cx="709.8" cy="362.2" r="5.3"/><circle cx="705.8" cy="363.5" r="5.3"/><circle cx="726.0" cy="360.0" r="5.3"/><circle cx="730.5" cy="349.6" r="5.3"/><circle cx="730.6" cy="349.0" r="5.3"/><circle cx="728.4" cy="346.2" r="5.3"/><circle cx="722.0" cy="352.0" r="5.3"/><circle cx="612.1" cy="374.0" r="5.3"/><circle cx="627.5" cy="385.7" r="5.3"/><circle cx="625.1" cy="386.2" r="5.3"/><circle cx="625.9" cy="390.3" r="5.3"/><circle cx="628.3" cy="383.5" r="5.3"/><circle cx="629.5" cy="384.4" r="5.3"/><circle cx="622.0" cy="392.0" r="5.3"/><circle cx="623.9" cy="393.6" r="5.3"/><circle cx="641.3" cy="371.1" r="5.3"/><circle cx="639.3" cy="375.4" r="5.3"/><circle cx="633.7" cy="369.6" r="5.3"/><circle cx="648.0" cy="376.0" r="5.3"/><circle cx="651.5" cy="379.7" r="5.3"/><circle cx="662.0" cy="392.0" r="5.3"/><circle cx="660.5" cy="395.7" r="5.3"/><circle cx="676.0" cy="384.0" r="5.3"/><circle cx="693.6" cy="381.3" r="5.3"/><circle cx="692.2" cy="382.2" r="5.3"/><circle cx="689.6" cy="380.9" r="5.3"/><circle cx="686.0" cy="390.0" r="5.3"/><circle cx="704.0" cy="390.0" r="5.3"/><circle cx="724.0" cy="372.0" r="5.3"/><circle cx="726.5" cy="373.6" r="5.3"/><circle cx="694.0" cy="370.0" r="5.3"/><circle cx="691.9" cy="367.1" r="5.3"/><circle cx="779.9" cy="277.0" r="5.3"/><circle cx="779.0" cy="271.3" r="5.3"/><circle cx="781.7" cy="273.9" r="5.3"/><circle cx="779.5" cy="276.1" r="5.3"/><circle cx="780.3" cy="277.4" r="5.3"/><circle cx="777.8" cy="280.1" r="5.3"/><circle cx="777.5" cy="277.3" r="5.3"/><circle cx="770.1" cy="279.7" r="5.3"/><circle cx="767.9" cy="282.8" r="5.3"/><circle cx="764.4" cy="285.3" r="5.3"/><circle cx="764.7" cy="293.9" r="5.3"/><circle cx="758.5" cy="296.6" r="5.3"/><circle cx="762.2" cy="293.4" r="5.3"/><circle cx="764.8" cy="290.3" r="5.3"/><circle cx="759.7" cy="296.7" r="5.3"/><circle cx="755.0" cy="298.0" r="5.3"/><circle cx="752.7" cy="294.8" r="5.3"/><circle cx="740.7" cy="283.2" r="5.3"/><circle cx="737.0" cy="290.0" r="5.3"/><circle cx="739.0" cy="285.3" r="5.3"/><circle cx="757.6" cy="318.0" r="5.3"/><circle cx="759.7" cy="313.1" r="5.3"/><circle cx="760.1" cy="308.5" r="5.3"/><circle cx="761.0" cy="316.0" r="5.3"/><circle cx="760.1" cy="313.1" r="5.3"/><circle cx="739.2" cy="313.5" r="5.3"/><circle cx="735.9" cy="312.2" r="5.3"/><circle cx="745.0" cy="316.0" r="5.3"/><circle cx="740.3" cy="315.4" r="5.3"/><circle cx="745.0" cy="324.0" r="5.3"/><circle cx="744.6" cy="354.0" r="5.3"/><circle cx="739.1" cy="349.0" r="5.3"/><circle cx="740.3" cy="345.2" r="5.3"/><circle cx="734.3" cy="354.2" r="5.3"/><circle cx="734.8" cy="351.3" r="5.3"/><circle cx="733.9" cy="350.9" r="5.3"/><circle cx="740.5" cy="355.8" r="5.3"/><circle cx="745.0" cy="362.0" r="5.3"/><circle cx="745.8" cy="359.2" r="5.3"/><circle cx="741.7" cy="364.9" r="5.3"/><circle cx="737.0" cy="366.0" r="5.3"/><circle cx="732.7" cy="368.1" r="5.3"/><circle cx="264.6" cy="399.2" r="5.3"/><circle cx="267.8" cy="402.1" r="5.3"/><circle cx="266.5" cy="400.3" r="5.3"/><circle cx="268.7" cy="402.1" r="5.3"/><circle cx="262.7" cy="400.6" r="5.3"/><circle cx="261.0" cy="403.0" r="5.3"/><circle cx="255.4" cy="401.1" r="5.3"/><circle cx="302.5" cy="399.2" r="5.3"/><circle cx="302.0" cy="400.9" r="5.3"/><circle cx="305.9" cy="402.2" r="5.3"/><circle cx="309.0" cy="399.0" r="5.3"/><circle cx="322.2" cy="398.8" r="5.3"/><circle cx="326.3" cy="403.7" r="5.3"/><circle cx="324.9" cy="406.4" r="5.3"/><circle cx="334.2" cy="401.5" r="5.3"/><circle cx="333.4" cy="403.9" r="5.3"/><circle cx="337.6" cy="408.0" r="5.3"/><circle cx="349.0" cy="405.0" r="5.3"/><circle cx="347.0" cy="410.0" r="5.3"/><circle cx="350.6" cy="405.8" r="5.3"/><circle cx="359.2" cy="405.8" r="5.3"/><circle cx="279.0" cy="417.0" r="5.3"/><circle cx="276.8" cy="419.0" r="5.3"/><circle cx="293.0" cy="421.0" r="5.3"/><circle cx="289.4" cy="420.5" r="5.3"/><circle cx="301.5" cy="423.2" r="5.3"/><circle cx="302.6" cy="422.6" r="5.3"/><circle cx="295.0" cy="431.0" r="5.3"/><circle cx="300.5" cy="429.4" r="5.3"/><circle cx="311.0" cy="417.0" r="5.3"/><circle cx="307.9" cy="416.6" r="5.3"/><circle cx="319.0" cy="419.0" r="5.3"/><circle cx="331.1" cy="430.4" r="5.3"/><circle cx="335.5" cy="425.1" r="5.3"/><circle cx="307.0" cy="431.0" r="5.3"/><circle cx="315.0" cy="435.0" r="5.3"/><circle cx="315.1" cy="430.8" r="5.3"/><circle cx="335.0" cy="415.0" r="5.3"/><circle cx="347.0" cy="415.0" r="5.3"/><circle cx="345.1" cy="419.4" r="5.3"/><circle cx="347.0" cy="447.0" r="5.3"/><circle cx="351.4" cy="445.0" r="5.3"/><circle cx="353.0" cy="455.0" r="5.3"/><circle cx="325.0" cy="441.0" r="5.3"/><circle cx="328.2" cy="444.1" r="5.3"/><circle cx="365.5" cy="406.1" r="5.3"/><circle cx="369.4" cy="401.7" r="5.3"/><circle cx="368.5" cy="405.5" r="5.3"/><circle cx="377.7" cy="403.6" r="5.3"/><circle cx="395.3" cy="397.5" r="5.3"/><circle cx="412.0" cy="405.0" r="5.3"/><circle cx="414.1" cy="403.2" r="5.3"/><circle cx="359.6" cy="394.0" r="5.3"/><circle cx="363.6" cy="393.7" r="5.3"/><circle cx="426.2" cy="404.2" r="5.3"/><circle cx="429.9" cy="395.4" r="5.3"/><circle cx="430.2" cy="398.6" r="5.3"/><circle cx="429.0" cy="400.2" r="5.3"/><circle cx="426.6" cy="397.5" r="5.3"/><circle cx="440.0" cy="397.0" r="5.3"/><circle cx="443.3" cy="401.9" r="5.3"/><circle cx="447.7" cy="405.0" r="5.3"/><circle cx="455.4" cy="406.5" r="5.3"/><circle cx="448.2" cy="400.5" r="5.3"/><circle cx="460.0" cy="399.0" r="5.3"/><circle cx="454.9" cy="398.4" r="5.3"/><circle cx="465.3" cy="406.6" r="5.3"/><circle cx="463.9" cy="404.2" r="5.3"/><circle cx="479.2" cy="403.4" r="5.3"/><circle cx="474.6" cy="401.2" r="5.3"/><circle cx="482.0" cy="399.0" r="5.3"/><circle cx="366.0" cy="417.0" r="5.3"/><circle cx="364.9" cy="419.8" r="5.3"/><circle cx="377.7" cy="416.8" r="5.3"/><circle cx="380.2" cy="413.3" r="5.3"/><circle cx="382.0" cy="413.0" r="5.3"/><circle cx="382.2" cy="410.3" r="5.3"/><circle cx="394.0" cy="423.0" r="5.3"/><circle cx="392.9" cy="425.3" r="5.3"/><circle cx="396.0" cy="429.0" r="5.3"/><circle cx="393.5" cy="433.7" r="5.3"/><circle cx="410.0" cy="421.0" r="5.3"/><circle cx="420.0" cy="417.0" r="5.3"/><circle cx="424.1" cy="416.5" r="5.3"/><circle cx="438.0" cy="425.0" r="5.3"/><circle cx="442.2" cy="423.7" r="5.3"/><circle cx="430.0" cy="429.0" r="5.3"/><circle cx="436.0" cy="429.0" r="5.3"/><circle cx="440.0" cy="417.0" r="5.3"/><circle cx="441.0" cy="412.3" r="5.3"/><circle cx="468.0" cy="417.0" r="5.3"/><circle cx="463.9" cy="417.6" r="5.3"/><circle cx="474.0" cy="429.0" r="5.3"/><circle cx="470.6" cy="432.4" r="5.3"/><circle cx="466.0" cy="431.0" r="5.3"/><circle cx="463.3" cy="433.5" r="5.3"/><circle cx="448.0" cy="437.0" r="5.3"/><circle cx="447.2" cy="432.1" r="5.3"/><circle cx="470.0" cy="443.0" r="5.3"/><circle cx="467.2" cy="446.2" r="5.3"/><circle cx="480.0" cy="445.0" r="5.3"/><circle cx="482.6" cy="443.3" r="5.3"/><circle cx="362.0" cy="429.0" r="5.3"/><circle cx="361.8" cy="425.5" r="5.3"/><circle cx="364.0" cy="447.0" r="5.3"/><circle cx="360.3" cy="442.3" r="5.3"/><circle cx="457.8" cy="457.6" r="5.3"/><circle cx="457.9" cy="455.7" r="5.3"/><circle cx="463.0" cy="464.1" r="5.3"/><circle cx="461.4" cy="464.6" r="5.3"/><circle cx="459.6" cy="461.3" r="5.3"/><circle cx="462.4" cy="467.9" r="5.3"/><circle cx="472.0" cy="459.0" r="5.3"/><circle cx="478.0" cy="465.0" r="5.3"/><circle cx="475.2" cy="463.6" r="5.3"/><circle cx="454.0" cy="469.0" r="5.3"/><circle cx="450.7" cy="472.9" r="5.3"/><circle cx="382.0" cy="467.0" r="5.3"/><circle cx="387.9" cy="467.3" r="5.3"/><circle cx="389.1" cy="468.9" r="5.3"/><circle cx="393.7" cy="465.7" r="5.3"/><circle cx="387.2" cy="464.6" r="5.3"/><circle cx="418.0" cy="469.0" r="5.3"/><circle cx="416.5" cy="466.3" r="5.3"/><circle cx="424.0" cy="471.0" r="5.3"/><circle cx="429.3" cy="473.3" r="5.3"/><circle cx="440.0" cy="479.0" r="5.3"/><circle cx="437.0" cy="475.5" r="5.3"/><circle cx="386.0" cy="477.0" r="5.3"/><circle cx="386.8" cy="473.9" r="5.3"/><circle cx="397.4" cy="478.2" r="5.3"/><circle cx="394.8" cy="480.4" r="5.3"/><circle cx="461.2" cy="479.7" r="5.3"/><circle cx="466.7" cy="480.6" r="5.3"/><circle cx="472.0" cy="475.0" r="5.3"/><circle cx="471.7" cy="478.4" r="5.3"/><circle cx="480.0" cy="479.0" r="5.3"/><circle cx="476.2" cy="479.2" r="5.3"/><circle cx="472.0" cy="489.0" r="5.3"/><circle cx="466.8" cy="490.0" r="5.3"/><circle cx="408.0" cy="489.0" r="5.3"/><circle cx="403.6" cy="488.0" r="5.3"/><circle cx="400.0" cy="495.0" r="5.3"/><circle cx="399.9" cy="499.3" r="5.3"/><circle cx="426.0" cy="497.0" r="5.3"/><circle cx="425.7" cy="492.3" r="5.3"/><circle cx="438.0" cy="499.0" r="5.3"/><circle cx="380.0" cy="501.0" r="5.3"/><circle cx="379.5" cy="495.5" r="5.3"/><circle cx="410.0" cy="507.0" r="5.3"/><circle cx="414.4" cy="503.7" r="5.3"/><circle cx="440.0" cy="511.0" r="5.3"/><circle cx="438.6" cy="514.5" r="5.3"/><circle cx="470.0" cy="507.0" r="5.3"/><circle cx="464.8" cy="509.8" r="5.3"/><circle cx="490.4" cy="402.0" r="5.3"/><circle cx="486.9" cy="401.0" r="5.3"/><circle cx="487.5" cy="402.5" r="5.3"/><circle cx="503.1" cy="400.0" r="5.3"/><circle cx="497.8" cy="404.0" r="5.3"/><circle cx="511.4" cy="398.1" r="5.3"/><circle cx="516.6" cy="399.7" r="5.3"/><circle cx="511.8" cy="396.8" r="5.3"/><circle cx="525.0" cy="401.0" r="5.3"/><circle cx="540.6" cy="407.9" r="5.3"/><circle cx="537.1" cy="410.1" r="5.3"/><circle cx="538.5" cy="407.6" r="5.3"/><circle cx="533.5" cy="404.9" r="5.3"/><circle cx="537.4" cy="409.6" r="5.3"/><circle cx="542.8" cy="401.6" r="5.3"/><circle cx="536.5" cy="404.3" r="5.3"/><circle cx="539.9" cy="409.7" r="5.3"/><circle cx="546.1" cy="399.8" r="5.3"/><circle cx="544.7" cy="402.9" r="5.3"/><circle cx="546.9" cy="396.9" r="5.3"/><circle cx="541.2" cy="399.7" r="5.3"/><circle cx="553.0" cy="397.0" r="5.3"/><circle cx="561.0" cy="401.0" r="5.3"/><circle cx="557.7" cy="396.0" r="5.3"/><circle cx="566.8" cy="396.4" r="5.3"/><circle cx="569.1" cy="400.5" r="5.3"/><circle cx="593.7" cy="399.1" r="5.3"/><circle cx="590.6" cy="394.9" r="5.3"/><circle cx="605.0" cy="399.0" r="5.3"/><circle cx="608.9" cy="400.4" r="5.3"/><circle cx="540.4" cy="416.9" r="5.3"/><circle cx="538.3" cy="421.4" r="5.3"/><circle cx="537.9" cy="421.5" r="5.3"/><circle cx="540.3" cy="424.3" r="5.3"/><circle cx="535.6" cy="426.4" r="5.3"/><circle cx="550.4" cy="425.8" r="5.3"/><circle cx="553.7" cy="419.5" r="5.3"/><circle cx="548.5" cy="419.0" r="5.3"/><circle cx="551.0" cy="417.0" r="5.3"/><circle cx="552.5" cy="414.6" r="5.3"/><circle cx="563.9" cy="417.5" r="5.3"/><circle cx="564.6" cy="413.4" r="5.3"/><circle cx="560.3" cy="413.0" r="5.3"/><circle cx="568.7" cy="428.4" r="5.3"/><circle cx="573.4" cy="423.8" r="5.3"/><circle cx="574.7" cy="415.5" r="5.3"/><circle cx="579.6" cy="415.7" r="5.3"/><circle cx="576.2" cy="410.3" r="5.3"/><circle cx="585.0" cy="407.0" r="5.3"/><circle cx="587.9" cy="411.6" r="5.3"/><circle cx="596.0" cy="405.9" r="5.3"/><circle cx="598.8" cy="407.7" r="5.3"/><circle cx="587.6" cy="408.2" r="5.3"/><circle cx="598.9" cy="418.4" r="5.3"/><circle cx="598.6" cy="417.9" r="5.3"/><circle cx="603.2" cy="418.3" r="5.3"/><circle cx="604.0" cy="415.9" r="5.3"/><circle cx="601.0" cy="425.9" r="5.3"/><circle cx="606.8" cy="421.5" r="5.3"/><circle cx="593.0" cy="429.0" r="5.3"/><circle cx="592.2" cy="432.7" r="5.3"/><circle cx="551.6" cy="438.4" r="5.3"/><circle cx="547.1" cy="435.0" r="5.3"/><circle cx="545.0" cy="443.0" r="5.3"/><circle cx="540.8" cy="440.0" r="5.3"/><circle cx="577.0" cy="439.0" r="5.3"/><circle cx="575.8" cy="435.7" r="5.3"/><circle cx="580.5" cy="442.4" r="5.3"/><circle cx="580.5" cy="445.2" r="5.3"/><circle cx="575.2" cy="443.7" r="5.3"/><circle cx="600.8" cy="445.1" r="5.3"/><circle cx="599.3" cy="441.4" r="5.3"/><circle cx="605.0" cy="443.0" r="5.3"/><circle cx="599.7" cy="444.9" r="5.3"/><circle cx="539.0" cy="459.0" r="5.3"/><circle cx="540.6" cy="455.3" r="5.3"/><circle cx="536.6" cy="464.0" r="5.3"/><circle cx="533.1" cy="467.3" r="5.3"/><circle cx="533.8" cy="469.8" r="5.3"/><circle cx="539.0" cy="483.0" r="5.3"/><circle cx="572.1" cy="463.7" r="5.3"/><circle cx="575.4" cy="460.7" r="5.3"/><circle cx="582.3" cy="466.9" r="5.3"/><circle cx="571.0" cy="487.0" r="5.3"/><circle cx="601.4" cy="485.4" r="5.3"/><circle cx="594.6" cy="485.5" r="5.3"/><circle cx="599.1" cy="483.4" r="5.3"/><circle cx="605.0" cy="483.0" r="5.3"/><circle cx="607.8" cy="482.7" r="5.3"/><circle cx="604.5" cy="498.1" r="5.3"/><circle cx="603.1" cy="497.6" r="5.3"/><circle cx="603.6" cy="495.3" r="5.3"/><circle cx="607.5" cy="497.7" r="5.3"/><circle cx="605.8" cy="493.2" r="5.3"/><circle cx="591.9" cy="492.5" r="5.3"/><circle cx="595.4" cy="486.9" r="5.3"/><circle cx="594.6" cy="506.9" r="5.3"/><circle cx="596.1" cy="504.0" r="5.3"/><circle cx="566.4" cy="509.5" r="5.3"/><circle cx="568.2" cy="504.8" r="5.3"/><circle cx="571.3" cy="506.2" r="5.3"/><circle cx="565.4" cy="507.8" r="5.3"/><circle cx="572.3" cy="510.2" r="5.3"/><circle cx="569.2" cy="511.0" r="5.3"/><circle cx="561.0" cy="501.0" r="5.3"/><circle cx="562.8" cy="503.0" r="5.3"/><circle cx="505.0" cy="417.0" r="5.3"/><circle cx="509.7" cy="413.4" r="5.3"/><circle cx="525.0" cy="423.0" r="5.3"/><circle cx="525.5" cy="428.0" r="5.3"/><circle cx="497.0" cy="429.0" r="5.3"/><circle cx="499.7" cy="427.6" r="5.3"/><circle cx="519.0" cy="429.0" r="5.3"/><circle cx="497.0" cy="443.0" r="5.3"/><circle cx="498.5" cy="439.3" r="5.3"/><circle cx="509.0" cy="445.0" r="5.3"/><circle cx="512.5" cy="444.6" r="5.3"/><circle cx="521.0" cy="443.0" r="5.3"/><circle cx="516.2" cy="445.6" r="5.3"/><circle cx="501.0" cy="453.0" r="5.3"/><circle cx="496.1" cy="453.6" r="5.3"/><circle cx="511.0" cy="453.0" r="5.3"/><circle cx="516.4" cy="451.9" r="5.3"/><circle cx="525.0" cy="455.0" r="5.3"/><circle cx="520.1" cy="456.2" r="5.3"/><circle cx="493.0" cy="463.0" r="5.3"/><circle cx="503.5" cy="462.2" r="5.3"/><circle cx="509.3" cy="461.1" r="5.3"/><circle cx="499.7" cy="460.7" r="5.3"/><circle cx="517.0" cy="463.0" r="5.3"/><circle cx="516.1" cy="467.5" r="5.3"/><circle cx="527.0" cy="465.0" r="5.3"/><circle cx="527.1" cy="468.6" r="5.3"/><circle cx="499.0" cy="473.0" r="5.3"/><circle cx="494.8" cy="476.0" r="5.3"/><circle cx="511.0" cy="471.0" r="5.3"/><circle cx="511.4" cy="475.8" r="5.3"/><circle cx="505.0" cy="481.0" r="5.3"/><circle cx="508.4" cy="478.8" r="5.3"/><circle cx="497.0" cy="515.0" r="5.3"/><circle cx="496.2" cy="511.7" r="5.3"/><circle cx="618.0" cy="400.1" r="5.3"/><circle cx="614.8" cy="400.7" r="5.3"/><circle cx="612.0" cy="403.5" r="5.3"/><circle cx="616.3" cy="403.7" r="5.3"/><circle cx="619.3" cy="404.5" r="5.3"/><circle cx="624.7" cy="398.0" r="5.3"/><circle cx="622.2" cy="400.6" r="5.3"/><circle cx="636.0" cy="401.0" r="5.3"/><circle cx="632.5" cy="399.5" r="5.3"/><circle cx="610.3" cy="413.5" r="5.3"/><circle cx="619.1" cy="416.0" r="5.3"/><circle cx="615.9" cy="411.5" r="5.3"/><circle cx="621.0" cy="425.7" r="5.3"/><circle cx="620.9" cy="424.0" r="5.3"/><circle cx="622.9" cy="420.0" r="5.3"/><circle cx="622.5" cy="428.1" r="5.3"/><circle cx="612.0" cy="425.0" r="5.3"/><circle cx="611.8" cy="441.7" r="5.3"/><circle cx="608.8" cy="439.7" r="5.3"/><circle cx="651.9" cy="406.1" r="5.3"/><circle cx="655.4" cy="410.3" r="5.3"/><circle cx="658.2" cy="407.3" r="5.3"/><circle cx="661.6" cy="409.6" r="5.3"/><circle cx="658.5" cy="405.7" r="5.3"/><circle cx="666.0" cy="403.0" r="5.3"/><circle cx="667.0" cy="418.1" r="5.3"/><circle cx="668.9" cy="417.2" r="5.3"/><circle cx="658.0" cy="427.0" r="5.3"/><circle cx="656.1" cy="429.2" r="5.3"/><circle cx="662.0" cy="397.0" r="5.3"/><circle cx="664.7" cy="397.0" r="5.3"/><circle cx="680.0" cy="399.0" r="5.3"/><circle cx="692.0" cy="401.8" r="5.3"/><circle cx="676.8" cy="415.4" r="5.3"/><circle cx="677.1" cy="418.0" r="5.3"/><circle cx="690.0" cy="415.0" r="5.3"/><circle cx="691.5" cy="410.8" r="5.3"/><circle cx="689.7" cy="425.5" r="5.3"/><circle cx="683.0" cy="432.3" r="5.3"/><circle cx="683.4" cy="429.8" r="5.3"/><circle cx="685.4" cy="430.1" r="5.3"/><circle cx="672.0" cy="441.0" r="5.3"/><circle cx="668.8" cy="440.2" r="5.3"/><circle cx="712.1" cy="411.6" r="5.3"/><circle cx="718.4" cy="420.4" r="5.3"/><circle cx="720.5" cy="425.8" r="5.3"/><circle cx="719.5" cy="427.1" r="5.3"/><circle cx="724.0" cy="429.0" r="5.3"/><circle cx="723.2" cy="425.4" r="5.3"/><circle cx="715.6" cy="436.9" r="5.3"/><circle cx="714.3" cy="436.7" r="5.3"/><circle cx="712.4" cy="437.6" r="5.3"/><circle cx="634.8" cy="453.8" r="5.3"/><circle cx="632.7" cy="454.0" r="5.3"/><circle cx="644.0" cy="451.0" r="5.3"/><circle cx="643.9" cy="456.8" r="5.3"/><circle cx="612.0" cy="489.0" r="5.3"/><circle cx="613.2" cy="483.2" r="5.3"/><circle cx="611.7" cy="499.2" r="5.3"/><circle cx="615.5" cy="494.1" r="5.3"/><circle cx="617.6" cy="500.6" r="5.3"/><circle cx="617.1" cy="504.8" r="5.3"/><circle cx="544.0" cy="532.0" r="5.3"/><circle cx="541.5" cy="536.0" r="5.3"/><circle cx="556.4" cy="535.0" r="5.3"/><circle cx="551.6" cy="533.8" r="5.3"/><circle cx="489.0" cy="547.0" r="5.3"/><circle cx="487.2" cy="543.5" r="5.3"/><circle cx="498.0" cy="517.0" r="5.3"/><circle cx="496.9" cy="513.1" r="5.3"/><circle cx="515.0" cy="525.0" r="5.3"/><circle cx="512.8" cy="526.7" r="5.3"/><circle cx="366.0" cy="513.0" r="5.3"/><circle cx="365.2" cy="510.3" r="5.3"/><circle cx="387.0" cy="529.0" r="5.3"/><circle cx="391.6" cy="526.9" r="5.3"/><circle cx="396.0" cy="529.0" r="5.3"/><circle cx="424.0" cy="536.0" r="5.3"/><circle cx="420.8" cy="538.9" r="5.3"/><circle cx="433.0" cy="531.0" r="5.3"/><circle cx="438.7" cy="530.8" r="5.3"/><circle cx="437.0" cy="513.0" r="5.3"/><circle cx="438.7" cy="515.9" r="5.3"/><circle cx="430.0" cy="497.0" r="5.3"/><circle cx="431.8" cy="493.1" r="5.3"/><circle cx="421.0" cy="543.0" r="5.3"/><circle cx="416.7" cy="544.5" r="5.3"/></g><rect x="121.3" y="411.8" width="412.4" height="139.6" rx="8.8" fill="#fff" fill-opacity="0.8" stroke="#ccc" stroke-opacity="0.8" stroke-width="2"/><circle cx="181.6" cy="450.4" r="5.3" fill="#f00" fill-opacity="0.2" stroke="#f00" stroke-opacity="0.2" stroke-width="2"/><circle cx="181.6" cy="514" r="5.3" fill="#00f" fill-opacity="0.2" stroke="#00f" stroke-opacity="0.2" stroke-width="2"/><g font-family="DejaVu Sans, Liberation Sans, sans-serif" font-size="43.6" fill="#000"><text x="259" y="462.2">Original</text><text x="258.8" y="525.5">Diffusion-TS</text></g><rect x="99.4" y="6.2" width="722.2" height="566.65" fill="none" stroke="#000" stroke-width="1.6" stroke-linejoin="miter"/><g stroke="#000" stroke-width="1.6"><line x1="280.50" y1="572.85" x2="280.50" y2="579.85"/><line x1="480.50" y1="572.85" x2="480.50" y2="579.85"/><line x1="680.50" y1="572.85" x2="680.50" y2="579.85"/><line x1="92.4" y1="93.00" x2="99.4" y2="93.00"/><line x1="92.4" y1="191.40" x2="99.4" y2="191.40"/><line x1="92.4" y1="289.80" x2="99.4" y2="289.80"/><line x1="92.4" y1="388.20" x2="99.4" y2="388.20"/><line x1="92.4" y1="486.60" x2="99.4" y2="486.60"/></g><g font-family="DejaVu Sans, Liberation Sans, sans-serif" font-size="44.0" fill="#000"><text x="233.64" y="619.2">−10</text><text x="466.64" y="619.2">0</text><text x="651.90" y="619.2">10</text><text x="87.5" y="110.00" text-anchor="end">10</text><text x="87.5" y="208.40" text-anchor="end">5</text><text x="87.5" y="306.80" text-anchor="end">0</text><text x="87.5" y="405.20" text-anchor="end">−5</text><text x="87.5" y="503.60" text-anchor="end">−10</text></g></svg></body></html>
